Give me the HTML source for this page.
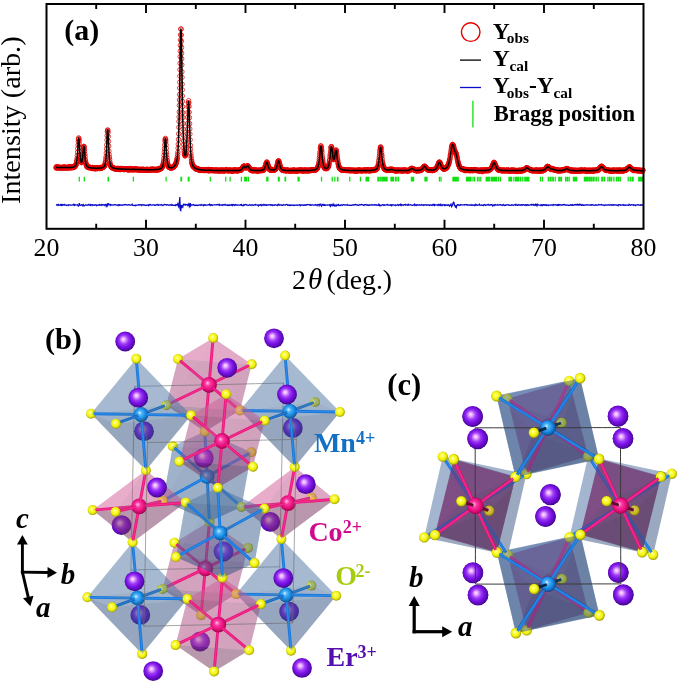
<!DOCTYPE html><html><head><meta charset="utf-8"><title>Figure</title><style>html,body{margin:0;padding:0;background:#fff}svg{display:block}text{font-family:"Liberation Serif","Times New Roman",serif}</style></head><body>
<svg width="683" height="685" viewBox="0 0 683 685">
<defs>
<radialGradient id="gEr" cx=".47" cy=".46" r=".56" fx=".40" fy=".38"><stop offset="0" stop-color="#ffe6ff"/><stop offset=".15" stop-color="#ecb0ff"/><stop offset=".4" stop-color="#9e3cf5"/><stop offset=".64" stop-color="#7a10e6"/><stop offset=".87" stop-color="#560aac"/><stop offset="1" stop-color="#3a0280"/></radialGradient>
<radialGradient id="gO" cx=".47" cy=".46" r=".56" fx=".40" fy=".38"><stop offset="0" stop-color="#ffffd8"/><stop offset=".3" stop-color="#fdfd3c"/><stop offset=".65" stop-color="#f0f010"/><stop offset=".9" stop-color="#b4b400"/><stop offset="1" stop-color="#8c8c00"/></radialGradient>
<radialGradient id="gMn" cx=".47" cy=".46" r=".56" fx=".40" fy=".38"><stop offset="0" stop-color="#d8f4ff"/><stop offset=".25" stop-color="#52b4fa"/><stop offset=".6" stop-color="#1a90e6"/><stop offset=".88" stop-color="#0e62b0"/><stop offset="1" stop-color="#084484"/></radialGradient>
<radialGradient id="gCo" cx=".47" cy=".46" r=".56" fx=".40" fy=".38"><stop offset="0" stop-color="#ffc0e4"/><stop offset=".3" stop-color="#f93aa0"/><stop offset=".65" stop-color="#ea1080"/><stop offset=".9" stop-color="#b00858"/><stop offset="1" stop-color="#860444"/></radialGradient>
</defs>
<rect width="683" height="685" fill="#fff"/>
<g id="pa"><marker id="mk" markerWidth="8" markerHeight="8" refX="4" refY="4" markerUnits="userSpaceOnUse"><circle cx="4" cy="4" r="2.25" fill="none" stroke="#e60000" stroke-width=".75"/></marker>
<polyline points="56,168.1 56.2,166.7 56.4,167.6 56.6,167.3 56.8,167.4 57,167.4 57.3,166.9 57.5,167.4 57.7,167.3 57.9,168.5 58.1,167.6 58.4,167.4 58.6,167.5 58.8,167.3 59,167.2 59.2,167.4 59.5,167.7 59.7,167.5 59.9,167.8 60.1,167.5 60.3,167.6 60.5,168 60.8,167.7 61,167.4 61.2,167.5 61.4,167.7 61.6,168.2 61.9,167.5 62.1,167.5 62.3,167.9 62.5,167.3 62.7,167.5 63,167.9 63.2,167.8 63.4,167.6 63.6,167.8 63.8,166.8 64.1,167.9 64.3,167.3 64.5,167.1 64.7,167.7 64.9,167.8 65.1,167.5 65.4,167.3 65.6,167.6 65.8,167.6 66,168 66.2,167.8 66.5,167.7 66.7,167.9 66.9,167.5 67.1,167.3 67.3,167.8 67.6,167.8 67.8,167.5 68,167.4 68.2,167.7 68.4,166.8 68.6,167.8 68.9,167.7 69.1,167.1 69.3,167.6 69.5,167.2 69.7,167.8 70,166.9 70.2,167.2 70.4,167.7 70.6,167.8 70.8,166.8 71.1,167.3 71.3,167.5 71.5,167.2 71.7,167.8 71.9,167 72.2,167.4 72.4,167 72.6,167.6 72.8,167.2 73,167 73.2,166.6 73.5,167.5 73.7,167.2 73.9,167.1 74.1,167.1 74.3,166.8 74.6,166.4 74.8,166.2 75,166 75.2,166.5 75.4,165.4 75.7,165.3 75.9,165 76.1,164.6 76.3,164 76.5,162.5 76.7,161.1 77,160 77.2,158.2 77.4,155.5 77.6,152.2 77.8,148.6 78.1,145.2 78.3,141.6 78.5,139.4 78.7,137.9 78.9,138.8 79.2,141 79.4,144.3 79.6,147.7 79.8,151.8 80,154.6 80.3,157.1 80.5,158.1 80.7,160.2 80.9,161.2 81.1,162.2 81.3,161.7 81.6,162.7 81.8,162.3 82,160.9 82.2,159.9 82.4,158.6 82.7,157 82.9,154.9 83.1,152.9 83.3,149.8 83.5,147.9 83.8,146.3 84,146.6 84.2,147.3 84.4,149.5 84.6,151.3 84.8,154.3 85.1,156.6 85.3,159.5 85.5,161.1 85.7,162.3 85.9,163.4 86.2,164.6 86.4,164.9 86.6,165.4 86.8,166.2 87,167.1 87.3,166.5 87.5,166.6 87.7,166.5 87.9,166.6 88.1,167.3 88.3,167.5 88.6,167.3 88.8,167.5 89,167.5 89.2,167.6 89.4,167.1 89.7,167.5 89.9,167.7 90.1,167.5 90.3,167.6 90.5,167.6 90.8,167.7 91,168.1 91.2,167.8 91.4,167.9 91.6,168.2 91.9,168.2 92.1,168.5 92.3,167.4 92.5,168.3 92.7,167.9 92.9,168.1 93.2,168.3 93.4,168.4 93.6,168.4 93.8,168.2 94,168.6 94.3,168 94.5,168.1 94.7,168.4 94.9,168 95.1,168.8 95.4,168.5 95.6,168.8 95.8,168.2 96,168.1 96.2,168.2 96.4,168.4 96.7,168 96.9,168.3 97.1,168.2 97.3,168.7 97.5,168 97.8,168.5 98,168 98.2,167.9 98.4,168 98.6,167.8 98.9,168.2 99.1,168.4 99.3,168.2 99.5,168.3 99.7,168.6 100,168.2 100.2,168.1 100.4,167.9 100.6,167.5 100.8,168.2 101,167.4 101.3,168.1 101.5,167.8 101.7,168.1 101.9,167.7 102.1,167.4 102.4,167.7 102.6,167.4 102.8,167.4 103,167.3 103.2,167.2 103.5,167 103.7,166.6 103.9,166.6 104.1,165.8 104.3,166.1 104.5,165.4 104.8,165.7 105,165.1 105.2,163.3 105.4,162.7 105.6,161.1 105.9,158.8 106.1,156.7 106.3,153.1 106.5,148.8 106.7,144.8 107,140.1 107.2,135.6 107.4,131.5 107.6,130 107.8,130.4 108.1,132.4 108.3,136.6 108.5,141.4 108.7,146 108.9,151.1 109.1,154.4 109.4,157.1 109.6,159.6 109.8,161.7 110,163.9 110.2,164.2 110.5,165.1 110.7,165.8 110.9,166.1 111.1,167.1 111.3,166.6 111.6,167.2 111.8,167.2 112,167.5 112.2,167.2 112.4,168.2 112.6,167.7 112.9,167.9 113.1,167.7 113.3,167.8 113.5,168.3 113.7,168.5 114,168.5 114.2,168.7 114.4,168.6 114.6,168.4 114.8,168.7 115.1,168.7 115.3,168.5 115.5,168.8 115.7,169 115.9,168.7 116.1,168.5 116.4,168.9 116.6,169.3 116.8,168.7 117,168.7 117.2,168.7 117.5,169.2 117.7,168.3 117.9,168.9 118.1,169.2 118.3,168.6 118.6,169.3 118.8,169.1 119,168.8 119.2,169 119.4,168.5 119.7,168.8 119.9,169.5 120.1,168.7 120.3,169.6 120.5,169 120.7,169.3 121,169 121.2,168.4 121.4,168.9 121.6,169.1 121.8,168.7 122.1,168.7 122.3,169.2 122.5,168.9 122.7,168.6 122.9,168.9 123.2,169.4 123.4,169 123.6,169.4 123.8,169.6 124,169.2 124.2,168.8 124.5,168.8 124.7,169.2 124.9,169.5 125.1,169.3 125.3,169.4 125.6,169.1 125.8,169.3 126,169.1 126.2,169.2 126.4,168.9 126.7,168.8 126.9,169.1 127.1,168.9 127.3,169 127.5,169.5 127.8,169.3 128,170.2 128.2,169.6 128.4,169.1 128.6,169.6 128.8,169.4 129.1,169.1 129.3,169.7 129.5,169.1 129.7,168.4 129.9,169.6 130.2,169.2 130.4,169.8 130.6,169.2 130.8,169 131,169.8 131.3,169 131.5,169.4 131.7,169.8 131.9,169.4 132.1,169.3 132.3,169.4 132.6,169.6 132.8,169.1 133,169.5 133.2,169.5 133.4,170 133.7,169.2 133.9,169 134.1,169.5 134.3,169.2 134.5,169.4 134.8,169.4 135,169.7 135.2,169.2 135.4,169.4 135.6,168.7 135.9,169.2 136.1,169.9 136.3,169.3 136.5,169.3 136.7,169.1 136.9,169.7 137.2,169.6 137.4,169.2 137.6,169.7 137.8,169.6 138,169.8 138.3,169.4 138.5,170.1 138.7,169.7 138.9,169.5 139.1,169.4 139.4,169.5 139.6,169.8 139.8,169.5 140,169.9 140.2,169.8 140.4,170 140.7,169.9 140.9,169.6 141.1,169 141.3,169.7 141.5,169.9 141.8,169.7 142,169.8 142.2,169.5 142.4,169.5 142.6,169.4 142.9,170.1 143.1,169.7 143.3,169.5 143.5,169.3 143.7,169.6 144,170.1 144.2,169.8 144.4,169.5 144.6,170.1 144.8,170.1 145,170 145.3,169.9 145.5,170 145.7,169.9 145.9,169.9 146.1,169.5 146.4,170.1 146.6,169.8 146.8,170.3 147,169.1 147.2,169.9 147.5,170 147.7,169.6 147.9,169.8 148.1,169.9 148.3,169.9 148.5,169.6 148.8,169.7 149,170 149.2,170.1 149.4,169.7 149.6,169.7 149.9,169.8 150.1,170 150.3,169.4 150.5,169.3 150.7,169.7 151,169.4 151.2,169.5 151.4,169.7 151.6,169.8 151.8,169.4 152,169.9 152.3,169.2 152.5,169.9 152.7,169.2 152.9,169.3 153.1,169.9 153.4,169.6 153.6,169.4 153.8,169.5 154,169.8 154.2,169.6 154.5,169.6 154.7,169.9 154.9,169.4 155.1,169.5 155.3,169.4 155.6,169.9 155.8,169.9 156,169.9 156.2,169.5 156.4,169.5 156.6,169.8 156.9,169.4 157.1,169.7 157.3,169.7 157.5,169.2 157.7,169.4 158,169.3 158.2,169.9 158.4,170.1 158.6,169.2 158.8,169.2 159.1,168.5 159.3,169.2 159.5,169.1 159.7,168.7 159.9,169.2 160.1,168.4 160.4,168.7 160.6,168.7 160.8,168.2 161,168.7 161.2,168.6 161.5,167.7 161.7,167.5 161.9,167.8 162.1,167.3 162.3,166.6 162.6,166.4 162.8,165.7 163,164.8 163.2,164 163.4,162.3 163.7,160.8 163.9,158.3 164.1,155.3 164.3,152.2 164.5,148.7 164.7,144.9 165,141.2 165.2,139.5 165.4,138.4 165.6,139.7 165.8,141.5 166.1,144.8 166.3,148.3 166.5,152.2 166.7,154.9 166.9,157.6 167.2,160.1 167.4,161.8 167.6,163.4 167.8,164.5 168,165.4 168.2,166.5 168.5,166.3 168.7,166.8 168.9,167 169.1,167.4 169.3,167 169.6,167.3 169.8,167.6 170,167.8 170.2,167.7 170.4,167.6 170.7,167.5 170.9,167.9 171.1,168.2 171.3,167.8 171.5,167.8 171.8,167.8 172,167.3 172.2,167.4 172.4,167.4 172.6,167.5 172.8,167.3 173.1,166.8 173.3,167.4 173.5,167.4 173.7,166.6 173.9,166.6 174.2,166.4 174.4,166.3 174.6,165.4 174.8,166.1 175,165.1 175.3,165.3 175.5,164.5 175.7,164 175.9,163.5 176.1,163.3 176.3,162.1 176.6,161.5 176.8,160.5 177,159.1 177.2,158.7 177.4,156.8 177.7,154.5 177.9,152.2 178.1,148.2 178.3,144.2 178.5,139.4 178.7,133.8 178.9,127.3 179,121.5 179.1,116.9 179.3,111.9 179.4,105.3 179.5,99.9 179.6,94.5 179.7,88 179.8,82.2 179.9,76.1 180,69.6 180.1,63.3 180.2,56.7 180.3,51.1 180.4,45.3 180.5,39.9 180.6,34.8 180.8,29 181.1,29.2 181.3,35.1 181.4,41.2 181.5,47.5 181.6,53.2 181.7,58.7 181.8,64.9 181.9,71.8 182,77.4 182.1,84.2 182.2,89.8 182.3,95.9 182.4,101.4 182.5,106.7 182.6,112.6 182.8,117.5 182.9,123.6 183.1,129.3 183.2,135 183.5,140.9 183.7,144.8 183.9,148.1 184.1,150.6 184.3,152.7 184.5,154.3 184.8,154.8 185,155.9 185.2,155.8 185.4,155.5 185.6,154.6 185.9,154 186.1,152.6 186.3,149.6 186.5,147.6 186.7,144.1 187,139.2 187.2,133.9 187.4,129.1 187.6,123.5 187.7,117.4 187.9,112.4 188.1,106.8 188.3,102.8 188.6,100.7 188.8,102.9 189,106.4 189.2,112.3 189.4,117.7 189.6,123.7 189.8,128.9 189.9,134.1 190.1,139.8 190.4,145.3 190.6,149.2 190.8,153.4 191,156 191.2,158.1 191.5,160.6 191.7,161.4 191.9,163 192.1,163.5 192.3,164.5 192.5,164.6 192.8,165.2 193,166.2 193.2,166.3 193.4,166.6 193.6,166.7 193.9,167.2 194.1,166.9 194.3,167.2 194.5,167.7 194.7,167.6 195,167.8 195.2,168.2 195.4,168.3 195.6,168.4 195.8,169 196,168.9 196.3,169.1 196.5,168.8 196.7,168.8 196.9,168.5 197.1,168.9 197.4,168.5 197.6,169 197.8,169.5 198,169.8 198.2,169.6 198.5,169.1 198.7,169.6 198.9,169.3 199.1,169.8 199.3,169.5 199.6,169.9 199.8,170.4 200,170 200.2,170.4 200.4,169.8 200.6,169.7 200.9,170.2 201.1,170.3 201.3,169.7 201.5,169.9 201.7,169.5 202,169.9 202.2,170.2 202.4,169.9 202.6,169.8 202.8,169.6 203.1,170.1 203.3,170.3 203.5,170.2 203.7,170.2 203.9,169.7 204.1,170.6 204.4,170.1 204.6,170.1 204.8,170.4 205,169.5 205.2,170.2 205.5,170.1 205.7,170.3 205.9,170.6 206.1,170.4 206.3,169.7 206.6,170.1 206.8,170.3 207,170.3 207.2,169.9 207.4,169.8 207.7,170.4 207.9,170.4 208.1,170.3 208.3,169.7 208.5,170.8 208.7,169.4 209,170.1 209.2,170.9 209.4,170.2 209.6,170.3 209.8,169.8 210.1,170.6 210.3,169.8 210.5,170.3 210.7,170.2 210.9,169.9 211.2,170.5 211.4,169.8 211.6,170.1 211.8,170.3 212,170.2 212.2,170.5 212.5,170.7 212.7,170.3 212.9,170.2 213.1,170.3 213.3,170.3 213.6,170.7 213.8,170.4 214,170.6 214.2,170.4 214.4,170.2 214.7,170.7 214.9,170.2 215.1,170.5 215.3,170.9 215.5,170.2 215.7,170.5 216,170 216.2,170.3 216.4,170.1 216.6,170.4 216.8,170.3 217.1,170.6 217.3,171 217.5,170.6 217.7,170.7 217.9,170.5 218.2,170.5 218.4,170.3 218.6,170 218.8,170.6 219,171 219.3,170.7 219.5,170.4 219.7,171 219.9,170.4 220.1,170.4 220.3,170.2 220.6,170.3 220.8,170.5 221,171.2 221.2,170.5 221.4,170.2 221.7,170.4 221.9,170.5 222.1,170 222.3,170.6 222.5,170.8 222.8,170.7 223,170.7 223.2,170.2 223.4,170.1 223.6,170.9 223.8,170.9 224.1,170.1 224.3,170.6 224.5,170.6 224.7,170.7 224.9,170.6 225.2,170.4 225.4,170.6 225.6,170.6 225.8,170.5 226,170 226.3,169.6 226.5,170.2 226.7,170 226.9,170.5 227.1,170.7 227.4,170.5 227.6,170.3 227.8,170.4 228,170.8 228.2,170.2 228.4,170.7 228.7,170.6 228.9,170.5 229.1,170.9 229.3,170.2 229.5,170.7 229.8,170.2 230,170.2 230.2,170.2 230.4,170.6 230.6,170.2 230.9,170.5 231.1,170.2 231.3,170.9 231.5,171.1 231.7,170.6 231.9,171 232.2,170.7 232.4,171.2 232.6,170.6 232.8,170.1 233,171 233.3,170.5 233.5,170.2 233.7,170.4 233.9,170.1 234.1,170.5 234.4,170.2 234.6,171 234.8,170.7 235,170 235.2,170.1 235.5,170.4 235.7,170 235.9,170.5 236.1,170.5 236.3,170.3 236.5,170.3 236.8,170.7 237,170.9 237.2,170.9 237.4,170.5 237.6,170.7 237.9,170.2 238.1,170.6 238.3,170.1 238.5,170.6 238.7,170 239,170.1 239.2,170.3 239.4,170.5 239.6,169.9 239.8,170.1 240,170.3 240.3,170.2 240.5,169.8 240.7,170 240.9,169.8 241.1,170.2 241.4,169.8 241.6,169 241.8,168.5 242,168.9 242.2,168.9 242.5,168.2 242.7,168 242.9,167.2 243.1,166.6 243.3,166.8 243.5,166.4 243.8,166.4 244,165.8 244.2,166.4 244.4,166.4 244.6,167.1 244.9,167 245.1,167.2 245.3,167.4 245.5,168.1 245.7,167.8 246,167.5 246.2,167.3 246.4,167 246.6,167.5 246.8,166.2 247.1,166.1 247.3,166.2 247.5,166.2 247.7,165.7 247.9,166 248.1,166.2 248.4,166.6 248.6,166.8 248.8,167.7 249,167.7 249.2,168.6 249.5,168.2 249.7,169.1 249.9,168.8 250.1,168.9 250.3,169.7 250.6,169.5 250.8,170 251,169.7 251.2,170.6 251.4,170.1 251.6,169.9 251.9,170.3 252.1,170.5 252.3,170.1 252.5,170.5 252.7,171 253,170.6 253.2,170.4 253.4,170.2 253.6,170.6 253.8,170 254.1,169.5 254.3,170.3 254.5,170.1 254.7,171 254.9,170.5 255.2,170.2 255.4,170.1 255.6,170.6 255.8,170.2 256,170.3 256.2,170.5 256.5,170.5 256.7,170.5 256.9,170.5 257.1,170.9 257.3,171 257.6,170 257.8,171.3 258,170.5 258.2,170.9 258.4,170.3 258.7,170.6 258.9,170.5 259.1,170.5 259.3,170.7 259.5,170.6 259.7,170.1 260,170.4 260.2,170.6 260.4,170.6 260.6,170.3 260.8,170.3 261.1,170.3 261.3,170 261.5,169.9 261.7,170.7 261.9,170.1 262.2,170.2 262.4,169.9 262.6,170.5 262.8,170.5 263,169.9 263.3,170 263.5,169.5 263.7,170.1 263.9,169.6 264.1,168.8 264.3,169.1 264.6,168.5 264.8,168 265,167.4 265.2,166.5 265.4,165.8 265.7,165.4 265.9,164.4 266.1,163.3 266.3,163.5 266.5,162.4 266.8,162.1 267,162.1 267.2,162.9 267.4,163.6 267.6,164.1 267.8,165.1 268.1,165.2 268.3,166.3 268.5,166.9 268.7,167.6 268.9,168.3 269.2,167.9 269.4,169.8 269.6,168.9 269.8,169.5 270,169.8 270.3,169.9 270.5,169.8 270.7,169 270.9,169.6 271.1,170.2 271.4,169.7 271.6,169.7 271.8,169.3 272,170.4 272.2,170.2 272.4,169.8 272.7,170 272.9,170 273.1,169.7 273.3,169.9 273.5,170.1 273.8,170.1 274,170.3 274.2,169.9 274.4,169.7 274.6,169.9 274.9,169.5 275.1,169.2 275.3,169.7 275.5,169.1 275.7,169 275.9,168.8 276.2,167.9 276.4,167.9 276.6,167.3 276.8,166.4 277,165.8 277.3,164.6 277.5,163.2 277.7,162.9 277.9,161.8 278.1,161.6 278.4,161 278.6,160.7 278.8,161.1 279,162 279.2,162.8 279.4,163.4 279.7,164.4 279.9,165.1 280.1,166 280.3,167 280.5,167.4 280.8,168.1 281,168.1 281.2,168.3 281.4,168.6 281.6,169.2 281.9,169.9 282.1,170 282.3,169.5 282.5,169.4 282.7,170.2 283,170.2 283.2,169.7 283.4,170.5 283.6,170.3 283.8,170.6 284,170.4 284.3,170.6 284.5,170.4 284.7,170.1 284.9,170.3 285.1,170.2 285.4,170.7 285.6,170.1 285.8,170 286,170.7 286.2,170.8 286.5,170.9 286.7,170.8 286.9,170 287.1,170.3 287.3,170.3 287.5,170.5 287.8,169.9 288,170.5 288.2,170.6 288.4,170.3 288.6,170.6 288.9,170.9 289.1,170.6 289.3,170.9 289.5,170.9 289.7,170.7 290,170.7 290.2,170.5 290.4,170.9 290.6,170.4 290.8,170.4 291.1,170.8 291.3,170.4 291.5,170.7 291.7,170.9 291.9,170.6 292.1,170.6 292.4,170.9 292.6,170.8 292.8,170.1 293,170.2 293.2,171 293.5,170.7 293.7,170 293.9,170.2 294.1,170.6 294.3,170.3 294.6,170.7 294.8,170.6 295,170.7 295.2,170.2 295.4,170.8 295.6,171.2 295.9,170.4 296.1,171 296.3,170.9 296.5,170.8 296.7,170.6 297,170.2 297.2,170.3 297.4,170.8 297.6,170.8 297.8,170.9 298.1,170.8 298.3,170.8 298.5,170.4 298.7,170.1 298.9,170.5 299.2,170.6 299.4,170.5 299.6,170 299.8,170.3 300,170 300.2,170.4 300.5,170.1 300.7,170.4 300.9,170.5 301.1,170.5 301.3,170.9 301.6,170.1 301.8,169.8 302,170.8 302.2,170.9 302.4,170.9 302.7,170.6 302.9,170.7 303.1,170.6 303.3,170.1 303.5,170.4 303.7,170.7 304,170.4 304.2,171.1 304.4,170.1 304.6,170.4 304.8,170.9 305.1,170.3 305.3,170.2 305.5,170.1 305.7,170.3 305.9,171 306.2,170.6 306.4,170.7 306.6,170.3 306.8,170.7 307,170.5 307.2,170.2 307.5,170.3 307.7,170.5 307.9,170.8 308.1,170.4 308.3,170.6 308.6,171 308.8,170.2 309,170.1 309.2,170.7 309.4,170.5 309.7,170.4 309.9,170.5 310.1,170.3 310.3,170.5 310.5,170.2 310.8,170.6 311,170 311.2,170.1 311.4,170.3 311.6,170.1 311.8,170.5 312.1,170.2 312.3,170 312.5,170.2 312.7,170 312.9,169.7 313.2,169.8 313.4,169.8 313.6,169.9 313.8,170 314,170.2 314.3,170.1 314.5,170.4 314.7,170.2 314.9,169.7 315.1,170.2 315.3,170 315.6,169.4 315.8,169.5 316,169.7 316.2,169.3 316.4,169.4 316.7,169 316.9,169 317.1,168.4 317.3,168.3 317.5,167.8 317.8,167.7 318,166.4 318.2,166.3 318.4,165.7 318.6,164.4 318.9,163 319.1,161.6 319.3,159.4 319.5,157.4 319.7,155.3 319.9,153 320.2,151.1 320.4,148.5 320.6,147.5 320.8,145.8 321,146.1 321.3,147.2 321.5,149.2 321.7,150.7 321.9,152.5 322.1,155.6 322.4,157.6 322.6,159.3 322.8,161 323,162.6 323.2,164.1 323.4,165.2 323.7,165.4 323.9,167.2 324.1,167 324.3,167.3 324.5,167.9 324.8,167.9 325,168.7 325.2,168.5 325.4,168.1 325.6,168.2 325.9,168.2 326.1,168.3 326.3,168.5 326.5,168.1 326.7,168.7 327,168.2 327.2,168 327.4,168.2 327.6,167.1 327.8,167.2 328,167.3 328.3,166.7 328.5,166.2 328.7,165.6 328.9,164.5 329.1,163.6 329.4,161.9 329.6,160.3 329.8,159.5 330,156.8 330.2,154.8 330.5,153.2 330.7,151 330.9,148.6 331.1,147.2 331.3,146.7 331.5,146.6 331.8,148 332,149.4 332.2,151.2 332.4,153.3 332.6,155.1 332.9,157 333.1,158.3 333.3,158.3 333.5,159.7 333.7,159.3 334,159.1 334.2,159.3 334.4,158 334.6,157.1 334.8,156.2 335,154.3 335.3,152.8 335.5,151.8 335.7,151.1 335.9,150.4 336.1,149.9 336.4,150.8 336.6,152.2 336.8,154.3 337,155.8 337.2,157.5 337.5,159.4 337.7,160.5 337.9,162.2 338.1,163.5 338.3,164.2 338.6,165.4 338.8,166.4 339,166.5 339.2,167.6 339.4,168 339.6,168.5 339.9,168.2 340.1,168.7 340.3,169.3 340.5,169.2 340.7,168.9 341,169.3 341.2,169.8 341.4,169.4 341.6,169.6 341.8,170.4 342.1,169.7 342.3,169.7 342.5,169.5 342.7,169.6 342.9,170.3 343.1,169.9 343.4,169.6 343.6,169.7 343.8,170 344,170.3 344.2,169.9 344.5,170.3 344.7,170 344.9,170.3 345.1,170.3 345.3,170.4 345.6,170.1 345.8,170.2 346,170.4 346.2,169.9 346.4,170.3 346.7,170.5 346.9,170.6 347.1,170.3 347.3,170.3 347.5,170.4 347.7,170.2 348,170.3 348.2,170.5 348.4,170.5 348.6,170.1 348.8,170.3 349.1,169.8 349.3,170.7 349.5,170.3 349.7,170.5 349.9,170.1 350.2,170.4 350.4,170.6 350.6,170.8 350.8,170.1 351,170.7 351.2,170.4 351.5,170.3 351.7,170.6 351.9,170.4 352.1,170.4 352.3,170.3 352.6,170.6 352.8,170.5 353,170.5 353.2,170.2 353.4,170.4 353.7,170.6 353.9,170.9 354.1,170.5 354.3,171 354.5,170.5 354.8,170.2 355,170.7 355.2,170.3 355.4,170.7 355.6,170.9 355.8,170.5 356.1,170.5 356.3,171.3 356.5,170.6 356.7,170.6 356.9,170.8 357.2,170.5 357.4,170.5 357.6,170.7 357.8,169.8 358,171 358.3,170.2 358.5,170.2 358.7,170.7 358.9,170.6 359.1,170.2 359.3,170.6 359.6,170.2 359.8,170.3 360,170.1 360.2,170.3 360.4,170.7 360.7,170.6 360.9,170.6 361.1,170.8 361.3,170.5 361.5,170.3 361.8,170.4 362,171 362.2,170.5 362.4,170.6 362.6,170.4 362.9,170.5 363.1,170.6 363.3,170.4 363.5,170.4 363.7,170.2 363.9,170.1 364.2,170.5 364.4,170.6 364.6,170.6 364.8,170.4 365,170.1 365.3,170.5 365.5,170.5 365.7,169.9 365.9,170.6 366.1,170.6 366.4,170.9 366.6,170.1 366.8,170 367,170.7 367.2,169.9 367.4,170.2 367.7,170.1 367.9,170.1 368.1,169.9 368.3,170.4 368.5,170.7 368.8,170.6 369,170.6 369.2,170.3 369.4,170.9 369.6,170.6 369.9,170.7 370.1,169.9 370.3,170.5 370.5,170 370.7,170.5 370.9,170.4 371.2,170 371.4,170.4 371.6,170.7 371.8,170.4 372,170.4 372.3,170 372.5,170 372.7,169.9 372.9,170.2 373.1,170.5 373.4,170.2 373.6,170.1 373.8,169.7 374,170.1 374.2,169.9 374.5,169.3 374.7,169.3 374.9,169.7 375.1,169.5 375.3,170.1 375.5,169.6 375.8,169.2 376,169.2 376.2,169.7 376.4,168.8 376.6,169.1 376.9,168.8 377.1,168.8 377.3,168.2 377.5,167.4 377.7,167.1 378,166.3 378.2,165.7 378.4,164.3 378.6,163.5 378.8,161.3 379,159.7 379.3,157.3 379.5,155.4 379.7,153.1 379.9,150.9 380.1,149.2 380.4,147.5 380.6,146.8 380.8,147.6 381,148.3 381.2,149.9 381.5,152.6 381.7,154.7 381.9,156 382.1,158.7 382.3,161 382.6,162.6 382.8,163.7 383,165.5 383.2,165.7 383.4,166.7 383.6,167.4 383.9,167.8 384.1,168.5 384.3,168.8 384.5,168.8 384.7,169.4 385,168.9 385.2,169.2 385.4,169.9 385.6,169.5 385.8,169.9 386.1,169.5 386.3,169.6 386.5,169.7 386.7,169.9 386.9,169.8 387.1,169.9 387.4,170.1 387.6,170.3 387.8,170 388,170.2 388.2,170.2 388.5,169.6 388.7,169.5 388.9,170.4 389.1,170.3 389.3,169.9 389.6,169.9 389.8,169.5 390,169.3 390.2,169.7 390.4,169.1 390.7,169.8 390.9,169.3 391.1,169.5 391.3,170 391.5,170 391.7,169.3 392,169.8 392.2,169.2 392.4,169.4 392.6,169.8 392.8,170.2 393.1,169.7 393.3,170.1 393.5,170 393.7,169.7 393.9,170.1 394.2,170.6 394.4,170.2 394.6,170.4 394.8,170.6 395,170.1 395.2,170.7 395.5,170.9 395.7,170.9 395.9,170.8 396.1,170.3 396.3,170.3 396.6,170.3 396.8,170.2 397,170.3 397.2,170.8 397.4,171 397.7,170.3 397.9,170.8 398.1,170.2 398.3,170.4 398.5,170.2 398.7,170.1 399,170.6 399.2,170.6 399.4,170.4 399.6,170.4 399.8,170.3 400.1,170.5 400.3,170.4 400.5,170.6 400.7,170.2 400.9,170.6 401.2,170.7 401.4,170.9 401.6,170.9 401.8,170.6 402,170.4 402.3,170 402.5,170.6 402.7,171 402.9,171.1 403.1,169.8 403.3,170.3 403.6,170.5 403.8,170.3 404,170.6 404.2,170.6 404.4,170.4 404.7,170.5 404.9,170.1 405.1,170.3 405.3,170.3 405.5,170.8 405.8,170 406,170.5 406.2,170.8 406.4,170.5 406.6,170.7 406.8,170.3 407.1,170.6 407.3,170.7 407.5,171.1 407.7,170.6 407.9,170.8 408.2,170.4 408.4,170.4 408.6,170.8 408.8,170.4 409,170.6 409.3,170.3 409.5,170.6 409.7,170.6 409.9,169.5 410.1,170.2 410.4,169.6 410.6,169.5 410.8,169.1 411,169.2 411.2,168.5 411.4,168.4 411.7,168.3 411.9,168.6 412.1,168.8 412.3,168.8 412.5,168.8 412.8,168.7 413,168.5 413.2,169.3 413.4,169.4 413.6,169.6 413.9,170.1 414.1,169.7 414.3,169.8 414.5,169.3 414.7,170.2 414.9,170.1 415.2,170 415.4,170.3 415.6,170 415.8,170.1 416,170.9 416.3,170.6 416.5,170.6 416.7,170.6 416.9,170.6 417.1,170.4 417.4,171 417.6,170.3 417.8,170.6 418,170.3 418.2,170.2 418.5,169.6 418.7,169.7 418.9,170.8 419.1,170.7 419.3,170.1 419.5,170.2 419.8,170.4 420,169.9 420.2,170.7 420.4,169.8 420.6,169.8 420.9,169.1 421.1,170.3 421.3,169.8 421.5,170.1 421.7,169.1 422,169.3 422.2,169 422.4,168.8 422.6,169.1 422.8,168.8 423,168.2 423.3,167.3 423.5,167.3 423.7,167.2 423.9,166.6 424.1,166.5 424.4,166.4 424.6,166 424.8,166.5 425,167.1 425.2,166.6 425.5,167.3 425.7,167.9 425.9,167.6 426.1,168.2 426.3,168.1 426.6,168.7 426.8,168.7 427,169 427.2,169.3 427.4,169.5 427.6,169.7 427.9,169.1 428.1,170.4 428.3,169.9 428.5,169.7 428.7,169.8 429,170.1 429.2,169.8 429.4,170 429.6,170 429.8,170.3 430.1,169.9 430.3,170.3 430.5,170.2 430.7,170.1 430.9,170.5 431.1,170.1 431.4,169.8 431.6,170.2 431.8,170.1 432,170.1 432.2,170.1 432.5,170.7 432.7,170.1 432.9,170.1 433.1,169.9 433.3,170.3 433.6,169.9 433.8,169.6 434,169.5 434.2,169.9 434.4,169.9 434.6,169.2 434.9,169.3 435.1,169.6 435.3,169.6 435.5,168.8 435.7,168.9 436,169.1 436.2,168.4 436.4,168.2 436.6,167.8 436.8,167.2 437.1,167.2 437.3,166.8 437.5,165.7 437.7,165.6 437.9,165.3 438.2,164.4 438.4,164 438.6,163 438.8,163.1 439,162.2 439.2,162.8 439.5,162.1 439.7,162.2 439.9,162.5 440.1,163.1 440.3,163.6 440.6,164.1 440.8,164.8 441,165.7 441.2,166.2 441.4,166.4 441.7,167.3 441.9,167 442.1,167.3 442.3,167.5 442.5,168.3 442.7,167.8 443,168 443.2,168.9 443.4,169.1 443.6,169.1 443.8,168.2 444.1,168.7 444.3,169 444.5,168.7 444.7,168.2 444.9,168.5 445.2,168 445.4,168.1 445.6,169 445.8,168.5 446,167.7 446.3,167.6 446.5,168 446.7,167.5 446.9,167.6 447.1,167 447.3,166.8 447.6,166.6 447.8,165.8 448,165.1 448.2,164.8 448.4,164.3 448.7,163.8 448.9,163.1 449.1,162.2 449.3,161.4 449.5,160 449.8,159.5 450,158.5 450.2,156.7 450.4,155.3 450.6,154.2 450.8,152.5 451.1,150.9 451.3,149.4 451.5,147.9 451.7,146.6 451.9,146.2 452.2,145.6 452.4,144.5 452.6,144.6 452.8,144.8 453,145 453.3,145.4 453.5,146.2 453.7,146.6 453.9,148 454.1,148.7 454.4,150.2 454.6,150.5 454.8,150.7 455,151.4 455.2,152.3 455.4,152.7 455.7,152.7 455.9,153.1 456.1,153.3 456.3,154.4 456.5,155.2 456.8,156 457,157.8 457.2,157.8 457.4,159.4 457.6,160.6 457.9,161.7 458.1,163 458.3,162.9 458.5,163.9 458.7,164.9 458.9,165.5 459.2,165.9 459.4,166.3 459.6,167.3 459.8,167 460,167.5 460.3,168.3 460.5,168.7 460.7,168.6 460.9,168.3 461.1,168.4 461.4,168.5 461.6,168.6 461.8,168.9 462,169.5 462.2,169.3 462.4,169.1 462.7,169.1 462.9,169.1 463.1,169.8 463.3,168.9 463.5,169.7 463.8,169.2 464,169.4 464.2,169.3 464.4,170.1 464.6,169.8 464.9,170.7 465.1,169.6 465.3,169.6 465.5,170.1 465.7,170.1 466,169.9 466.2,169.4 466.4,170.5 466.6,170.2 466.8,170.2 467,169.9 467.3,170.3 467.5,170 467.7,170.2 467.9,170.1 468.1,170.6 468.4,170.1 468.6,170.1 468.8,170.5 469,170.3 469.2,170.2 469.5,170.2 469.7,170.5 469.9,170.1 470.1,170.4 470.3,170.9 470.5,170.4 470.8,170.1 471,169.9 471.2,170.3 471.4,169.9 471.6,169.8 471.9,170.1 472.1,170 472.3,170.5 472.5,169.8 472.7,170.7 473,170 473.2,170.3 473.4,170.4 473.6,170.3 473.8,170.4 474.1,169.9 474.3,169.6 474.5,170.2 474.7,169.7 474.9,170.1 475.1,170.6 475.4,170.2 475.6,170.1 475.8,170 476,170.3 476.2,170.3 476.5,169.9 476.7,170.5 476.9,170.1 477.1,170.5 477.3,170.3 477.6,170.7 477.8,170.7 478,170.5 478.2,170.4 478.4,170.6 478.6,170.9 478.9,170.8 479.1,170.5 479.3,170.6 479.5,170.9 479.7,170 480,170.6 480.2,170.2 480.4,170.9 480.6,170.3 480.8,170.5 481.1,170.2 481.3,170.5 481.5,170.7 481.7,171 481.9,170.1 482.2,170.3 482.4,171.7 482.6,170.8 482.8,170.5 483,170.6 483.2,169.7 483.5,171 483.7,170.5 483.9,170 484.1,170.8 484.3,170.3 484.6,170.1 484.8,170.6 485,170.5 485.2,170.3 485.4,170.4 485.7,170 485.9,170 486.1,170.6 486.3,170.8 486.5,170.5 486.7,170.4 487,170.2 487.2,170.3 487.4,170 487.6,170.8 487.8,170 488.1,170.3 488.3,170.2 488.5,169.7 488.7,170.7 488.9,169.9 489.2,169.7 489.4,169.9 489.6,169.5 489.8,169.7 490,169.3 490.3,169.6 490.5,169.2 490.7,168.6 490.9,169.1 491.1,168.5 491.3,167.8 491.6,167.9 491.8,167.5 492,167.4 492.2,166.1 492.4,166.1 492.7,165.2 492.9,164.9 493.1,164.1 493.3,163.7 493.5,163.4 493.8,162.6 494,162.2 494.2,162.8 494.4,162.9 494.6,163.4 494.8,163.9 495.1,164.2 495.3,165.1 495.5,165.3 495.7,165.9 495.9,166.6 496.2,167 496.4,167.3 496.6,167.7 496.8,167.8 497,168.1 497.3,168.6 497.5,169 497.7,168.8 497.9,169.4 498.1,169.9 498.3,170 498.6,169.5 498.8,169.9 499,169.9 499.2,170 499.4,170.1 499.7,170.1 499.9,170.3 500.1,170.1 500.3,170.1 500.5,170.3 500.8,170.4 501,170.6 501.2,170.4 501.4,170.6 501.6,170.8 501.9,170.1 502.1,170.3 502.3,170.6 502.5,170.5 502.7,170.2 502.9,170.8 503.2,170.5 503.4,170.2 503.6,171.1 503.8,170.1 504,170.5 504.3,170.3 504.5,170.6 504.7,170.7 504.9,170.3 505.1,170.5 505.4,170.5 505.6,170.3 505.8,170.9 506,170.6 506.2,170.5 506.4,170.4 506.7,170.5 506.9,170.7 507.1,170.5 507.3,171 507.5,169.9 507.8,170 508,170.5 508.2,170.1 508.4,170.6 508.6,170.4 508.9,170.8 509.1,170.8 509.3,171 509.5,170.9 509.7,171 510,170.8 510.2,171 510.4,170.8 510.6,170.5 510.8,170.3 511,170.3 511.3,170.8 511.5,169.9 511.7,170.7 511.9,170.4 512.1,170.9 512.4,170.7 512.6,170.4 512.8,170.7 513,170 513.2,170.7 513.5,170.8 513.7,170.1 513.9,170.9 514.1,170.6 514.3,170.7 514.5,170.2 514.8,170.8 515,170.8 515.2,170.7 515.4,170.4 515.6,170.9 515.9,171 516.1,170.8 516.3,171 516.5,170.5 516.7,170.7 517,170.8 517.2,170.7 517.4,171.5 517.6,170.8 517.8,170.5 518.1,170.9 518.3,170.3 518.5,170.7 518.7,170.9 518.9,170.5 519.1,170.5 519.4,170.3 519.6,170.6 519.8,170.4 520,171.1 520.2,170.8 520.5,170.5 520.7,170.1 520.9,171.2 521.1,170.9 521.3,170.7 521.6,170.6 521.8,170.5 522,170.3 522.2,171 522.4,170.5 522.6,169.9 522.9,170.1 523.1,169.5 523.3,170.4 523.5,170.3 523.7,170.5 524,170.5 524.2,169.5 524.4,169.8 524.6,169.8 524.8,169.5 525.1,169 525.3,169.2 525.5,168.9 525.7,169 525.9,168.4 526.1,168.1 526.4,167.9 526.6,167.9 526.8,167.7 527,167.8 527.2,168.1 527.5,168.2 527.7,168.6 527.9,168.7 528.1,168.8 528.3,168.4 528.6,169.2 528.8,169.5 529,169 529.2,169.2 529.4,169.4 529.7,169.5 529.9,169.8 530.1,169.7 530.3,170.2 530.5,169.8 530.7,170.2 531,170.1 531.2,170 531.4,170.7 531.6,170.4 531.8,170.6 532.1,170.4 532.3,170.7 532.5,170.7 532.7,170.5 532.9,170 533.2,170.8 533.4,170.8 533.6,170.6 533.8,170.6 534,170.6 534.2,170.6 534.5,170.3 534.7,170.6 534.9,170.7 535.1,170.4 535.3,170.3 535.6,171.1 535.8,170.8 536,170.5 536.2,170.4 536.4,169.8 536.7,170.2 536.9,170.5 537.1,171 537.3,170 537.5,170.4 537.8,171.2 538,170.8 538.2,170.7 538.4,170.9 538.6,170.5 538.8,170.5 539.1,170.8 539.3,170.8 539.5,170.2 539.7,171 539.9,170 540.2,170.3 540.4,171.4 540.6,170.4 540.8,170.7 541,170.2 541.3,170.4 541.5,170.2 541.7,170.3 541.9,170.6 542.1,170.9 542.3,170.6 542.6,170.8 542.8,170.1 543,170.7 543.2,170.3 543.4,170.5 543.7,169.9 543.9,169.9 544.1,170.3 544.3,169.9 544.5,169.6 544.8,169.3 545,169.3 545.2,169.3 545.4,169.1 545.6,168.5 545.9,168.4 546.1,168.3 546.3,167.6 546.5,168 546.7,167.5 546.9,167.2 547.2,166.4 547.4,166.5 547.6,166.5 547.8,166.6 548,166.5 548.3,167 548.5,167.1 548.7,167.1 548.9,166.8 549.1,168 549.4,167.8 549.6,168.2 549.8,168 550,168.4 550.2,168.8 550.4,168.8 550.7,169.1 550.9,168.8 551.1,169.6 551.3,168.4 551.5,168.9 551.8,169.4 552,169 552.2,169 552.4,168.6 552.6,169.5 552.9,168.6 553.1,169.4 553.3,169.4 553.5,169.7 553.7,169.9 553.9,169.4 554.2,169.4 554.4,169.7 554.6,169.3 554.8,170.2 555,169.9 555.3,170.1 555.5,169.8 555.7,170.2 555.9,170 556.1,170.2 556.4,170 556.6,170.6 556.8,170.2 557,169.6 557.2,170.6 557.5,170.3 557.7,170.2 557.9,171.2 558.1,170.5 558.3,170.1 558.5,170.3 558.8,170.6 559,170.4 559.2,170.9 559.4,170.8 559.6,170.3 559.9,170.5 560.1,170.7 560.3,170.4 560.5,170.4 560.7,170.8 561,170.6 561.2,170.1 561.4,170.3 561.6,170.3 561.8,170.4 562,170.2 562.3,170.8 562.5,170.1 562.7,170 562.9,170.3 563.1,169.6 563.4,169.9 563.6,170.3 563.8,169.6 564,169.7 564.2,170.2 564.5,169.9 564.7,169.7 564.9,169.6 565.1,169.2 565.3,169.4 565.6,169.2 565.8,169.9 566,169.2 566.2,168.9 566.4,168.9 566.6,168.9 566.9,168.5 567.1,168.7 567.3,169.5 567.5,168.7 567.7,169 568,169.6 568.2,169.9 568.4,169.2 568.6,170.1 568.8,169.7 569.1,170.4 569.3,170.1 569.5,170 569.7,170.3 569.9,170.4 570.1,170 570.4,171 570.6,170.3 570.8,170.8 571,170.3 571.2,169.9 571.5,170.2 571.7,170.5 571.9,170.7 572.1,171.1 572.3,170.6 572.6,170.5 572.8,170.2 573,170.6 573.2,170.7 573.4,170 573.7,171 573.9,171 574.1,171.3 574.3,170.4 574.5,170.7 574.7,170.7 575,170.3 575.2,170.4 575.4,170.4 575.6,170.8 575.8,170.8 576.1,171.1 576.3,170.5 576.5,170.2 576.7,170.8 576.9,170.8 577.2,170.9 577.4,171 577.6,170.5 577.8,170.9 578,170.4 578.2,170.7 578.5,170.9 578.7,170.6 578.9,170.7 579.1,170.2 579.3,170.5 579.6,170.7 579.8,170.3 580,170.4 580.2,171.4 580.4,170.7 580.7,170.3 580.9,170.3 581.1,171 581.3,169.7 581.5,170.4 581.8,170.7 582,170.3 582.2,170.6 582.4,170.2 582.6,170.5 582.8,170.5 583.1,170.5 583.3,170.5 583.5,170.5 583.7,170.9 583.9,170.5 584.2,170.4 584.4,170.5 584.6,170.5 584.8,170.1 585,170 585.3,170.2 585.5,170.7 585.7,170.4 585.9,170.5 586.1,171.5 586.3,171 586.6,170.6 586.8,170.4 587,171 587.2,170.4 587.4,171 587.7,170.8 587.9,171.1 588.1,170.4 588.3,170.9 588.5,170.1 588.8,170.6 589,171 589.2,170.8 589.4,170.1 589.6,170.8 589.8,170.8 590.1,170.6 590.3,170.4 590.5,170.5 590.7,170.4 590.9,170.9 591.2,170.7 591.4,170.9 591.6,170.8 591.8,170.2 592,170.6 592.3,171.2 592.5,170.2 592.7,170.7 592.9,170.3 593.1,170.3 593.4,170.6 593.6,170.8 593.8,170.8 594,170.7 594.2,170.8 594.4,170 594.7,170.7 594.9,170.6 595.1,170.4 595.3,170.4 595.5,170.2 595.8,170.7 596,170.1 596.2,169.9 596.4,170.3 596.6,170.1 596.9,170.2 597.1,170.6 597.3,170 597.5,170 597.7,170.6 597.9,169.3 598.2,169.8 598.4,169.9 598.6,169.8 598.8,169.8 599,168.8 599.3,168.9 599.5,168.5 599.7,168.1 599.9,167.8 600.1,167.3 600.4,167.6 600.6,167.5 600.8,166.8 601,167.2 601.2,166.6 601.5,166.5 601.7,166 601.9,167.2 602.1,167.2 602.3,167.1 602.5,167.3 602.8,167.2 603,168 603.2,168.1 603.4,168.5 603.6,168.6 603.9,168.4 604.1,168.5 604.3,169.3 604.5,168.8 604.7,169.6 605,169.9 605.2,169.3 605.4,170 605.6,169.9 605.8,170.1 606,169.8 606.3,170 606.5,170.2 606.7,170.6 606.9,170.3 607.1,170.3 607.4,169.8 607.6,170.3 607.8,170 608,170.2 608.2,170.3 608.5,170.6 608.7,170.5 608.9,170.4 609.1,170.4 609.3,170.8 609.6,170.2 609.8,170.5 610,170.9 610.2,170.4 610.4,170.8 610.6,170.8 610.9,171.1 611.1,170.9 611.3,170.1 611.5,170.6 611.7,170.7 612,170.8 612.2,170.7 612.4,171.2 612.6,170.9 612.8,170.3 613.1,170.4 613.3,170 613.5,171.1 613.7,170.6 613.9,170.6 614.1,170.1 614.4,170.5 614.6,170.7 614.8,170.5 615,170.5 615.2,170.4 615.5,171.2 615.7,170.4 615.9,170.2 616.1,170.5 616.3,170.5 616.6,170.6 616.8,170.5 617,170.3 617.2,170.5 617.4,170.7 617.6,170.2 617.9,171.2 618.1,171.1 618.3,170 618.5,170.5 618.7,170.9 619,171 619.2,171.1 619.4,170 619.6,170.2 619.8,170.4 620.1,170.7 620.3,170.2 620.5,170.7 620.7,170.7 620.9,170.8 621.2,170.2 621.4,170.6 621.6,170.6 621.8,170.4 622,170.9 622.2,170.4 622.5,170.9 622.7,170.3 622.9,171 623.1,171 623.3,170.2 623.6,170.5 623.8,170.5 624,170.1 624.2,170.6 624.4,170.5 624.7,170 624.9,170.2 625.1,170.4 625.3,170 625.5,169.8 625.7,170.4 626,169.5 626.2,169.8 626.4,169.9 626.6,169.6 626.8,168.6 627.1,168.9 627.3,168.8 627.5,168.5 627.7,168.6 627.9,168.3 628.2,168 628.4,167.8 628.6,167.8 628.8,167.8 629,166.7 629.3,167.9 629.5,167 629.7,167.5 629.9,166.9 630.1,167.4 630.3,167.3 630.6,168.2 630.8,168.4 631,168.3 631.2,168.5 631.4,168.9 631.7,168.7 631.9,169 632.1,169.1 632.3,169.7 632.5,169.6 632.8,169.3 633,169.9 633.2,170 633.4,170.4 633.6,169.8 633.8,170.2 634.1,170.7 634.3,170 634.5,170 634.7,170.3 634.9,170 635.2,170.2 635.4,170 635.6,170 635.8,170.5 636,170.2 636.3,170 636.5,170.2 636.7,170.3 636.9,170.5 637.1,170.7 637.4,171 637.6,170.1 637.8,170.4 638,170 638.2,170.6 638.4,170.7 638.7,170.4 638.9,170.3 639.1,170.3 639.3,170.2 639.5,170.8 639.8,171.2 640,170.3 640.2,171.1 640.4,170.6 640.6,170.2 640.9,170.8 641.1,170.9 641.3,170.8 641.5,170.6 641.7,171.2 641.9,170.6 642.2,170.9 642.4,170.9 642.6,170.4 642.8,170.1 643,170.2" fill="none" stroke="none" marker-start="url(#mk)" marker-mid="url(#mk)" marker-end="url(#mk)"/>
<polyline points="56,167.5 56.1,167.5 56.3,167.5 56.4,167.5 56.5,167.5 56.7,167.5 56.8,167.5 57,167.5 57.1,167.5 57.3,167.5 57.4,167.5 57.6,167.5 57.7,167.5 57.9,167.5 58,167.5 58.2,167.5 58.3,167.5 58.5,167.5 58.6,167.5 58.8,167.5 58.9,167.5 59.1,167.5 59.2,167.5 59.4,167.5 59.5,167.6 59.7,167.6 59.8,167.6 60,167.6 60.1,167.6 60.3,167.6 60.4,167.6 60.6,167.6 60.7,167.6 60.9,167.6 61,167.6 61.2,167.6 61.3,167.6 61.5,167.6 61.6,167.6 61.8,167.6 61.9,167.6 62.1,167.6 62.2,167.6 62.4,167.6 62.5,167.6 62.7,167.6 62.8,167.6 63,167.6 63.1,167.6 63.3,167.6 63.4,167.6 63.6,167.6 63.7,167.6 63.9,167.6 64,167.6 64.2,167.6 64.3,167.6 64.5,167.6 64.6,167.6 64.8,167.6 64.9,167.6 65.1,167.6 65.2,167.6 65.4,167.6 65.5,167.6 65.7,167.6 65.8,167.6 66,167.6 66.1,167.6 66.3,167.6 66.4,167.6 66.5,167.6 66.7,167.6 66.8,167.6 67,167.6 67.1,167.6 67.3,167.6 67.4,167.6 67.6,167.6 67.7,167.6 67.9,167.6 68,167.6 68.2,167.6 68.3,167.6 68.5,167.6 68.6,167.6 68.8,167.6 68.9,167.6 69.1,167.6 69.2,167.6 69.4,167.5 69.5,167.5 69.7,167.5 69.8,167.5 70,167.5 70.1,167.5 70.3,167.5 70.4,167.5 70.6,167.5 70.7,167.5 70.9,167.5 71,167.4 71.2,167.4 71.3,167.4 71.5,167.4 71.6,167.4 71.8,167.4 71.9,167.3 72.1,167.3 72.2,167.3 72.4,167.3 72.5,167.2 72.7,167.2 72.8,167.2 73,167.1 73.1,167.1 73.3,167.1 73.4,167 73.6,167 73.7,166.9 73.9,166.9 74,166.8 74.2,166.8 74.3,166.7 74.5,166.6 74.6,166.5 74.8,166.4 74.9,166.3 75.1,166.2 75.2,166.1 75.4,165.9 75.5,165.7 75.7,165.5 75.8,165.2 76,164.9 76.1,164.5 76.3,164.1 76.4,163.5 76.5,162.8 76.7,162 76.8,160.9 77,159.7 77.1,158.3 77.3,156.6 77.4,154.7 77.6,152.6 77.7,150.3 77.9,147.9 78,145.4 78.2,143 78.3,140.9 78.5,139.3 78.6,138.3 78.8,138.1 78.9,138.8 79.1,140.2 79.2,142.1 79.4,144.3 79.5,146.7 79.7,149.1 79.8,151.4 80,153.5 80.1,155.3 80.3,157 80.4,158.4 80.6,159.6 80.7,160.5 80.9,161.2 81,161.8 81.2,162.1 81.3,162.3 81.5,162.4 81.6,162.3 81.8,162 81.9,161.6 82.1,161 82.2,160.2 82.4,159.3 82.5,158.2 82.7,156.9 82.8,155.4 83,153.8 83.1,152.1 83.3,150.4 83.4,148.8 83.6,147.4 83.7,146.5 83.9,146 84,146.2 84.2,146.9 84.3,148.1 84.5,149.7 84.6,151.4 84.8,153.2 84.9,155 85.1,156.7 85.2,158.3 85.4,159.7 85.5,160.9 85.7,162 85.8,162.9 86,163.6 86.1,164.3 86.3,164.8 86.4,165.2 86.5,165.6 86.7,165.8 86.8,166.1 87,166.3 87.1,166.4 87.3,166.6 87.4,166.7 87.6,166.8 87.7,166.9 87.9,167 88,167.1 88.2,167.2 88.3,167.2 88.5,167.3 88.6,167.4 88.8,167.4 88.9,167.5 89.1,167.5 89.2,167.5 89.4,167.6 89.5,167.6 89.7,167.6 89.8,167.7 90,167.7 90.1,167.7 90.3,167.8 90.4,167.8 90.6,167.8 90.7,167.8 90.9,167.9 91,167.9 91.2,167.9 91.3,167.9 91.5,167.9 91.6,167.9 91.8,168 91.9,168 92.1,168 92.2,168 92.4,168 92.5,168 92.7,168 92.8,168.1 93,168.1 93.1,168.1 93.3,168.1 93.4,168.1 93.6,168.1 93.7,168.1 93.9,168.1 94,168.1 94.2,168.1 94.3,168.1 94.5,168.1 94.6,168.1 94.8,168.2 94.9,168.2 95.1,168.2 95.2,168.2 95.4,168.2 95.5,168.2 95.7,168.2 95.8,168.2 96,168.2 96.1,168.2 96.3,168.2 96.4,168.2 96.5,168.2 96.7,168.2 96.8,168.2 97,168.2 97.1,168.2 97.3,168.2 97.4,168.2 97.6,168.2 97.7,168.2 97.9,168.2 98,168.2 98.2,168.2 98.3,168.2 98.5,168.2 98.6,168.2 98.8,168.2 98.9,168.1 99.1,168.1 99.2,168.1 99.4,168.1 99.5,168.1 99.7,168.1 99.8,168.1 100,168.1 100.1,168.1 100.3,168 100.4,168 100.6,168 100.7,168 100.9,168 101,167.9 101.2,167.9 101.3,167.9 101.5,167.9 101.6,167.8 101.8,167.8 101.9,167.7 102.1,167.7 102.2,167.7 102.4,167.6 102.5,167.5 102.7,167.5 102.8,167.4 103,167.4 103.1,167.3 103.3,167.2 103.4,167.1 103.6,167 103.7,166.9 103.9,166.7 104,166.6 104.2,166.4 104.3,166.2 104.5,166 104.6,165.7 104.8,165.3 104.9,164.9 105.1,164.5 105.2,163.8 105.4,163.1 105.5,162.2 105.7,161.1 105.8,159.7 106,158.1 106.1,156.2 106.2,154 106.4,151.5 106.5,148.8 106.7,145.7 106.8,142.5 107,139.2 107.1,136.1 107.3,133.3 107.4,131.2 107.6,129.9 107.7,129.8 107.9,130.7 108,132.6 108.2,135.2 108.3,138.2 108.5,141.5 108.6,144.7 108.8,147.8 108.9,150.7 109.1,153.3 109.2,155.6 109.4,157.6 109.5,159.3 109.7,160.8 109.8,162 110,163 110.1,163.8 110.3,164.4 110.4,165 110.6,165.4 110.7,165.8 110.9,166.1 111,166.3 111.2,166.5 111.3,166.7 111.5,166.9 111.6,167.1 111.8,167.2 111.9,167.3 112.1,167.4 112.2,167.5 112.4,167.6 112.5,167.7 112.7,167.8 112.8,167.8 113,167.9 113.1,168 113.3,168 113.4,168.1 113.6,168.1 113.7,168.2 113.9,168.2 114,168.3 114.2,168.3 114.3,168.3 114.5,168.4 114.6,168.4 114.8,168.4 114.9,168.5 115.1,168.5 115.2,168.5 115.4,168.5 115.5,168.6 115.7,168.6 115.8,168.6 116,168.6 116.1,168.6 116.2,168.7 116.4,168.7 116.5,168.7 116.7,168.7 116.8,168.7 117,168.7 117.1,168.8 117.3,168.8 117.4,168.8 117.6,168.8 117.7,168.8 117.9,168.8 118,168.8 118.2,168.9 118.3,168.9 118.5,168.9 118.6,168.9 118.8,168.9 118.9,168.9 119.1,168.9 119.2,168.9 119.4,168.9 119.5,169 119.7,169 119.8,169 120,169 120.1,169 120.3,169 120.4,169 120.6,169 120.7,169 120.9,169 121,169 121.2,169 121.3,169.1 121.5,169.1 121.6,169.1 121.8,169.1 121.9,169.1 122.1,169.1 122.2,169.1 122.4,169.1 122.5,169.1 122.7,169.1 122.8,169.1 123,169.1 123.1,169.1 123.3,169.1 123.4,169.1 123.6,169.2 123.7,169.2 123.9,169.2 124,169.2 124.2,169.2 124.3,169.2 124.5,169.2 124.6,169.2 124.8,169.2 124.9,169.2 125.1,169.2 125.2,169.2 125.4,169.2 125.5,169.2 125.7,169.2 125.8,169.2 126,169.2 126.1,169.2 126.2,169.2 126.4,169.3 126.5,169.3 126.7,169.3 126.8,169.3 127,169.3 127.1,169.3 127.3,169.3 127.4,169.3 127.6,169.3 127.7,169.3 127.9,169.3 128,169.3 128.2,169.3 128.3,169.3 128.5,169.3 128.6,169.3 128.8,169.3 128.9,169.3 129.1,169.3 129.2,169.3 129.4,169.3 129.5,169.3 129.7,169.3 129.8,169.3 130,169.4 130.1,169.4 130.3,169.4 130.4,169.4 130.6,169.4 130.7,169.4 130.9,169.4 131,169.4 131.2,169.4 131.3,169.4 131.5,169.4 131.6,169.4 131.8,169.4 131.9,169.4 132.1,169.3 132.2,169.3 132.4,169.3 132.5,169.3 132.7,169.3 132.8,169.3 133,169.3 133.1,169.3 133.3,169.3 133.4,169.3 133.6,169.3 133.7,169.3 133.9,169.3 134,169.3 134.2,169.3 134.3,169.3 134.5,169.3 134.6,169.3 134.8,169.3 134.9,169.4 135.1,169.4 135.2,169.4 135.4,169.4 135.5,169.4 135.7,169.4 135.8,169.4 136,169.5 136.1,169.5 136.2,169.5 136.4,169.5 136.5,169.5 136.7,169.5 136.8,169.5 137,169.5 137.1,169.5 137.3,169.5 137.4,169.5 137.6,169.5 137.7,169.5 137.9,169.5 138,169.6 138.2,169.6 138.3,169.6 138.5,169.6 138.6,169.6 138.8,169.6 138.9,169.6 139.1,169.6 139.2,169.6 139.4,169.6 139.5,169.6 139.7,169.6 139.8,169.6 140,169.6 140.1,169.6 140.3,169.6 140.4,169.6 140.6,169.6 140.7,169.6 140.9,169.6 141,169.6 141.2,169.6 141.3,169.6 141.5,169.6 141.6,169.6 141.8,169.6 141.9,169.6 142.1,169.6 142.2,169.6 142.4,169.6 142.5,169.6 142.7,169.6 142.8,169.7 143,169.7 143.1,169.7 143.3,169.7 143.4,169.7 143.6,169.7 143.7,169.7 143.9,169.7 144,169.7 144.2,169.7 144.3,169.7 144.5,169.7 144.6,169.7 144.8,169.7 144.9,169.7 145.1,169.7 145.2,169.7 145.4,169.7 145.5,169.7 145.7,169.7 145.8,169.7 146,169.7 146.1,169.7 146.2,169.7 146.4,169.7 146.5,169.7 146.7,169.7 146.8,169.7 147,169.7 147.1,169.7 147.3,169.7 147.4,169.7 147.6,169.7 147.7,169.7 147.9,169.7 148,169.7 148.2,169.7 148.3,169.7 148.5,169.7 148.6,169.7 148.8,169.7 148.9,169.7 149.1,169.7 149.2,169.7 149.4,169.7 149.5,169.7 149.7,169.7 149.8,169.7 150,169.7 150.1,169.7 150.3,169.7 150.4,169.7 150.6,169.7 150.7,169.7 150.9,169.7 151,169.7 151.2,169.7 151.3,169.7 151.5,169.7 151.6,169.7 151.8,169.7 151.9,169.7 152.1,169.7 152.2,169.7 152.4,169.7 152.5,169.7 152.7,169.7 152.8,169.7 153,169.7 153.1,169.7 153.3,169.7 153.4,169.7 153.6,169.7 153.7,169.7 153.9,169.7 154,169.7 154.2,169.7 154.3,169.6 154.5,169.6 154.6,169.6 154.8,169.6 154.9,169.6 155.1,169.6 155.2,169.6 155.4,169.6 155.5,169.6 155.7,169.6 155.8,169.6 156,169.6 156.1,169.6 156.2,169.5 156.4,169.5 156.5,169.5 156.7,169.5 156.8,169.5 157,169.5 157.1,169.5 157.3,169.4 157.4,169.4 157.6,169.4 157.7,169.4 157.9,169.4 158,169.4 158.2,169.3 158.3,169.3 158.5,169.3 158.6,169.3 158.8,169.2 158.9,169.2 159.1,169.2 159.2,169.1 159.4,169.1 159.5,169.1 159.7,169 159.8,169 160,168.9 160.1,168.9 160.3,168.8 160.4,168.7 160.6,168.7 160.7,168.6 160.9,168.5 161,168.4 161.2,168.3 161.3,168.2 161.5,168.1 161.6,168 161.8,167.8 161.9,167.6 162.1,167.4 162.2,167.2 162.4,166.9 162.5,166.6 162.7,166.1 162.8,165.6 163,165 163.1,164.3 163.3,163.4 163.4,162.4 163.6,161.1 163.7,159.7 163.9,158 164,156.2 164.2,154.1 164.3,151.8 164.5,149.4 164.6,147 164.8,144.6 164.9,142.3 165.1,140.4 165.2,139.1 165.4,138.4 165.5,138.6 165.7,139.4 165.8,141 165.9,143 166.1,145.3 166.2,147.7 166.4,150.1 166.5,152.4 166.7,154.6 166.8,156.6 167,158.4 167.1,159.9 167.3,161.3 167.4,162.4 167.6,163.4 167.7,164.2 167.9,164.8 168,165.4 168.2,165.8 168.3,166.2 168.5,166.5 168.6,166.7 168.8,166.9 168.9,167.1 169.1,167.2 169.2,167.3 169.4,167.4 169.5,167.5 169.7,167.6 169.8,167.6 170,167.7 170.1,167.7 170.3,167.7 170.4,167.8 170.6,167.8 170.7,167.8 170.9,167.8 171,167.8 171.2,167.8 171.3,167.7 171.5,167.7 171.6,167.7 171.8,167.7 171.9,167.6 172.1,167.6 172.2,167.5 172.4,167.5 172.5,167.4 172.7,167.4 172.8,167.3 173,167.2 173.1,167.1 173.3,167 173.4,166.9 173.6,166.8 173.7,166.7 173.9,166.6 174,166.5 174.2,166.3 174.3,166.2 174.5,166 174.6,165.8 174.8,165.6 174.9,165.4 175.1,165.2 175.2,165 175.4,164.7 175.5,164.5 175.7,164.2 175.8,163.8 175.9,163.5 176.1,163.1 176.2,162.7 176.4,162.2 176.5,161.7 176.7,161.1 176.8,160.4 177,159.7 177.1,158.8 177.3,157.8 177.4,156.6 177.6,155.3 177.7,153.6 177.9,151.8 178,149.5 178.2,146.9 178.3,143.8 178.5,140.2 178.6,136 178.8,131.2 178.9,125.7 179.1,119.5 179.2,112.6 179.4,104.9 179.5,96.6 179.7,87.7 179.8,78.4 180,68.8 180.1,59.4 180.3,50.4 180.4,42.4 180.6,35.8 180.7,31.2 180.9,29 181,29.4 181.2,32.3 181.3,37.5 181.5,44.6 181.6,52.9 181.8,62 181.9,71.4 182.1,80.8 182.2,89.9 182.4,98.5 182.5,106.5 182.7,113.8 182.8,120.3 183,126.2 183.1,131.3 183.3,135.8 183.4,139.6 183.6,142.9 183.7,145.6 183.9,147.9 184,149.8 184.2,151.3 184.3,152.6 184.5,153.6 184.6,154.4 184.8,155 184.9,155.4 185.1,155.7 185.2,155.7 185.4,155.7 185.5,155.4 185.7,154.9 185.8,154.3 185.9,153.4 186.1,152.2 186.2,150.7 186.4,148.9 186.5,146.8 186.7,144.3 186.8,141.4 187,138.2 187.1,134.5 187.3,130.6 187.4,126.3 187.6,121.9 187.7,117.4 187.9,113 188,109 188.2,105.6 188.3,103 188.5,101.6 188.6,101.5 188.8,102.7 188.9,105.1 189.1,108.5 189.2,112.6 189.4,117.1 189.5,121.8 189.7,126.5 189.8,131.1 190,135.4 190.1,139.4 190.3,143.1 190.4,146.4 190.6,149.3 190.7,151.9 190.9,154.1 191,156.1 191.2,157.7 191.3,159.1 191.5,160.3 191.6,161.3 191.8,162.2 191.9,162.9 192.1,163.5 192.2,164 192.4,164.5 192.5,164.9 192.7,165.2 192.8,165.6 193,165.8 193.1,166.1 193.3,166.3 193.4,166.6 193.6,166.8 193.7,166.9 193.9,167.1 194,167.3 194.2,167.4 194.3,167.5 194.5,167.7 194.6,167.8 194.8,167.9 194.9,168 195.1,168.1 195.2,168.2 195.4,168.3 195.5,168.4 195.7,168.4 195.8,168.5 195.9,168.6 196.1,168.7 196.2,168.7 196.4,168.8 196.5,168.8 196.7,168.9 196.8,169 197,169 197.1,169.1 197.3,169.1 197.4,169.1 197.6,169.2 197.7,169.2 197.9,169.3 198,169.3 198.2,169.3 198.3,169.4 198.5,169.4 198.6,169.4 198.8,169.5 198.9,169.5 199.1,169.5 199.2,169.6 199.4,169.6 199.5,169.6 199.7,169.6 199.8,169.7 200,169.7 200.1,169.7 200.3,169.7 200.4,169.7 200.6,169.8 200.7,169.8 200.9,169.8 201,169.8 201.2,169.8 201.3,169.9 201.5,169.9 201.6,169.9 201.8,169.9 201.9,169.9 202.1,169.9 202.2,169.9 202.4,170 202.5,170 202.7,170 202.8,170 203,170 203.1,170 203.3,170 203.4,170.1 203.6,170.1 203.7,170.1 203.9,170.1 204,170.1 204.2,170.1 204.3,170.1 204.5,170.1 204.6,170.1 204.8,170.1 204.9,170.2 205.1,170.2 205.2,170.2 205.4,170.2 205.5,170.2 205.7,170.2 205.8,170.2 205.9,170.2 206.1,170.2 206.2,170.2 206.4,170.2 206.5,170.2 206.7,170.2 206.8,170.2 207,170.2 207.1,170.3 207.3,170.3 207.4,170.3 207.6,170.3 207.7,170.3 207.9,170.3 208,170.3 208.2,170.3 208.3,170.3 208.5,170.3 208.6,170.3 208.8,170.3 208.9,170.2 209.1,170.2 209.2,170.2 209.4,170.2 209.5,170.2 209.7,170.2 209.8,170.2 210,170.2 210.1,170.2 210.3,170.2 210.4,170.2 210.6,170.2 210.7,170.2 210.9,170.2 211,170.2 211.2,170.2 211.3,170.3 211.5,170.3 211.6,170.3 211.8,170.3 211.9,170.3 212.1,170.3 212.2,170.4 212.4,170.4 212.5,170.4 212.7,170.4 212.8,170.4 213,170.4 213.1,170.4 213.3,170.4 213.4,170.4 213.6,170.4 213.7,170.4 213.9,170.4 214,170.5 214.2,170.5 214.3,170.5 214.5,170.5 214.6,170.5 214.8,170.5 214.9,170.5 215.1,170.5 215.2,170.5 215.4,170.5 215.5,170.5 215.7,170.5 215.8,170.5 215.9,170.5 216.1,170.5 216.2,170.5 216.4,170.5 216.5,170.5 216.7,170.5 216.8,170.5 217,170.5 217.1,170.5 217.3,170.5 217.4,170.5 217.6,170.5 217.7,170.5 217.9,170.5 218,170.5 218.2,170.5 218.3,170.5 218.5,170.5 218.6,170.5 218.8,170.5 218.9,170.5 219.1,170.5 219.2,170.5 219.4,170.5 219.5,170.5 219.7,170.5 219.8,170.5 220,170.5 220.1,170.5 220.3,170.5 220.4,170.5 220.6,170.5 220.7,170.5 220.9,170.6 221,170.6 221.2,170.6 221.3,170.6 221.5,170.6 221.6,170.6 221.8,170.6 221.9,170.6 222.1,170.6 222.2,170.6 222.4,170.6 222.5,170.6 222.7,170.6 222.8,170.6 223,170.6 223.1,170.6 223.3,170.6 223.4,170.6 223.6,170.6 223.7,170.6 223.9,170.6 224,170.6 224.2,170.6 224.3,170.6 224.5,170.6 224.6,170.6 224.8,170.5 224.9,170.5 225.1,170.5 225.2,170.5 225.4,170.5 225.5,170.5 225.6,170.5 225.8,170.5 225.9,170.5 226.1,170.5 226.2,170.5 226.4,170.5 226.5,170.5 226.7,170.5 226.8,170.5 227,170.5 227.1,170.4 227.3,170.4 227.4,170.4 227.6,170.4 227.7,170.4 227.9,170.4 228,170.4 228.2,170.4 228.3,170.4 228.5,170.4 228.6,170.4 228.8,170.4 228.9,170.4 229.1,170.4 229.2,170.4 229.4,170.4 229.5,170.4 229.7,170.5 229.8,170.5 230,170.5 230.1,170.5 230.3,170.5 230.4,170.5 230.6,170.5 230.7,170.5 230.9,170.5 231,170.5 231.2,170.5 231.3,170.5 231.5,170.5 231.6,170.5 231.8,170.5 231.9,170.5 232.1,170.6 232.2,170.6 232.4,170.6 232.5,170.6 232.7,170.6 232.8,170.6 233,170.6 233.1,170.6 233.3,170.6 233.4,170.6 233.6,170.6 233.7,170.6 233.9,170.6 234,170.6 234.2,170.6 234.3,170.6 234.5,170.6 234.6,170.5 234.8,170.5 234.9,170.5 235.1,170.5 235.2,170.5 235.4,170.5 235.5,170.5 235.6,170.5 235.8,170.5 235.9,170.5 236.1,170.5 236.2,170.5 236.4,170.5 236.5,170.5 236.7,170.5 236.8,170.5 237,170.5 237.1,170.5 237.3,170.5 237.4,170.5 237.6,170.5 237.7,170.5 237.9,170.5 238,170.4 238.2,170.4 238.3,170.4 238.5,170.4 238.6,170.4 238.8,170.4 238.9,170.4 239.1,170.4 239.2,170.3 239.4,170.3 239.5,170.3 239.7,170.3 239.8,170.3 240,170.2 240.1,170.2 240.3,170.2 240.4,170.1 240.6,170.1 240.7,170 240.9,169.9 241,169.8 241.2,169.7 241.3,169.6 241.5,169.5 241.6,169.4 241.8,169.2 241.9,169 242.1,168.8 242.2,168.6 242.4,168.3 242.5,168.1 242.7,167.8 242.8,167.5 243,167.2 243.1,167 243.3,166.7 243.4,166.5 243.6,166.3 243.7,166.2 243.9,166.2 244,166.2 244.2,166.3 244.3,166.5 244.5,166.6 244.6,166.8 244.8,167 244.9,167.2 245.1,167.4 245.2,167.5 245.4,167.6 245.5,167.7 245.6,167.8 245.8,167.8 245.9,167.7 246.1,167.6 246.2,167.5 246.4,167.3 246.5,167.1 246.7,166.9 246.8,166.7 247,166.5 247.1,166.2 247.3,166 247.4,165.8 247.6,165.7 247.7,165.7 247.9,165.7 248,165.8 248.2,166 248.3,166.3 248.5,166.5 248.6,166.8 248.8,167.2 248.9,167.5 249.1,167.8 249.2,168.1 249.4,168.3 249.5,168.6 249.7,168.8 249.8,169 250,169.2 250.1,169.4 250.3,169.5 250.4,169.6 250.6,169.8 250.7,169.8 250.9,169.9 251,170 251.2,170 251.3,170.1 251.5,170.1 251.6,170.2 251.8,170.2 251.9,170.2 252.1,170.3 252.2,170.3 252.4,170.3 252.5,170.3 252.7,170.3 252.8,170.3 253,170.4 253.1,170.4 253.3,170.4 253.4,170.4 253.6,170.4 253.7,170.4 253.9,170.4 254,170.4 254.2,170.4 254.3,170.4 254.5,170.4 254.6,170.4 254.8,170.5 254.9,170.5 255.1,170.5 255.2,170.5 255.4,170.5 255.5,170.5 255.6,170.5 255.8,170.5 255.9,170.5 256.1,170.5 256.2,170.5 256.4,170.5 256.5,170.5 256.7,170.5 256.8,170.5 257,170.5 257.1,170.5 257.3,170.5 257.4,170.5 257.6,170.5 257.7,170.5 257.9,170.5 258,170.5 258.2,170.5 258.3,170.5 258.5,170.5 258.6,170.4 258.8,170.4 258.9,170.4 259.1,170.4 259.2,170.4 259.4,170.4 259.5,170.4 259.7,170.4 259.8,170.4 260,170.4 260.1,170.4 260.3,170.4 260.4,170.4 260.6,170.4 260.7,170.3 260.9,170.3 261,170.3 261.2,170.3 261.3,170.3 261.5,170.3 261.6,170.2 261.8,170.2 261.9,170.2 262.1,170.2 262.2,170.1 262.4,170.1 262.5,170.1 262.7,170 262.8,170 263,169.9 263.1,169.9 263.3,169.8 263.4,169.7 263.6,169.6 263.7,169.5 263.9,169.4 264,169.2 264.2,169 264.3,168.8 264.5,168.6 264.6,168.3 264.8,167.9 264.9,167.6 265.1,167.2 265.2,166.7 265.4,166.3 265.5,165.7 265.6,165.2 265.8,164.7 265.9,164.1 266.1,163.6 266.2,163.1 266.4,162.7 266.5,162.4 266.7,162.2 266.8,162.2 267,162.3 267.1,162.6 267.3,162.9 267.4,163.4 267.6,163.9 267.7,164.4 267.9,165 268,165.5 268.2,166 268.3,166.5 268.5,167 268.6,167.4 268.8,167.8 268.9,168.1 269.1,168.4 269.2,168.7 269.4,168.9 269.5,169.1 269.7,169.2 269.8,169.4 270,169.5 270.1,169.6 270.3,169.7 270.4,169.7 270.6,169.8 270.7,169.8 270.9,169.9 271,169.9 271.2,169.9 271.3,170 271.5,170 271.6,170 271.8,170 271.9,170 272.1,170 272.2,170 272.4,170 272.5,170 272.7,170 272.8,170 273,170 273.1,170 273.3,170 273.4,170 273.6,170 273.7,170 273.9,169.9 274,169.9 274.2,169.9 274.3,169.8 274.5,169.8 274.6,169.8 274.8,169.7 274.9,169.6 275.1,169.5 275.2,169.4 275.4,169.3 275.5,169.2 275.6,169 275.8,168.8 275.9,168.6 276.1,168.4 276.2,168.1 276.4,167.7 276.5,167.3 276.7,166.9 276.8,166.4 277,165.9 277.1,165.3 277.3,164.7 277.4,164.1 277.6,163.4 277.7,162.8 277.9,162.2 278,161.7 278.2,161.2 278.3,160.9 278.5,160.8 278.6,160.8 278.8,161 278.9,161.4 279.1,161.9 279.2,162.4 279.4,163 279.5,163.7 279.7,164.3 279.8,164.9 280,165.5 280.1,166.1 280.3,166.6 280.4,167.1 280.6,167.5 280.7,167.9 280.9,168.2 281,168.5 281.2,168.8 281.3,169 281.5,169.2 281.6,169.3 281.8,169.5 281.9,169.6 282.1,169.7 282.2,169.8 282.4,169.8 282.5,169.9 282.7,170 282.8,170 283,170.1 283.1,170.1 283.3,170.1 283.4,170.2 283.6,170.2 283.7,170.2 283.9,170.2 284,170.3 284.2,170.3 284.3,170.3 284.5,170.3 284.6,170.3 284.8,170.3 284.9,170.4 285.1,170.4 285.2,170.4 285.3,170.4 285.5,170.4 285.6,170.4 285.8,170.4 285.9,170.4 286.1,170.4 286.2,170.5 286.4,170.5 286.5,170.5 286.7,170.5 286.8,170.5 287,170.5 287.1,170.5 287.3,170.5 287.4,170.5 287.6,170.5 287.7,170.5 287.9,170.5 288,170.5 288.2,170.5 288.3,170.5 288.5,170.5 288.6,170.5 288.8,170.5 288.9,170.5 289.1,170.6 289.2,170.6 289.4,170.6 289.5,170.6 289.7,170.6 289.8,170.6 290,170.6 290.1,170.6 290.3,170.6 290.4,170.6 290.6,170.6 290.7,170.6 290.9,170.6 291,170.6 291.2,170.6 291.3,170.6 291.5,170.6 291.6,170.6 291.8,170.6 291.9,170.6 292.1,170.6 292.2,170.6 292.4,170.6 292.5,170.6 292.7,170.6 292.8,170.6 293,170.6 293.1,170.6 293.3,170.6 293.4,170.6 293.6,170.6 293.7,170.6 293.9,170.6 294,170.6 294.2,170.6 294.3,170.6 294.5,170.6 294.6,170.6 294.8,170.6 294.9,170.6 295.1,170.6 295.2,170.6 295.3,170.6 295.5,170.6 295.6,170.6 295.8,170.6 295.9,170.6 296.1,170.6 296.2,170.6 296.4,170.6 296.5,170.6 296.7,170.6 296.8,170.6 297,170.6 297.1,170.6 297.3,170.5 297.4,170.5 297.6,170.5 297.7,170.5 297.9,170.5 298,170.5 298.2,170.5 298.3,170.5 298.5,170.5 298.6,170.5 298.8,170.5 298.9,170.4 299.1,170.4 299.2,170.4 299.4,170.4 299.5,170.4 299.7,170.4 299.8,170.4 300,170.4 300.1,170.4 300.3,170.4 300.4,170.4 300.6,170.4 300.7,170.4 300.9,170.4 301,170.4 301.2,170.4 301.3,170.4 301.5,170.5 301.6,170.5 301.8,170.5 301.9,170.5 302.1,170.5 302.2,170.5 302.4,170.5 302.5,170.5 302.7,170.5 302.8,170.5 303,170.5 303.1,170.5 303.3,170.5 303.4,170.5 303.6,170.5 303.7,170.5 303.9,170.5 304,170.5 304.2,170.5 304.3,170.5 304.5,170.5 304.6,170.5 304.8,170.5 304.9,170.5 305.1,170.5 305.2,170.5 305.3,170.5 305.5,170.5 305.6,170.5 305.8,170.5 305.9,170.5 306.1,170.5 306.2,170.5 306.4,170.5 306.5,170.5 306.7,170.5 306.8,170.5 307,170.5 307.1,170.5 307.3,170.5 307.4,170.5 307.6,170.5 307.7,170.5 307.9,170.5 308,170.4 308.2,170.4 308.3,170.4 308.5,170.4 308.6,170.4 308.8,170.4 308.9,170.4 309.1,170.4 309.2,170.4 309.4,170.4 309.5,170.4 309.7,170.4 309.8,170.4 310,170.4 310.1,170.4 310.3,170.3 310.4,170.3 310.6,170.3 310.7,170.3 310.9,170.3 311,170.3 311.2,170.3 311.3,170.3 311.5,170.3 311.6,170.3 311.8,170.2 311.9,170.2 312.1,170.2 312.2,170.2 312.4,170.2 312.5,170.2 312.7,170.1 312.8,170.1 313,170.1 313.1,170.1 313.3,170.1 313.4,170 313.6,170 313.7,170 313.9,170 314,169.9 314.2,169.9 314.3,169.9 314.5,169.8 314.6,169.8 314.8,169.8 314.9,169.7 315.1,169.7 315.2,169.6 315.3,169.6 315.5,169.5 315.6,169.5 315.8,169.4 315.9,169.3 316.1,169.3 316.2,169.2 316.4,169.1 316.5,169 316.7,168.9 316.8,168.8 317,168.6 317.1,168.5 317.3,168.3 317.4,168 317.6,167.8 317.7,167.5 317.9,167.1 318,166.7 318.2,166.2 318.3,165.7 318.5,165 318.6,164.3 318.8,163.4 318.9,162.4 319.1,161.3 319.2,160.1 319.4,158.8 319.5,157.4 319.7,155.9 319.8,154.3 320,152.7 320.1,151.2 320.3,149.7 320.4,148.4 320.6,147.3 320.7,146.6 320.9,146.2 321,146.3 321.2,146.8 321.3,147.6 321.5,148.7 321.6,150.1 321.8,151.6 321.9,153.1 322.1,154.7 322.2,156.2 322.4,157.7 322.5,159 322.7,160.3 322.8,161.4 323,162.5 323.1,163.4 323.3,164.2 323.4,164.9 323.6,165.5 323.7,166 323.9,166.4 324,166.8 324.2,167.1 324.3,167.3 324.5,167.5 324.6,167.7 324.8,167.9 324.9,168 325.1,168.1 325.2,168.2 325.3,168.2 325.5,168.3 325.6,168.3 325.8,168.3 325.9,168.3 326.1,168.3 326.2,168.3 326.4,168.3 326.5,168.3 326.7,168.3 326.8,168.2 327,168.1 327.1,168.1 327.3,168 327.4,167.9 327.6,167.7 327.7,167.6 327.9,167.4 328,167.2 328.2,166.9 328.3,166.6 328.5,166.2 328.6,165.7 328.8,165.2 328.9,164.6 329.1,163.9 329.2,163.1 329.4,162.2 329.5,161.2 329.7,160 329.8,158.8 330,157.5 330.1,156 330.3,154.6 330.4,153.1 330.6,151.6 330.7,150.2 330.9,148.9 331,147.9 331.2,147.1 331.3,146.7 331.5,146.7 331.6,147.1 331.8,147.8 331.9,148.8 332.1,149.9 332.2,151.2 332.4,152.5 332.5,153.8 332.7,155 332.8,156.1 333,157.1 333.1,158 333.3,158.6 333.4,159.1 333.6,159.5 333.7,159.6 333.9,159.6 334,159.4 334.2,159.1 334.3,158.6 334.5,158 334.6,157.2 334.8,156.4 334.9,155.4 335.1,154.4 335.2,153.5 335.3,152.5 335.5,151.7 335.6,151 335.8,150.5 335.9,150.2 336.1,150.2 336.2,150.6 336.4,151.1 336.5,152 336.7,152.9 336.8,154.1 337,155.2 337.1,156.5 337.3,157.7 337.4,158.8 337.6,160 337.7,161 337.9,162 338,162.9 338.2,163.7 338.3,164.5 338.5,165.1 338.6,165.7 338.8,166.2 338.9,166.7 339.1,167.1 339.2,167.4 339.4,167.7 339.5,168 339.7,168.2 339.8,168.4 340,168.5 340.1,168.7 340.3,168.8 340.4,168.9 340.6,169 340.7,169.1 340.9,169.2 341,169.3 341.2,169.3 341.3,169.4 341.5,169.5 341.6,169.5 341.8,169.6 341.9,169.6 342.1,169.7 342.2,169.7 342.4,169.7 342.5,169.8 342.7,169.8 342.8,169.8 343,169.9 343.1,169.9 343.3,169.9 343.4,170 343.6,170 343.7,170 343.9,170 344,170.1 344.2,170.1 344.3,170.1 344.5,170.1 344.6,170.1 344.8,170.1 344.9,170.2 345,170.2 345.2,170.2 345.3,170.2 345.5,170.2 345.6,170.2 345.8,170.2 345.9,170.3 346.1,170.3 346.2,170.3 346.4,170.3 346.5,170.3 346.7,170.3 346.8,170.3 347,170.3 347.1,170.3 347.3,170.3 347.4,170.4 347.6,170.4 347.7,170.4 347.9,170.4 348,170.4 348.2,170.4 348.3,170.4 348.5,170.4 348.6,170.4 348.8,170.4 348.9,170.4 349.1,170.4 349.2,170.4 349.4,170.4 349.5,170.4 349.7,170.4 349.8,170.5 350,170.5 350.1,170.5 350.3,170.5 350.4,170.5 350.6,170.5 350.7,170.5 350.9,170.5 351,170.5 351.2,170.5 351.3,170.5 351.5,170.5 351.6,170.5 351.8,170.5 351.9,170.5 352.1,170.5 352.2,170.5 352.4,170.5 352.5,170.5 352.7,170.5 352.8,170.5 353,170.5 353.1,170.5 353.3,170.5 353.4,170.5 353.6,170.5 353.7,170.5 353.9,170.5 354,170.5 354.2,170.5 354.3,170.5 354.5,170.5 354.6,170.5 354.8,170.5 354.9,170.5 355,170.5 355.2,170.6 355.3,170.6 355.5,170.6 355.6,170.6 355.8,170.6 355.9,170.6 356.1,170.6 356.2,170.6 356.4,170.6 356.5,170.6 356.7,170.6 356.8,170.6 357,170.6 357.1,170.6 357.3,170.6 357.4,170.6 357.6,170.6 357.7,170.6 357.9,170.6 358,170.6 358.2,170.6 358.3,170.6 358.5,170.6 358.6,170.6 358.8,170.6 358.9,170.6 359.1,170.6 359.2,170.6 359.4,170.6 359.5,170.6 359.7,170.6 359.8,170.6 360,170.6 360.1,170.6 360.3,170.6 360.4,170.6 360.6,170.6 360.7,170.6 360.9,170.5 361,170.5 361.2,170.5 361.3,170.5 361.5,170.5 361.6,170.5 361.8,170.5 361.9,170.5 362.1,170.5 362.2,170.5 362.4,170.5 362.5,170.5 362.7,170.5 362.8,170.5 363,170.5 363.1,170.4 363.3,170.4 363.4,170.4 363.6,170.4 363.7,170.4 363.9,170.4 364,170.4 364.2,170.4 364.3,170.4 364.5,170.4 364.6,170.4 364.8,170.4 364.9,170.4 365,170.4 365.2,170.4 365.3,170.4 365.5,170.4 365.6,170.4 365.8,170.4 365.9,170.4 366.1,170.4 366.2,170.4 366.4,170.4 366.5,170.4 366.7,170.4 366.8,170.4 367,170.4 367.1,170.4 367.3,170.4 367.4,170.4 367.6,170.4 367.7,170.5 367.9,170.5 368,170.5 368.2,170.5 368.3,170.4 368.5,170.4 368.6,170.4 368.8,170.4 368.9,170.4 369.1,170.4 369.2,170.4 369.4,170.4 369.5,170.4 369.7,170.4 369.8,170.4 370,170.4 370.1,170.4 370.3,170.4 370.4,170.4 370.6,170.4 370.7,170.4 370.9,170.4 371,170.4 371.2,170.3 371.3,170.3 371.5,170.3 371.6,170.3 371.8,170.3 371.9,170.3 372.1,170.3 372.2,170.3 372.4,170.2 372.5,170.2 372.7,170.2 372.8,170.2 373,170.2 373.1,170.2 373.3,170.1 373.4,170.1 373.6,170.1 373.7,170.1 373.9,170 374,170 374.2,170 374.3,169.9 374.5,169.9 374.6,169.9 374.8,169.8 374.9,169.8 375,169.7 375.2,169.7 375.3,169.6 375.5,169.6 375.6,169.5 375.8,169.5 375.9,169.4 376.1,169.3 376.2,169.2 376.4,169.1 376.5,169 376.7,168.8 376.8,168.7 377,168.5 377.1,168.3 377.3,168 377.4,167.7 377.6,167.4 377.7,167 377.9,166.5 378,166 378.2,165.3 378.3,164.6 378.5,163.8 378.6,162.8 378.8,161.8 378.9,160.6 379.1,159.3 379.2,157.9 379.4,156.5 379.5,154.9 379.7,153.4 379.8,151.8 380,150.4 380.1,149.1 380.3,148.1 380.4,147.4 380.6,147 380.7,147.1 380.9,147.6 381,148.4 381.2,149.5 381.3,150.9 381.5,152.3 381.6,153.9 381.8,155.4 381.9,156.9 382.1,158.4 382.2,159.7 382.4,161 382.5,162.1 382.7,163.1 382.8,164 383,164.8 383.1,165.5 383.3,166.1 383.4,166.7 383.6,167.1 383.7,167.5 383.9,167.8 384,168.1 384.2,168.3 384.3,168.5 384.5,168.7 384.6,168.8 384.8,169 384.9,169.1 385,169.2 385.2,169.3 385.3,169.4 385.5,169.4 385.6,169.5 385.8,169.6 385.9,169.6 386.1,169.7 386.2,169.7 386.4,169.7 386.5,169.8 386.7,169.8 386.8,169.8 387,169.9 387.1,169.9 387.3,169.9 387.4,169.9 387.6,169.9 387.7,169.9 387.9,170 388,170 388.2,170 388.3,170 388.5,170 388.6,169.9 388.8,169.9 388.9,169.9 389.1,169.9 389.2,169.9 389.4,169.8 389.5,169.8 389.7,169.8 389.8,169.7 390,169.7 390.1,169.7 390.3,169.6 390.4,169.6 390.6,169.5 390.7,169.5 390.9,169.5 391,169.4 391.2,169.4 391.3,169.4 391.5,169.4 391.6,169.4 391.8,169.4 391.9,169.4 392.1,169.5 392.2,169.5 392.4,169.6 392.5,169.6 392.7,169.7 392.8,169.7 393,169.8 393.1,169.8 393.3,169.9 393.4,169.9 393.6,170 393.7,170 393.9,170.1 394,170.1 394.2,170.2 394.3,170.2 394.5,170.2 394.6,170.3 394.8,170.3 394.9,170.3 395,170.3 395.2,170.4 395.3,170.4 395.5,170.4 395.6,170.4 395.8,170.4 395.9,170.4 396.1,170.5 396.2,170.5 396.4,170.5 396.5,170.5 396.7,170.5 396.8,170.5 397,170.5 397.1,170.5 397.3,170.5 397.4,170.5 397.6,170.5 397.7,170.5 397.9,170.5 398,170.5 398.2,170.5 398.3,170.5 398.5,170.5 398.6,170.5 398.8,170.5 398.9,170.5 399.1,170.5 399.2,170.6 399.4,170.6 399.5,170.6 399.7,170.6 399.8,170.6 400,170.6 400.1,170.6 400.3,170.6 400.4,170.6 400.6,170.6 400.7,170.6 400.9,170.6 401,170.6 401.2,170.6 401.3,170.6 401.5,170.6 401.6,170.6 401.8,170.6 401.9,170.6 402.1,170.6 402.2,170.6 402.4,170.6 402.5,170.6 402.7,170.6 402.8,170.6 403,170.6 403.1,170.6 403.3,170.6 403.4,170.6 403.6,170.6 403.7,170.6 403.9,170.6 404,170.6 404.2,170.6 404.3,170.6 404.5,170.6 404.6,170.6 404.7,170.6 404.9,170.5 405,170.5 405.2,170.5 405.3,170.5 405.5,170.5 405.6,170.5 405.8,170.5 405.9,170.5 406.1,170.5 406.2,170.5 406.4,170.5 406.5,170.5 406.7,170.5 406.8,170.5 407,170.5 407.1,170.5 407.3,170.5 407.4,170.5 407.6,170.4 407.7,170.4 407.9,170.4 408,170.4 408.2,170.4 408.3,170.3 408.5,170.3 408.6,170.3 408.8,170.2 408.9,170.2 409.1,170.2 409.2,170.1 409.4,170 409.5,170 409.7,169.9 409.8,169.8 410,169.7 410.1,169.6 410.3,169.5 410.4,169.4 410.6,169.3 410.7,169.2 410.9,169.1 411,168.9 411.2,168.8 411.3,168.7 411.5,168.6 411.6,168.6 411.8,168.5 411.9,168.5 412.1,168.5 412.2,168.5 412.4,168.6 412.5,168.7 412.7,168.8 412.8,168.9 413,169 413.1,169.1 413.3,169.2 413.4,169.3 413.6,169.4 413.7,169.5 413.9,169.6 414,169.7 414.2,169.8 414.3,169.9 414.5,169.9 414.6,170 414.7,170.1 414.9,170.1 415,170.1 415.2,170.2 415.3,170.2 415.5,170.2 415.6,170.3 415.8,170.3 415.9,170.3 416.1,170.3 416.2,170.3 416.4,170.3 416.5,170.3 416.7,170.3 416.8,170.4 417,170.4 417.1,170.4 417.3,170.4 417.4,170.4 417.6,170.4 417.7,170.4 417.9,170.3 418,170.3 418.2,170.3 418.3,170.3 418.5,170.3 418.6,170.3 418.8,170.3 418.9,170.3 419.1,170.3 419.2,170.3 419.4,170.3 419.5,170.2 419.7,170.2 419.8,170.2 420,170.2 420.1,170.2 420.3,170.1 420.4,170.1 420.6,170 420.7,170 420.9,169.9 421,169.9 421.2,169.8 421.3,169.7 421.5,169.6 421.6,169.5 421.8,169.4 421.9,169.3 422.1,169.1 422.2,169 422.4,168.8 422.5,168.6 422.7,168.4 422.8,168.2 423,167.9 423.1,167.7 423.3,167.4 423.4,167.2 423.6,167 423.7,166.7 423.9,166.6 424,166.4 424.2,166.3 424.3,166.2 424.5,166.2 424.6,166.2 424.7,166.3 424.9,166.5 425,166.7 425.2,166.9 425.3,167.1 425.5,167.3 425.6,167.6 425.8,167.8 425.9,168 426.1,168.3 426.2,168.5 426.4,168.7 426.5,168.8 426.7,169 426.8,169.2 427,169.3 427.1,169.4 427.3,169.5 427.4,169.6 427.6,169.7 427.7,169.8 427.9,169.8 428,169.9 428.2,169.9 428.3,169.9 428.5,170 428.6,170 428.8,170 428.9,170.1 429.1,170.1 429.2,170.1 429.4,170.1 429.5,170.1 429.7,170.1 429.8,170.1 430,170.1 430.1,170.1 430.3,170.1 430.4,170.1 430.6,170.1 430.7,170.1 430.9,170.1 431,170.1 431.2,170.1 431.3,170.1 431.5,170.1 431.6,170.1 431.8,170.1 431.9,170.1 432.1,170.1 432.2,170.1 432.4,170 432.5,170 432.7,170 432.8,170 433,170 433.1,170 433.3,169.9 433.4,169.9 433.6,169.9 433.7,169.9 433.9,169.8 434,169.8 434.2,169.8 434.3,169.7 434.5,169.7 434.6,169.7 434.7,169.6 434.9,169.5 435,169.5 435.2,169.4 435.3,169.3 435.5,169.2 435.6,169.1 435.8,169 435.9,168.8 436.1,168.7 436.2,168.5 436.4,168.3 436.5,168.1 436.7,167.8 436.8,167.6 437,167.3 437.1,167 437.3,166.6 437.4,166.3 437.6,165.9 437.7,165.5 437.9,165.1 438,164.7 438.2,164.3 438.3,163.9 438.5,163.5 438.6,163.1 438.8,162.8 438.9,162.5 439.1,162.3 439.2,162.2 439.4,162.2 439.5,162.3 439.7,162.4 439.8,162.6 440,162.9 440.1,163.2 440.3,163.6 440.4,164 440.6,164.3 440.7,164.7 440.9,165.1 441,165.5 441.2,165.9 441.3,166.2 441.5,166.5 441.6,166.8 441.8,167.1 441.9,167.3 442.1,167.5 442.2,167.7 442.4,167.9 442.5,168.1 442.7,168.2 442.8,168.3 443,168.4 443.1,168.5 443.3,168.6 443.4,168.6 443.6,168.6 443.7,168.7 443.9,168.7 444,168.7 444.2,168.7 444.3,168.7 444.5,168.7 444.6,168.7 444.7,168.7 444.9,168.6 445,168.6 445.2,168.5 445.3,168.5 445.5,168.4 445.6,168.4 445.8,168.3 445.9,168.2 446.1,168.1 446.2,168 446.4,167.9 446.5,167.8 446.7,167.7 446.8,167.5 447,167.4 447.1,167.2 447.3,167 447.4,166.8 447.6,166.5 447.7,166.2 447.9,165.9 448,165.6 448.2,165.3 448.3,164.9 448.5,164.4 448.6,164 448.8,163.5 448.9,162.9 449.1,162.3 449.2,161.7 449.4,161 449.5,160.3 449.7,159.5 449.8,158.7 450,157.9 450.1,157 450.3,156.1 450.4,155.1 450.6,154.2 450.7,153.2 450.9,152.2 451,151.2 451.2,150.2 451.3,149.3 451.5,148.4 451.6,147.6 451.8,146.8 451.9,146.1 452.1,145.6 452.2,145.1 452.4,144.8 452.5,144.7 452.7,144.6 452.8,144.7 453,144.9 453.1,145.3 453.3,145.7 453.4,146.1 453.6,146.7 453.7,147.2 453.9,147.8 454,148.3 454.2,148.9 454.3,149.4 454.5,149.9 454.6,150.3 454.7,150.7 454.9,151.1 455,151.5 455.2,151.8 455.3,152.1 455.5,152.4 455.6,152.7 455.8,153 455.9,153.3 456.1,153.7 456.2,154.2 456.4,154.7 456.5,155.3 456.7,155.9 456.8,156.6 457,157.3 457.1,158.1 457.3,158.8 457.4,159.6 457.6,160.3 457.7,161 457.9,161.7 458,162.3 458.2,162.9 458.3,163.5 458.5,164 458.6,164.5 458.8,165 458.9,165.4 459.1,165.8 459.2,166.2 459.4,166.5 459.5,166.8 459.7,167.1 459.8,167.3 460,167.6 460.1,167.8 460.3,167.9 460.4,168.1 460.6,168.2 460.7,168.4 460.9,168.5 461,168.6 461.2,168.7 461.3,168.8 461.5,168.9 461.6,169 461.8,169 461.9,169.1 462.1,169.2 462.2,169.2 462.4,169.3 462.5,169.3 462.7,169.4 462.8,169.4 463,169.5 463.1,169.5 463.3,169.5 463.4,169.6 463.6,169.6 463.7,169.6 463.9,169.7 464,169.7 464.2,169.7 464.3,169.8 464.4,169.8 464.6,169.8 464.7,169.8 464.9,169.9 465,169.9 465.2,169.9 465.3,169.9 465.5,169.9 465.6,170 465.8,170 465.9,170 466.1,170 466.2,170 466.4,170 466.5,170.1 466.7,170.1 466.8,170.1 467,170.1 467.1,170.1 467.3,170.1 467.4,170.1 467.6,170.1 467.7,170.2 467.9,170.2 468,170.2 468.2,170.2 468.3,170.2 468.5,170.2 468.6,170.2 468.8,170.2 468.9,170.2 469.1,170.2 469.2,170.3 469.4,170.3 469.5,170.3 469.7,170.3 469.8,170.3 470,170.3 470.1,170.3 470.3,170.3 470.4,170.3 470.6,170.3 470.7,170.3 470.9,170.3 471,170.3 471.2,170.3 471.3,170.3 471.5,170.3 471.6,170.3 471.8,170.3 471.9,170.3 472.1,170.3 472.2,170.3 472.4,170.3 472.5,170.3 472.7,170.3 472.8,170.3 473,170.3 473.1,170.3 473.3,170.3 473.4,170.3 473.6,170.3 473.7,170.2 473.9,170.2 474,170.2 474.2,170.3 474.3,170.3 474.4,170.3 474.6,170.3 474.7,170.3 474.9,170.3 475,170.3 475.2,170.3 475.3,170.3 475.5,170.3 475.6,170.3 475.8,170.4 475.9,170.4 476.1,170.4 476.2,170.4 476.4,170.4 476.5,170.4 476.7,170.4 476.8,170.4 477,170.4 477.1,170.4 477.3,170.4 477.4,170.5 477.6,170.5 477.7,170.5 477.9,170.5 478,170.5 478.2,170.5 478.3,170.5 478.5,170.5 478.6,170.5 478.8,170.5 478.9,170.5 479.1,170.5 479.2,170.5 479.4,170.5 479.5,170.5 479.7,170.5 479.8,170.5 480,170.5 480.1,170.5 480.3,170.5 480.4,170.5 480.6,170.5 480.7,170.5 480.9,170.5 481,170.5 481.2,170.5 481.3,170.5 481.5,170.5 481.6,170.5 481.8,170.5 481.9,170.5 482.1,170.5 482.2,170.5 482.4,170.5 482.5,170.5 482.7,170.5 482.8,170.5 483,170.5 483.1,170.5 483.3,170.5 483.4,170.5 483.6,170.5 483.7,170.5 483.9,170.5 484,170.5 484.2,170.5 484.3,170.5 484.4,170.4 484.6,170.4 484.7,170.4 484.9,170.4 485,170.4 485.2,170.4 485.3,170.4 485.5,170.4 485.6,170.4 485.8,170.4 485.9,170.4 486.1,170.4 486.2,170.4 486.4,170.4 486.5,170.3 486.7,170.3 486.8,170.3 487,170.3 487.1,170.3 487.3,170.3 487.4,170.3 487.6,170.3 487.7,170.2 487.9,170.2 488,170.2 488.2,170.2 488.3,170.1 488.5,170.1 488.6,170.1 488.8,170.1 488.9,170 489.1,170 489.2,169.9 489.4,169.9 489.5,169.8 489.7,169.8 489.8,169.7 490,169.6 490.1,169.5 490.3,169.4 490.4,169.3 490.6,169.1 490.7,169 490.9,168.8 491,168.6 491.2,168.4 491.3,168.2 491.5,167.9 491.6,167.7 491.8,167.4 491.9,167.1 492.1,166.7 492.2,166.4 492.4,166 492.5,165.7 492.7,165.3 492.8,164.9 493,164.5 493.1,164.1 493.3,163.8 493.4,163.5 493.6,163.2 493.7,163 493.9,162.9 494,162.8 494.2,162.8 494.3,162.9 494.4,163.1 494.6,163.3 494.7,163.5 494.9,163.9 495,164.2 495.2,164.6 495.3,164.9 495.5,165.3 495.6,165.7 495.8,166 495.9,166.4 496.1,166.7 496.2,167 496.4,167.3 496.5,167.6 496.7,167.8 496.8,168 497,168.2 497.1,168.4 497.3,168.6 497.4,168.7 497.6,168.9 497.7,169 497.9,169.1 498,169.2 498.2,169.3 498.3,169.4 498.5,169.5 498.6,169.5 498.8,169.6 498.9,169.7 499.1,169.7 499.2,169.8 499.4,169.9 499.5,169.9 499.7,169.9 499.8,170 500,170 500.1,170.1 500.3,170.1 500.4,170.1 500.6,170.2 500.7,170.2 500.9,170.2 501,170.3 501.2,170.3 501.3,170.3 501.5,170.3 501.6,170.3 501.8,170.4 501.9,170.4 502.1,170.4 502.2,170.4 502.4,170.4 502.5,170.4 502.7,170.4 502.8,170.4 503,170.5 503.1,170.5 503.3,170.5 503.4,170.5 503.6,170.5 503.7,170.5 503.9,170.5 504,170.5 504.2,170.5 504.3,170.5 504.4,170.5 504.6,170.5 504.7,170.5 504.9,170.5 505,170.5 505.2,170.6 505.3,170.6 505.5,170.6 505.6,170.6 505.8,170.6 505.9,170.6 506.1,170.6 506.2,170.6 506.4,170.6 506.5,170.6 506.7,170.6 506.8,170.6 507,170.6 507.1,170.6 507.3,170.6 507.4,170.6 507.6,170.6 507.7,170.6 507.9,170.6 508,170.6 508.2,170.6 508.3,170.6 508.5,170.6 508.6,170.6 508.8,170.6 508.9,170.6 509.1,170.6 509.2,170.6 509.4,170.6 509.5,170.6 509.7,170.6 509.8,170.6 510,170.6 510.1,170.6 510.3,170.6 510.4,170.6 510.6,170.6 510.7,170.6 510.9,170.6 511,170.6 511.2,170.6 511.3,170.6 511.5,170.6 511.6,170.6 511.8,170.6 511.9,170.6 512.1,170.6 512.2,170.6 512.4,170.6 512.5,170.6 512.7,170.6 512.8,170.6 513,170.6 513.1,170.6 513.3,170.6 513.4,170.6 513.6,170.6 513.7,170.6 513.9,170.6 514,170.6 514.2,170.6 514.3,170.6 514.4,170.6 514.6,170.6 514.7,170.6 514.9,170.6 515,170.6 515.2,170.6 515.3,170.6 515.5,170.6 515.6,170.6 515.8,170.6 515.9,170.6 516.1,170.6 516.2,170.6 516.4,170.6 516.5,170.6 516.7,170.6 516.8,170.6 517,170.6 517.1,170.6 517.3,170.6 517.4,170.6 517.6,170.6 517.7,170.6 517.9,170.6 518,170.6 518.2,170.6 518.3,170.6 518.5,170.6 518.6,170.6 518.8,170.6 518.9,170.6 519.1,170.6 519.2,170.6 519.4,170.6 519.5,170.6 519.7,170.6 519.8,170.6 520,170.6 520.1,170.6 520.3,170.6 520.4,170.5 520.6,170.5 520.7,170.5 520.9,170.5 521,170.5 521.2,170.5 521.3,170.5 521.5,170.5 521.6,170.5 521.8,170.5 521.9,170.4 522.1,170.4 522.2,170.4 522.4,170.4 522.5,170.3 522.7,170.3 522.8,170.3 523,170.2 523.1,170.2 523.3,170.2 523.4,170.1 523.6,170 523.7,170 523.9,169.9 524,169.8 524.1,169.7 524.3,169.7 524.4,169.6 524.6,169.5 524.7,169.3 524.9,169.2 525,169.1 525.2,169 525.3,168.9 525.5,168.7 525.6,168.6 525.8,168.5 525.9,168.3 526.1,168.2 526.2,168.1 526.4,168 526.5,168 526.7,167.9 526.8,167.9 527,167.9 527.1,167.9 527.3,168 527.4,168.1 527.6,168.2 527.7,168.3 527.9,168.4 528,168.5 528.2,168.6 528.3,168.8 528.5,168.9 528.6,169 528.8,169.1 528.9,169.3 529.1,169.4 529.2,169.5 529.4,169.6 529.5,169.7 529.7,169.8 529.8,169.9 530,169.9 530.1,170 530.3,170.1 530.4,170.1 530.6,170.2 530.7,170.2 530.9,170.2 531,170.3 531.2,170.3 531.3,170.3 531.5,170.4 531.6,170.4 531.8,170.4 531.9,170.4 532.1,170.4 532.2,170.5 532.4,170.5 532.5,170.5 532.7,170.5 532.8,170.5 533,170.5 533.1,170.5 533.3,170.5 533.4,170.5 533.6,170.5 533.7,170.5 533.9,170.5 534,170.5 534.1,170.6 534.3,170.6 534.4,170.6 534.6,170.6 534.7,170.6 534.9,170.6 535,170.6 535.2,170.6 535.3,170.6 535.5,170.6 535.6,170.6 535.8,170.6 535.9,170.6 536.1,170.6 536.2,170.6 536.4,170.6 536.5,170.6 536.7,170.6 536.8,170.6 537,170.6 537.1,170.6 537.3,170.6 537.4,170.6 537.6,170.6 537.7,170.6 537.9,170.6 538,170.6 538.2,170.6 538.3,170.6 538.5,170.6 538.6,170.6 538.8,170.6 538.9,170.6 539.1,170.5 539.2,170.5 539.4,170.5 539.5,170.5 539.7,170.5 539.8,170.5 540,170.5 540.1,170.5 540.3,170.5 540.4,170.5 540.6,170.5 540.7,170.5 540.9,170.5 541,170.5 541.2,170.5 541.3,170.4 541.5,170.4 541.6,170.4 541.8,170.4 541.9,170.4 542.1,170.4 542.2,170.4 542.4,170.3 542.5,170.3 542.7,170.3 542.8,170.3 543,170.2 543.1,170.2 543.3,170.2 543.4,170.1 543.6,170.1 543.7,170 543.9,169.9 544,169.9 544.1,169.8 544.3,169.7 544.4,169.6 544.6,169.6 544.7,169.5 544.9,169.3 545,169.2 545.2,169.1 545.3,169 545.5,168.8 545.6,168.7 545.8,168.5 545.9,168.4 546.1,168.2 546.2,168 546.4,167.8 546.5,167.7 546.7,167.5 546.8,167.4 547,167.2 547.1,167.1 547.3,167 547.4,166.9 547.6,166.8 547.7,166.8 547.9,166.8 548,166.8 548.2,166.9 548.3,167 548.5,167 548.6,167.2 548.8,167.3 548.9,167.4 549.1,167.6 549.2,167.7 549.4,167.9 549.5,168 549.7,168.1 549.8,168.3 550,168.4 550.1,168.5 550.3,168.6 550.4,168.7 550.6,168.8 550.7,168.8 550.9,168.9 551,168.9 551.2,169 551.3,169 551.5,169 551.6,169.1 551.8,169.1 551.9,169.1 552.1,169.1 552.2,169.1 552.4,169.1 552.5,169.2 552.7,169.2 552.8,169.2 553,169.2 553.1,169.3 553.3,169.3 553.4,169.4 553.6,169.4 553.7,169.5 553.9,169.5 554,169.6 554.1,169.7 554.3,169.7 554.4,169.8 554.6,169.8 554.7,169.9 554.9,169.9 555,170 555.2,170 555.3,170.1 555.5,170.1 555.6,170.2 555.8,170.2 555.9,170.2 556.1,170.3 556.2,170.3 556.4,170.3 556.5,170.3 556.7,170.4 556.8,170.4 557,170.4 557.1,170.4 557.3,170.4 557.4,170.4 557.6,170.5 557.7,170.5 557.9,170.5 558,170.5 558.2,170.5 558.3,170.5 558.5,170.5 558.6,170.5 558.8,170.5 558.9,170.5 559.1,170.5 559.2,170.5 559.4,170.5 559.5,170.5 559.7,170.5 559.8,170.5 560,170.5 560.1,170.5 560.3,170.5 560.4,170.5 560.6,170.5 560.7,170.5 560.9,170.5 561,170.5 561.2,170.5 561.3,170.5 561.5,170.5 561.6,170.5 561.8,170.5 561.9,170.4 562.1,170.4 562.2,170.4 562.4,170.4 562.5,170.4 562.7,170.3 562.8,170.3 563,170.3 563.1,170.3 563.3,170.2 563.4,170.2 563.6,170.1 563.7,170.1 563.9,170 564,170 564.1,169.9 564.3,169.9 564.4,169.8 564.6,169.7 564.7,169.6 564.9,169.6 565,169.5 565.2,169.4 565.3,169.3 565.5,169.3 565.6,169.2 565.8,169.1 565.9,169.1 566.1,169 566.2,169 566.4,168.9 566.5,168.9 566.7,168.9 566.8,168.9 567,168.9 567.1,169 567.3,169 567.4,169.1 567.6,169.1 567.7,169.2 567.9,169.3 568,169.4 568.2,169.4 568.3,169.5 568.5,169.6 568.6,169.7 568.8,169.7 568.9,169.8 569.1,169.9 569.2,169.9 569.4,170 569.5,170.1 569.7,170.1 569.8,170.2 570,170.2 570.1,170.3 570.3,170.3 570.4,170.3 570.6,170.4 570.7,170.4 570.9,170.4 571,170.4 571.2,170.5 571.3,170.5 571.5,170.5 571.6,170.5 571.8,170.5 571.9,170.5 572.1,170.6 572.2,170.6 572.4,170.6 572.5,170.6 572.7,170.6 572.8,170.6 573,170.6 573.1,170.6 573.3,170.6 573.4,170.6 573.6,170.6 573.7,170.6 573.9,170.6 574,170.6 574.1,170.6 574.3,170.6 574.4,170.6 574.6,170.6 574.7,170.7 574.9,170.7 575,170.7 575.2,170.7 575.3,170.7 575.5,170.7 575.6,170.7 575.8,170.7 575.9,170.7 576.1,170.7 576.2,170.7 576.4,170.7 576.5,170.7 576.7,170.7 576.8,170.7 577,170.7 577.1,170.7 577.3,170.7 577.4,170.7 577.6,170.7 577.7,170.7 577.9,170.7 578,170.7 578.2,170.7 578.3,170.7 578.5,170.7 578.6,170.7 578.8,170.7 578.9,170.7 579.1,170.7 579.2,170.7 579.4,170.7 579.5,170.7 579.7,170.6 579.8,170.6 580,170.6 580.1,170.6 580.3,170.6 580.4,170.6 580.6,170.6 580.7,170.6 580.9,170.6 581,170.6 581.2,170.6 581.3,170.6 581.5,170.6 581.6,170.5 581.8,170.5 581.9,170.5 582.1,170.5 582.2,170.5 582.4,170.5 582.5,170.5 582.7,170.5 582.8,170.5 583,170.5 583.1,170.5 583.3,170.5 583.4,170.5 583.6,170.5 583.7,170.6 583.8,170.6 584,170.6 584.1,170.6 584.3,170.6 584.4,170.6 584.6,170.6 584.7,170.6 584.9,170.6 585,170.6 585.2,170.6 585.3,170.6 585.5,170.6 585.6,170.7 585.8,170.7 585.9,170.7 586.1,170.7 586.2,170.7 586.4,170.7 586.5,170.7 586.7,170.7 586.8,170.7 587,170.7 587.1,170.7 587.3,170.7 587.4,170.7 587.6,170.7 587.7,170.7 587.9,170.7 588,170.7 588.2,170.7 588.3,170.7 588.5,170.7 588.6,170.7 588.8,170.7 588.9,170.7 589.1,170.7 589.2,170.7 589.4,170.7 589.5,170.7 589.7,170.7 589.8,170.7 590,170.7 590.1,170.7 590.3,170.7 590.4,170.7 590.6,170.7 590.7,170.7 590.9,170.6 591,170.6 591.2,170.6 591.3,170.6 591.5,170.6 591.6,170.6 591.8,170.6 591.9,170.6 592.1,170.6 592.2,170.6 592.4,170.6 592.5,170.6 592.7,170.6 592.8,170.6 593,170.6 593.1,170.6 593.3,170.6 593.4,170.6 593.6,170.6 593.7,170.6 593.8,170.6 594,170.6 594.1,170.6 594.3,170.5 594.4,170.5 594.6,170.5 594.7,170.5 594.9,170.5 595,170.5 595.2,170.5 595.3,170.5 595.5,170.5 595.6,170.4 595.8,170.4 595.9,170.4 596.1,170.4 596.2,170.4 596.4,170.3 596.5,170.3 596.7,170.3 596.8,170.2 597,170.2 597.1,170.2 597.3,170.1 597.4,170 597.6,170 597.7,169.9 597.9,169.8 598,169.8 598.2,169.7 598.3,169.6 598.5,169.5 598.6,169.4 598.8,169.2 598.9,169.1 599.1,169 599.2,168.8 599.4,168.7 599.5,168.5 599.7,168.4 599.8,168.2 600,168 600.1,167.8 600.3,167.7 600.4,167.5 600.6,167.3 600.7,167.2 600.9,167.1 601,167 601.2,166.9 601.3,166.8 601.5,166.8 601.6,166.8 601.8,166.8 601.9,166.9 602.1,167 602.2,167.1 602.4,167.2 602.5,167.4 602.7,167.5 602.8,167.7 603,167.9 603.1,168 603.3,168.2 603.4,168.4 603.6,168.5 603.7,168.7 603.8,168.8 604,169 604.1,169.1 604.3,169.2 604.4,169.3 604.6,169.4 604.7,169.5 604.9,169.6 605,169.7 605.2,169.8 605.3,169.8 605.5,169.9 605.6,169.9 605.8,170 605.9,170 606.1,170 606.2,170.1 606.4,170.1 606.5,170.1 606.7,170.1 606.8,170.1 607,170.2 607.1,170.2 607.3,170.2 607.4,170.2 607.6,170.2 607.7,170.2 607.9,170.2 608,170.3 608.2,170.3 608.3,170.3 608.5,170.3 608.6,170.3 608.8,170.4 608.9,170.4 609.1,170.4 609.2,170.4 609.4,170.4 609.5,170.4 609.7,170.5 609.8,170.5 610,170.5 610.1,170.5 610.3,170.5 610.4,170.5 610.6,170.5 610.7,170.5 610.9,170.6 611,170.6 611.2,170.6 611.3,170.6 611.5,170.6 611.6,170.6 611.8,170.6 611.9,170.6 612.1,170.6 612.2,170.6 612.4,170.6 612.5,170.6 612.7,170.6 612.8,170.6 613,170.6 613.1,170.6 613.3,170.6 613.4,170.6 613.6,170.6 613.7,170.6 613.8,170.6 614,170.6 614.1,170.6 614.3,170.6 614.4,170.7 614.6,170.7 614.7,170.7 614.9,170.7 615,170.7 615.2,170.7 615.3,170.7 615.5,170.7 615.6,170.7 615.8,170.7 615.9,170.7 616.1,170.7 616.2,170.7 616.4,170.7 616.5,170.7 616.7,170.7 616.8,170.7 617,170.7 617.1,170.7 617.3,170.7 617.4,170.7 617.6,170.7 617.7,170.7 617.9,170.7 618,170.7 618.2,170.7 618.3,170.6 618.5,170.6 618.6,170.6 618.8,170.6 618.9,170.6 619.1,170.6 619.2,170.6 619.4,170.6 619.5,170.6 619.7,170.6 619.8,170.6 620,170.6 620.1,170.6 620.3,170.6 620.4,170.6 620.6,170.6 620.7,170.6 620.9,170.6 621,170.6 621.2,170.6 621.3,170.6 621.5,170.6 621.6,170.6 621.8,170.6 621.9,170.6 622.1,170.6 622.2,170.6 622.4,170.6 622.5,170.5 622.7,170.5 622.8,170.5 623,170.5 623.1,170.5 623.3,170.5 623.4,170.5 623.6,170.5 623.7,170.4 623.8,170.4 624,170.4 624.1,170.4 624.3,170.4 624.4,170.3 624.6,170.3 624.7,170.3 624.9,170.2 625,170.2 625.2,170.2 625.3,170.1 625.5,170 625.6,170 625.8,169.9 625.9,169.8 626.1,169.8 626.2,169.7 626.4,169.6 626.5,169.5 626.7,169.4 626.8,169.2 627,169.1 627.1,169 627.3,168.8 627.4,168.7 627.6,168.5 627.7,168.4 627.9,168.2 628,168.1 628.2,167.9 628.3,167.8 628.5,167.6 628.6,167.5 628.8,167.4 628.9,167.3 629.1,167.3 629.2,167.2 629.4,167.2 629.5,167.2 629.7,167.3 629.8,167.3 630,167.4 630.1,167.5 630.3,167.6 630.4,167.8 630.6,167.9 630.7,168.1 630.9,168.2 631,168.4 631.2,168.5 631.3,168.7 631.5,168.8 631.6,168.9 631.8,169.1 631.9,169.2 632.1,169.3 632.2,169.4 632.4,169.5 632.5,169.6 632.7,169.7 632.8,169.7 633,169.8 633.1,169.9 633.3,169.9 633.4,169.9 633.6,170 633.7,170 633.8,170 634,170.1 634.1,170.1 634.3,170.1 634.4,170.1 634.6,170.1 634.7,170.1 634.9,170.2 635,170.2 635.2,170.2 635.3,170.2 635.5,170.2 635.6,170.2 635.8,170.2 635.9,170.3 636.1,170.3 636.2,170.3 636.4,170.3 636.5,170.3 636.7,170.4 636.8,170.4 637,170.4 637.1,170.4 637.3,170.4 637.4,170.5 637.6,170.5 637.7,170.5 637.9,170.5 638,170.5 638.2,170.5 638.3,170.6 638.5,170.6 638.6,170.6 638.8,170.6 638.9,170.6 639.1,170.6 639.2,170.6 639.4,170.6 639.5,170.6 639.7,170.6 639.8,170.6 640,170.6 640.1,170.7 640.3,170.7 640.4,170.7 640.6,170.7 640.7,170.7 640.9,170.7 641,170.7 641.2,170.7 641.3,170.7 641.5,170.7 641.6,170.7 641.8,170.7 641.9,170.7 642.1,170.7 642.2,170.7 642.4,170.7 642.5,170.7 642.7,170.7 642.8,170.7 643,170.7" fill="none" stroke="#000" stroke-width="1.5" stroke-linejoin="round"/>
<polyline points="56,204.9 56.5,205.1 56.9,204.5 57.4,204.8 57.9,205.4 58.4,204.5 58.9,205.1 59.4,205.1 59.9,205.2 60.4,204.6 60.9,205.1 61.4,204.6 61.9,205.4 62.4,204.7 62.9,205.1 63.4,204.7 63.9,205 64.4,204.5 64.9,205.1 65.4,205.1 65.9,205 66.4,205.4 66.9,205.1 67.4,205.2 67.9,205.1 68.4,205.5 68.9,204.8 69.4,204.9 69.9,204.9 70.4,205.1 70.9,205.1 71.4,205.2 71.9,205.1 72.4,204.8 72.9,204.9 73.4,205.1 73.9,204.3 74.4,205.4 74.9,204.8 75.4,204.9 75.9,205.1 76.4,205 76.8,204.9 77.3,204.7 77.8,205.4 78.3,206.1 78.8,205.7 79.3,203.1 79.8,205.1 80.3,205.3 80.8,205.3 81.3,204.9 81.8,204.6 82.3,204.7 82.8,205.7 83.3,204.7 83.8,205.9 84.3,205.8 84.8,205.6 85.3,204.8 85.8,204.8 86.3,205.2 86.8,205.1 87.3,205.4 87.8,205.2 88.3,204.8 88.8,204.4 89.3,205.1 89.8,204.9 90.3,205.4 90.8,204.6 91.3,205.1 91.8,204.8 92.3,204.7 92.8,205.5 93.3,205 93.8,204.9 94.3,205.2 94.8,204.8 95.3,204.9 95.8,204.8 96.3,205.6 96.7,205.1 97.2,205.2 97.7,205.3 98.2,205 98.7,205 99.2,204.5 99.7,205.2 100.2,205.1 100.7,204.9 101.2,205.3 101.7,204.5 102.2,205.1 102.7,204.6 103.2,204.7 103.7,204.9 104.2,205.5 104.7,204.7 105.2,204.9 105.7,204.5 106.2,206.2 106.7,205.2 107.2,204.2 107.7,205.5 108.2,203.9 108.7,203.8 109.2,204.7 109.7,204.9 110.2,205.4 110.7,204.6 111.2,205.1 111.7,204.9 112.2,204.9 112.7,205 113.2,205 113.7,204.8 114.2,204.6 114.7,204.8 115.2,204.7 115.7,204.7 116.2,205 116.6,205 117.1,205.1 117.6,204.9 118.1,205.6 118.6,204.8 119.1,204.7 119.6,205.3 120.1,204.8 120.6,205 121.1,205.3 121.6,205 122.1,204.9 122.6,205.3 123.1,205.1 123.6,204.8 124.1,204.7 124.6,204.9 125.1,204.5 125.6,204.7 126.1,204.7 126.6,205.1 127.1,205.2 127.6,204.8 128.1,204.9 128.6,204.7 129.1,204.6 129.6,204.9 130.1,205.2 130.6,205.1 131.1,205.2 131.6,204.9 132.1,204.2 132.6,205.3 133.1,205.3 133.6,205.3 134.1,205.3 134.6,205.3 135.1,205.8 135.6,205.1 136.1,205.5 136.5,205.2 137,205.2 137.5,205 138,204.9 138.5,204.7 139,205.2 139.5,204.9 140,204.6 140.5,204.8 141,204.7 141.5,205.5 142,204.9 142.5,205 143,204.6 143.5,204.7 144,205.3 144.5,204.9 145,205.1 145.5,205.5 146,205.6 146.5,205.2 147,205.2 147.5,205.1 148,204.9 148.5,205.6 149,204.7 149.5,205 150,204.4 150.5,204.6 151,205.1 151.5,205.1 152,205.1 152.5,204.9 153,204.8 153.5,204.9 154,204.9 154.5,205.3 155,205.4 155.5,205.1 156,204.8 156.4,204.7 156.9,205.1 157.4,204.9 157.9,204.5 158.4,205.4 158.9,205 159.4,204.9 159.9,204.8 160.4,204.8 160.9,205.1 161.4,204.6 161.9,205 162.4,205.1 162.9,205.6 163.4,204.9 163.9,204.8 164.4,204.5 164.9,204.6 165.4,204.7 165.9,204.8 166.4,205.2 166.9,204.8 167.4,204.6 167.9,204.8 168.4,205.2 168.9,205.3 169.4,205.1 169.9,204.9 170.4,204.7 170.9,205.2 171.4,205.3 171.9,204.6 172.4,205.2 172.9,204.9 173.4,205.3 173.9,205.3 174.4,205.4 174.9,205.2 175.4,205.6 175.9,204.5 176.3,204.7 176.8,205.1 177.3,204.5 177.8,203.6 178.3,206 178.8,207 179.3,203.6 179.8,197 180.3,210.1 180.8,210.5 181.3,205 181.8,207.1 182.3,206.2 182.8,207 183.3,204.6 183.8,204.2 184.3,204.7 184.8,204.5 185.3,205.1 185.8,204.4 186.3,204.8 186.8,204.7 187.3,204.5 187.8,205.4 188.3,204.6 188.8,203.9 189.3,206.5 189.8,205.3 190.3,203.1 190.8,205.8 191.3,204.8 191.8,204.9 192.3,205 192.8,204.9 193.3,204.6 193.8,204.9 194.3,205.4 194.8,205 195.3,205.5 195.8,205.2 196.2,205.3 196.7,205.1 197.2,205.2 197.7,205.5 198.2,205.4 198.7,205.1 199.2,204.8 199.7,204.8 200.2,205.1 200.7,205.2 201.2,204.5 201.7,205.1 202.2,205.1 202.7,205.1 203.2,204.8 203.7,205.7 204.2,205.3 204.7,204.6 205.2,204.8 205.7,205.3 206.2,205.2 206.7,205 207.2,205 207.7,204.9 208.2,204.8 208.7,204.7 209.2,205.1 209.7,204.2 210.2,204.8 210.7,205.4 211.2,204.7 211.7,204.7 212.2,205.5 212.7,205.3 213.2,205 213.7,204.8 214.2,204.9 214.7,204.9 215.2,204.9 215.7,204.8 216.1,205.1 216.6,204.8 217.1,204.5 217.6,204.6 218.1,205 218.6,204.7 219.1,204.3 219.6,205.4 220.1,205.1 220.6,204.8 221.1,204.8 221.6,205.1 222.1,205.4 222.6,204.8 223.1,205.1 223.6,204.8 224.1,205.1 224.6,204.7 225.1,204.4 225.6,205 226.1,205 226.6,205.2 227.1,204.8 227.6,205.4 228.1,205 228.6,205.4 229.1,204.9 229.6,205.4 230.1,204.9 230.6,205 231.1,205.3 231.6,204.5 232.1,204.7 232.6,205.5 233.1,204.5 233.6,204.8 234.1,205.1 234.6,205.4 235.1,204.8 235.6,205 236,204.6 236.5,204.9 237,205.3 237.5,205.1 238,205 238.5,205.1 239,205 239.5,205 240,204.9 240.5,204.7 241,205.2 241.5,204.6 242,205.4 242.5,205.6 243,205.5 243.5,205.6 244,204.6 244.5,205.1 245,204.7 245.5,204.7 246,204.5 246.5,204.7 247,205.3 247.5,205.2 248,205.2 248.5,205.4 249,205.3 249.5,204.7 250,204.9 250.5,205.2 251,205.4 251.5,204.9 252,204.8 252.5,204.9 253,205.4 253.5,205.2 254,204.9 254.5,204.8 255,205.1 255.5,204.5 255.9,204.9 256.4,204.8 256.9,204.8 257.4,205.1 257.9,205.1 258.4,205.9 258.9,205 259.4,205.2 259.9,204.8 260.4,204.5 260.9,205.3 261.4,205.6 261.9,204.7 262.4,205 262.9,205.4 263.4,205 263.9,204.3 264.4,205.2 264.9,204.9 265.4,205.1 265.9,204.7 266.4,205.4 266.9,205.1 267.4,204.9 267.9,205.1 268.4,204.8 268.9,204.7 269.4,204.8 269.9,204.9 270.4,204.8 270.9,205.3 271.4,204.9 271.9,204.7 272.4,205.4 272.9,205.2 273.4,205.3 273.9,205 274.4,205.2 274.9,204.9 275.4,204.7 275.8,205 276.3,205.2 276.8,205.1 277.3,205.5 277.8,204.6 278.3,205 278.8,204.3 279.3,204.8 279.8,205.2 280.3,205 280.8,204.8 281.3,205.2 281.8,204.9 282.3,205.3 282.8,205.3 283.3,204.9 283.8,204.7 284.3,205 284.8,205.2 285.3,205.1 285.8,204.7 286.3,204.5 286.8,204.7 287.3,204.7 287.8,205.2 288.3,205 288.8,205.3 289.3,205 289.8,205.5 290.3,205 290.8,205.2 291.3,204.9 291.8,205.2 292.3,205.3 292.8,205.2 293.3,205.4 293.8,204.9 294.3,205.1 294.8,205.5 295.3,205.1 295.7,205 296.2,205 296.7,204.9 297.2,205.1 297.7,205.4 298.2,205.2 298.7,205 299.2,204.8 299.7,204.7 300.2,205.7 300.7,204.9 301.2,205.1 301.7,204.9 302.2,205.1 302.7,204.9 303.2,205 303.7,205.4 304.2,204.8 304.7,205.2 305.2,205 305.7,205.2 306.2,204.8 306.7,205.1 307.2,204.7 307.7,204.5 308.2,204.6 308.7,204.7 309.2,204.7 309.7,204.9 310.2,205.3 310.7,204.7 311.2,205.1 311.7,205.1 312.2,204.8 312.7,204.8 313.2,205.1 313.7,205.2 314.2,204.9 314.7,205 315.2,205 315.6,204.6 316.1,204.9 316.6,205.1 317.1,205.6 317.6,204.7 318.1,204.5 318.6,204.6 319.1,205.7 319.6,204.6 320.1,204.1 320.6,205 321.1,205.4 321.6,206.1 322.1,204.4 322.6,204.9 323.1,204.5 323.6,205.4 324.1,205.3 324.6,204.8 325.1,205.4 325.6,204.9 326.1,205.1 326.6,205.2 327.1,205.1 327.6,204.9 328.1,205.1 328.6,205 329.1,204.8 329.6,205.4 330.1,204.8 330.6,206.2 331.1,205.2 331.6,204.7 332.1,205.2 332.6,205.6 333.1,204.2 333.6,205.3 334.1,204.7 334.6,205.9 335.1,205.4 335.5,205.1 336,206.1 336.5,205.8 337,204.6 337.5,204.9 338,205.4 338.5,204.5 339,205.1 339.5,205.4 340,205.6 340.5,205.4 341,204.8 341.5,205 342,204.9 342.5,205.3 343,204.8 343.5,204.7 344,204.6 344.5,205.1 345,205.1 345.5,204.8 346,204.8 346.5,205 347,205.4 347.5,204.7 348,205 348.5,205.1 349,205.1 349.5,205.4 350,205.3 350.5,205.1 351,205.4 351.5,205.3 352,205.1 352.5,205.1 353,204.7 353.5,205 354,204.8 354.5,204.7 355,204.9 355.4,204.5 355.9,204.7 356.4,204.9 356.9,205.1 357.4,204.9 357.9,205.1 358.4,205.5 358.9,205.2 359.4,204.7 359.9,204.5 360.4,204.8 360.9,204.8 361.4,204.4 361.9,204.5 362.4,204.5 362.9,204.8 363.4,205.4 363.9,205.5 364.4,204.7 364.9,204.8 365.4,204.6 365.9,204.5 366.4,205 366.9,205 367.4,204.8 367.9,205.2 368.4,204.9 368.9,205.3 369.4,204.8 369.9,205.2 370.4,204.9 370.9,205 371.4,205.1 371.9,204.6 372.4,204.8 372.9,205 373.4,204.9 373.9,205 374.4,204.8 374.9,204.6 375.3,205 375.8,205 376.3,204.7 376.8,205.3 377.3,205.2 377.8,205.1 378.3,205.2 378.8,204.2 379.3,205.5 379.8,204.9 380.3,205.4 380.8,205.9 381.3,205.4 381.8,205.3 382.3,204.7 382.8,204.7 383.3,204.9 383.8,205.3 384.3,204.8 384.8,205.3 385.3,205.1 385.8,205 386.3,204.9 386.8,205 387.3,204.5 387.8,205 388.3,205.1 388.8,204.9 389.3,205.1 389.8,205.1 390.3,204.8 390.8,205.3 391.3,204.9 391.8,205.7 392.3,204.7 392.8,204.8 393.3,204.8 393.8,205.1 394.3,205.3 394.8,205 395.2,204.9 395.7,205.6 396.2,205.3 396.7,205 397.2,205 397.7,204.6 398.2,205 398.7,205.5 399.2,204.7 399.7,204.6 400.2,205 400.7,204.3 401.2,205.4 401.7,204.6 402.2,204.8 402.7,205 403.2,205.4 403.7,205.1 404.2,204.5 404.7,204.5 405.2,205.1 405.7,204.4 406.2,204.9 406.7,204.8 407.2,205.2 407.7,205.3 408.2,204.3 408.7,205.1 409.2,205.2 409.7,204.8 410.2,204.8 410.7,204.6 411.2,205 411.7,205.2 412.2,205.3 412.7,205.4 413.2,204.8 413.7,204.8 414.2,205.3 414.7,204.2 415.1,204.6 415.6,205.2 416.1,205.6 416.6,204.8 417.1,205 417.6,204.7 418.1,205 418.6,205 419.1,204.8 419.6,205.1 420.1,205 420.6,205.1 421.1,204.9 421.6,204.6 422.1,205.1 422.6,205.2 423.1,204.8 423.6,205.3 424.1,204.9 424.6,204.9 425.1,205.1 425.6,204.8 426.1,204.7 426.6,205.2 427.1,205.3 427.6,204.9 428.1,204.9 428.6,204.9 429.1,205.2 429.6,205.5 430.1,204.8 430.6,205.1 431.1,205 431.6,205.1 432.1,205.4 432.6,204.8 433.1,204.4 433.6,205 434.1,204.5 434.6,205.5 435,204.8 435.5,204.9 436,205.1 436.5,205 437,204.7 437.5,204.9 438,205.4 438.5,204.6 439,205.2 439.5,205.3 440,204.4 440.5,205.2 441,204.4 441.5,205.1 442,205.7 442.5,205.3 443,204.6 443.5,204.8 444,204.9 444.5,205.5 445,204.8 445.5,205.4 446,205.1 446.5,204.9 447,205.1 447.5,205.5 448,204.9 448.5,204.8 449,205.3 449.5,206.1 450,205.2 450.5,204.8 451,204.2 451.5,206.4 452,205.5 452.5,205.5 453,203.1 453.5,202.2 454,202.6 454.5,205.2 454.9,205.7 455.4,206.9 455.9,206 456.4,207.3 456.9,205.4 457.4,204.6 457.9,204.7 458.4,204.9 458.9,205.3 459.4,205.1 459.9,205.3 460.4,204.6 460.9,205 461.4,204.8 461.9,204.9 462.4,204.9 462.9,204.9 463.4,204.8 463.9,204.9 464.4,205.1 464.9,204.7 465.4,204.7 465.9,204.7 466.4,204.7 466.9,205.1 467.4,204.7 467.9,205 468.4,205 468.9,205.2 469.4,205 469.9,205.3 470.4,205 470.9,205.1 471.4,205.2 471.9,204.6 472.4,205.1 472.9,205.4 473.4,205 473.9,204.9 474.4,205.5 474.8,205 475.3,205.3 475.8,204.4 476.3,205 476.8,204.8 477.3,205.1 477.8,205.3 478.3,205 478.8,204.9 479.3,204.2 479.8,205.2 480.3,205.4 480.8,205 481.3,204.9 481.8,205.1 482.3,205.3 482.8,205.2 483.3,205.6 483.8,204.8 484.3,204.6 484.8,205.1 485.3,205.4 485.8,204.9 486.3,205 486.8,204.9 487.3,204.6 487.8,204.8 488.3,204.4 488.8,205.1 489.3,205.1 489.8,205.3 490.3,204.8 490.8,204.9 491.3,204.6 491.8,204.5 492.3,205.5 492.8,206.1 493.3,205 493.8,204.9 494.3,205.5 494.7,204.8 495.2,205.1 495.7,204.6 496.2,205 496.7,205.1 497.2,205 497.7,204.6 498.2,205.2 498.7,205 499.2,204.8 499.7,204.7 500.2,205.1 500.7,204.8 501.2,205 501.7,205.3 502.2,205 502.7,205.3 503.2,204.6 503.7,205.2 504.2,205.2 504.7,205.5 505.2,205 505.7,205.3 506.2,205 506.7,204.7 507.2,204.8 507.7,204.8 508.2,205.2 508.7,204.8 509.2,205 509.7,205.3 510.2,205.4 510.7,205.3 511.2,205.4 511.7,204.7 512.2,204.9 512.7,205.1 513.2,205.3 513.7,205.1 514.2,204.8 514.6,204.9 515.1,204.5 515.6,205.2 516.1,204.5 516.6,205.1 517.1,205.3 517.6,205.3 518.1,204.5 518.6,205.1 519.1,204.9 519.6,204.9 520.1,205.5 520.6,205.1 521.1,204.6 521.6,204.7 522.1,205.2 522.6,205.1 523.1,204.7 523.6,204.6 524.1,204.8 524.6,204.9 525.1,205.3 525.6,204.8 526.1,205.1 526.6,205.4 527.1,204.5 527.6,204.7 528.1,205.4 528.6,205 529.1,205.1 529.6,205.2 530.1,204.8 530.6,204.9 531.1,204.5 531.6,205.2 532.1,204.8 532.6,204.9 533.1,204.3 533.6,205.3 534.1,205.2 534.5,204.8 535,205.3 535.5,204.3 536,205 536.5,204.5 537,205.7 537.5,204.3 538,204.6 538.5,204.8 539,205.2 539.5,205.2 540,205.1 540.5,204.9 541,205.6 541.5,204.8 542,205.1 542.5,205.5 543,204.7 543.5,204.7 544,205.3 544.5,205.1 545,204.6 545.5,205 546,205.5 546.5,204.9 547,205.3 547.5,205.2 548,204.8 548.5,205.5 549,205.3 549.5,205.2 550,205.1 550.5,205 551,205.1 551.5,205.1 552,204.8 552.5,204.8 553,205.4 553.5,204.6 554,204.9 554.4,204.9 554.9,204.8 555.4,204.6 555.9,204.8 556.4,205.2 556.9,204.9 557.4,204.8 557.9,205.4 558.4,204.6 558.9,205.3 559.4,205.1 559.9,204.6 560.4,204.9 560.9,204.9 561.4,205.3 561.9,205.2 562.4,204.9 562.9,204.6 563.4,204.5 563.9,204.9 564.4,204.6 564.9,205 565.4,204.9 565.9,205.1 566.4,205.2 566.9,205 567.4,205.1 567.9,204.9 568.4,205.3 568.9,205.3 569.4,205.4 569.9,205.4 570.4,204.8 570.9,204.6 571.4,205.2 571.9,205.3 572.4,204.8 572.9,205.4 573.4,205 573.9,204.9 574.3,205.1 574.8,204.6 575.3,204.5 575.8,204.9 576.3,204.6 576.8,205 577.3,205 577.8,204.2 578.3,204.7 578.8,205.1 579.3,204.3 579.8,204.9 580.3,204.6 580.8,204.4 581.3,205.3 581.8,205.3 582.3,204.9 582.8,204.8 583.3,205.3 583.8,205.3 584.3,204.9 584.8,205.2 585.3,205 585.8,204.9 586.3,205.1 586.8,204.8 587.3,205.1 587.8,204.9 588.3,204.8 588.8,204.8 589.3,205.1 589.8,205.2 590.3,205.1 590.8,204.7 591.3,205.1 591.8,204.7 592.3,204.6 592.8,204.9 593.3,205.2 593.8,205.2 594.2,205.1 594.7,205.3 595.2,205.2 595.7,204.8 596.2,205.2 596.7,204.9 597.2,205.1 597.7,205.1 598.2,204.9 598.7,204.6 599.2,204.9 599.7,204.9 600.2,204.9 600.7,204.9 601.2,204.6 601.7,204.5 602.2,205.1 602.7,205.1 603.2,205 603.7,204.9 604.2,205.6 604.7,205.1 605.2,205 605.7,205.2 606.2,205 606.7,205.2 607.2,205 607.7,205.2 608.2,205 608.7,204.8 609.2,205.1 609.7,205.3 610.2,204.7 610.7,204.9 611.2,204.7 611.7,205.2 612.2,204.9 612.7,205.2 613.2,204.8 613.7,205.2 614.1,204.8 614.6,204.9 615.1,205.1 615.6,204.9 616.1,204.8 616.6,205.2 617.1,205 617.6,205.3 618.1,205.7 618.6,204.8 619.1,204.9 619.6,204.6 620.1,204.7 620.6,205.2 621.1,205.1 621.6,205.1 622.1,205.1 622.6,204.8 623.1,204.5 623.6,205.3 624.1,205.1 624.6,205.3 625.1,205 625.6,205.2 626.1,204.9 626.6,205 627.1,205 627.6,205.1 628.1,205.3 628.6,205.3 629.1,204.4 629.6,204.9 630.1,204.9 630.6,205.3 631.1,205 631.6,204.7 632.1,204.8 632.6,204.9 633.1,204.8 633.6,205.4 634,205.1 634.5,205 635,205.3 635.5,205.6 636,204.9 636.5,205 637,204.9 637.5,204.7 638,204.8 638.5,204.7 639,205.1 639.5,205.1 640,205.2 640.5,204.8 641,205.3 641.5,204.7 642,204.9 642.5,205.4 643,205.3" fill="none" stroke="#0a0ac8" stroke-width="1.25"/>
<path d="M79.3 176.8v4.8M84.3 176.8v4.8M108.1 176.8v4.8M108.5 176.8v4.8M133.4 176.8v4.8M166.1 176.8v4.8M181 176.8v4.8M181.6 176.8v4.8M188.3 176.8v4.8M189 176.8v4.8M210.3 176.8v4.8M225.7 176.8v4.8M230.1 176.8v4.8M241.4 176.8v4.8M244.7 176.8v4.8M245.3 176.8v4.8M245.8 176.8v4.8M246.7 176.8v4.8M248.4 176.8v4.8M266.8 176.8v4.8M267.9 176.8v4.8M278.4 176.8v4.8M279.2 176.8v4.8M285.1 176.8v4.8M285.6 176.8v4.8M298.1 176.8v4.8M299.1 176.8v4.8M321.5 176.8v4.8M332.2 176.8v4.8M334.8 176.8v4.8M337.5 176.8v4.8M337.9 176.8v4.8M349.8 176.8v4.8M360.4 176.8v4.8M366.1 176.8v4.8M366.5 176.8v4.8M367.2 176.8v4.8M367.4 176.8v4.8M367.9 176.8v4.8M368.6 176.8v4.8M377.9 176.8v4.8M379.2 176.8v4.8M380.7 176.8v4.8M381.1 176.8v4.8M382.5 176.8v4.8M382.8 176.8v4.8M383.7 176.8v4.8M384.6 176.8v4.8M385 176.8v4.8M385.6 176.8v4.8M386 176.8v4.8M386.4 176.8v4.8M387.1 176.8v4.8M391 176.8v4.8M391.9 176.8v4.8M392.5 176.8v4.8M393.4 176.8v4.8M395.4 176.8v4.8M396.9 176.8v4.8M398.5 176.8v4.8M411.4 176.8v4.8M412 176.8v4.8M412.9 176.8v4.8M413.6 176.8v4.8M425 176.8v4.8M425.4 176.8v4.8M426.5 176.8v4.8M427 176.8v4.8M439.4 176.8v4.8M441 176.8v4.8M453 176.8v4.8M453.6 176.8v4.8M454.6 176.8v4.8M455.1 176.8v4.8M455.3 176.8v4.8M456.2 176.8v4.8M456.4 176.8v4.8M456.9 176.8v4.8M458.2 176.8v4.8M466.5 176.8v4.8M467.4 176.8v4.8M468.2 176.8v4.8M468.9 176.8v4.8M469.3 176.8v4.8M469.9 176.8v4.8M470.6 176.8v4.8M471 176.8v4.8M473 176.8v4.8M474.6 176.8v4.8M477.5 176.8v4.8M479.1 176.8v4.8M480.8 176.8v4.8M486.2 176.8v4.8M486.8 176.8v4.8M488 176.8v4.8M488.6 176.8v4.8M489.3 176.8v4.8M491.1 176.8v4.8M492.2 176.8v4.8M493.2 176.8v4.8M493.9 176.8v4.8M494.4 176.8v4.8M494.9 176.8v4.8M495.6 176.8v4.8M496.2 176.8v4.8M496.8 176.8v4.8M498.6 176.8v4.8M500.5 176.8v4.8M509 176.8v4.8M509.8 176.8v4.8M510.8 176.8v4.8M511.6 176.8v4.8M513.9 176.8v4.8M515.6 176.8v4.8M515.9 176.8v4.8M516.9 176.8v4.8M517.8 176.8v4.8M518.8 176.8v4.8M520.5 176.8v4.8M522.3 176.8v4.8M524.2 176.8v4.8M525.7 176.8v4.8M526.8 176.8v4.8M527.6 176.8v4.8M528.8 176.8v4.8M540.5 176.8v4.8M542.5 176.8v4.8M548.3 176.8v4.8M549.9 176.8v4.8M550.3 176.8v4.8M551.9 176.8v4.8M553.3 176.8v4.8M555.3 176.8v4.8M558.8 176.8v4.8M559.4 176.8v4.8M560.8 176.8v4.8M561.5 176.8v4.8M565.6 176.8v4.8M567.1 176.8v4.8M567.6 176.8v4.8M569.2 176.8v4.8M573.4 176.8v4.8M574.5 176.8v4.8M575.4 176.8v4.8M576.6 176.8v4.8M584.4 176.8v4.8M585 176.8v4.8M585.9 176.8v4.8M586.5 176.8v4.8M587.1 176.8v4.8M588 176.8v4.8M589.4 176.8v4.8M589.7 176.8v4.8M591.1 176.8v4.8M591.5 176.8v4.8M591.7 176.8v4.8M593.2 176.8v4.8M593.5 176.8v4.8M593.8 176.8v4.8M594.1 176.8v4.8M596 176.8v4.8M596.3 176.8v4.8M598.2 176.8v4.8M601.8 176.8v4.8M602.4 176.8v4.8M604 176.8v4.8M604.6 176.8v4.8M607.9 176.8v4.8M609.5 176.8v4.8M610.1 176.8v4.8M611.7 176.8v4.8M613.9 176.8v4.8M616.5 176.8v4.8M618 176.8v4.8M618.8 176.8v4.8M620.3 176.8v4.8M628.2 176.8v4.8M630.1 176.8v4.8M630.4 176.8v4.8M630.8 176.8v4.8M632.5 176.8v4.8M633.1 176.8v4.8M638.7 176.8v4.8M639.8 176.8v4.8M640.2 176.8v4.8M641 176.8v4.8M642.2 176.8v4.8M642.5 176.8v4.8" stroke="#0ee00e" stroke-width="1.25" fill="none"/>
<rect x="46.5" y="4.0" width="597.0" height="224.8" fill="none" stroke="#000" stroke-width="2"/>
<path d="M96.2 228.8v-5M96.2 4v5M146 228.8v-9M146 4v9M195.8 228.8v-5M195.8 4v5M245.5 228.8v-9M245.5 4v9M295.2 228.8v-5M295.2 4v5M345 228.8v-9M345 4v9M394.8 228.8v-5M394.8 4v5M444.5 228.8v-9M444.5 4v9M494.2 228.8v-5M494.2 4v5M544 228.8v-9M544 4v9M593.8 228.8v-5M593.8 4v5" stroke="#000" stroke-width="1.9" fill="none"/></g>
<g font-size="25.8" text-anchor="middle" fill="#000">
<text x="46.5" y="256">20</text>
<text x="146.0" y="256">30</text>
<text x="245.5" y="256">40</text>
<text x="345.0" y="256">50</text>
<text x="444.5" y="256">60</text>
<text x="544.0" y="256">70</text>
<text x="643.5" y="256">80</text>
</g>
<text y="288.7" font-size="27.8"><tspan x="292">2</tspan><tspan font-style="italic" x="308" font-size="29">θ</tspan><tspan x="326.5">(deg.)</tspan></text>
<text transform="translate(20.3,120.2) rotate(-90)" font-size="28.2" text-anchor="middle">Intensity (arb.)</text>
<text x="64.3" y="40.3" font-size="30" font-weight="bold">(a)</text>
<circle cx="470.7" cy="32.1" r="9.3" fill="none" stroke="#e60000" stroke-width="1.4"/>
<path d="M460 60.1h21" stroke="#000" stroke-width="1.3"/>
<path d="M460 87.5h21" stroke="#0a0ac8" stroke-width="1.3"/>
<path d="M472.9 100.7v26.8" stroke="#10e010" stroke-width="1.3"/>
<g font-size="22" font-weight="bold">
<text x="492.8" y="38.6" font-size="23.6">Y<tspan font-size="15.3" dy="4.5" dx="-3">obs</tspan></text>
<text x="492.8" y="66.3" font-size="23.6">Y<tspan font-size="15.3" dy="4.5" dx="-0.3">cal</tspan></text>
<text x="492.8" y="93" font-size="23.6">Y<tspan font-size="15.3" dy="4.5" dx="-3">obs</tspan><tspan dy="-4.5">-Y</tspan><tspan font-size="15.3" dy="4.5" dx="-0.3">cal</tspan></text>
<text x="493.8" y="120.7" font-size="22.6">Bragg position</text>
</g>
<g id="pb" fill="none" stroke="none"><path d="M201.1 615.2L174.4 542.7L248 547.9Z" fill="rgb(118,52,95)" fill-opacity="0.3"/>
<path d="M209.5 521.6L174.4 542.7L248 547.9Z" fill="rgb(200,90,148)" fill-opacity="0.3"/>
<path d="M201.1 615.2L174.4 542.7L162.6 588.9Z" fill="rgb(118,52,95)" fill-opacity="0.3"/>
<path d="M209.5 521.6L174.4 542.7L162.6 588.9Z" fill="rgb(212,96,156)" fill-opacity="0.3"/>
<path d="M201.1 615.2L236.2 594.1L248 547.9Z" fill="rgb(118,52,95)" fill-opacity="0.3"/>
<path d="M209.5 521.6L236.2 594.1L248 547.9Z" fill="rgb(195,88,145)" fill-opacity="0.3"/>
<circle cx="174.4" cy="542.7" r="5" fill="url(#gO)"/>
<circle cx="289.1" cy="611.6" r="9.9" fill="url(#gEr)"/>
<path d="M209.5 521.6L251.4 452.3L172.8 446.2Z" fill="rgb(49,84,128)" fill-opacity="0.3"/>
<path d="M201.1 615.2L236.2 594.1L162.6 588.9Z" fill="rgb(118,52,95)" fill-opacity="0.3"/>
<circle cx="248" cy="547.9" r="5" fill="url(#gO)"/>
<path d="M205.3 568.4L176.3 544.2" stroke="rgb(236,22,126)" stroke-width="2.9"/><path d="M205.3 568.4L176.3 544.2" stroke="#ff7ab8" stroke-width="1" stroke-opacity=".3"/>
<path d="M209.5 521.6L236.2 594.1L162.6 588.9Z" fill="rgb(206,93,152)" fill-opacity="0.3"/>
<path d="M205.3 568.4L245.4 549.1" stroke="rgb(236,22,126)" stroke-width="2.9"/><path d="M205.3 568.4L245.4 549.1" stroke="#ff7ab8" stroke-width="1" stroke-opacity=".3"/>
<circle cx="140.3" cy="614.9" r="9.9" fill="url(#gEr)"/>
<path d="M270.4 567L279.7 566.8" stroke="#6a6a6a" stroke-width="0.6"/>
<path d="M261.1 567.2L270.4 567" stroke="#6a6a6a" stroke-width="0.6"/>
<path d="M251.8 567.4L261.1 567.2" stroke="#6a6a6a" stroke-width="0.6"/>
<path d="M279.7 566.8L279.9 555.3" stroke="#6a6a6a" stroke-width="0.6"/>
<path d="M242.5 567.6L251.8 567.4" stroke="#6a6a6a" stroke-width="0.6"/>
<path d="M291 650.7L236.2 594.1L311.4 585.6Z" fill="rgb(49,84,128)" fill-opacity="0.3"/>
<path d="M279.7 566.8L280.5 570.3" stroke="#6a6a6a" stroke-width="0.6"/>
<path d="M233.2 567.8L242.5 567.6" stroke="#6a6a6a" stroke-width="0.6"/>
<path d="M205.3 568.4L201.4 612.2" stroke="rgb(236,22,126)" stroke-width="2.9"/><path d="M205.3 568.4L201.4 612.2" stroke="#ff7ab8" stroke-width="1" stroke-opacity=".3"/>
<path d="M209.5 521.6L162.9 500.8L172.8 446.2Z" fill="rgb(49,84,128)" fill-opacity="0.3"/>
<path d="M223.9 568L233.2 567.8" stroke="#6a6a6a" stroke-width="0.6"/>
<circle cx="201.1" cy="615.2" r="5" fill="url(#gO)"/>
<path d="M214.6 568.2L223.9 568" stroke="#6a6a6a" stroke-width="0.6"/>
<path d="M205.3 568.4L214.6 568.2" stroke="#6a6a6a" stroke-width="0.6"/>
<path d="M196 568.6L205.3 568.4" stroke="#6a6a6a" stroke-width="0.6"/>
<path d="M279.9 555.3L280.1 543.8" stroke="#6a6a6a" stroke-width="0.6"/>
<path d="M186.7 568.8L196 568.6" stroke="#6a6a6a" stroke-width="0.6"/>
<path d="M177.4 569L186.7 568.8" stroke="#6a6a6a" stroke-width="0.6"/>
<path d="M204.8 431.5L251.4 452.3L172.8 446.2Z" fill="rgb(82,121,166)" fill-opacity="0.3"/>
<path d="M168.1 569.2L177.4 569" stroke="#6a6a6a" stroke-width="0.6"/>
<path d="M209.5 521.6L251.4 452.3L241.5 506.9Z" fill="rgb(49,84,128)" fill-opacity="0.3"/>
<path d="M205.9 561.7L209.2 524.6" stroke="rgb(236,22,126)" stroke-width="2.9"/><path d="M205.9 561.7L209.2 524.6" stroke="#ff7ab8" stroke-width="1" stroke-opacity=".3"/>
<path d="M281.4 539.1L236.2 594.1L311.4 585.6Z" fill="rgb(78,117,162)" fill-opacity="0.3"/>
<path d="M158.8 569.4L168.1 569.2" stroke="#6a6a6a" stroke-width="0.6"/>
<path d="M280.5 570.3L281.3 573.8" stroke="#6a6a6a" stroke-width="0.6"/>
<path d="M149.5 569.6L158.8 569.4" stroke="#6a6a6a" stroke-width="0.6"/>
<path d="M140.2 569.8L149.5 569.6" stroke="#6a6a6a" stroke-width="0.6"/>
<path d="M280.1 543.8L280.4 532.3" stroke="#6a6a6a" stroke-width="0.6"/>
<path d="M130.9 570L140.2 569.8" stroke="#6a6a6a" stroke-width="0.6"/>
<circle cx="205.3" cy="568.4" r="7.9" fill="url(#gCo)"/>
<circle cx="311.4" cy="585.6" r="5" fill="url(#gO)"/>
<circle cx="172.8" cy="446.2" r="5" fill="url(#gO)"/>
<path d="M199.6 571.1L165.1 587.6" stroke="rgb(236,22,126)" stroke-width="2.9"/><path d="M199.6 571.1L165.1 587.6" stroke="#ff7ab8" stroke-width="1" stroke-opacity=".3"/>
<path d="M130.9 570L131.1 558.5" stroke="#6a6a6a" stroke-width="0.6"/>
<path d="M142.2 653.9L87.4 597.3L162.6 588.9Z" fill="rgb(49,84,128)" fill-opacity="0.3"/>
<circle cx="209.5" cy="521.6" r="5" fill="url(#gO)"/>
<path d="M130.9 570L131.7 573.5" stroke="#6a6a6a" stroke-width="0.6"/>
<path d="M280.4 532.3L280.6 520.9" stroke="#6a6a6a" stroke-width="0.6"/>
<path d="M281.3 573.8L282.1 577.3" stroke="#6a6a6a" stroke-width="0.6"/>
<path d="M131.1 558.5L131.4 547" stroke="#6a6a6a" stroke-width="0.6"/>
<path d="M209.5 571.9L234.3 592.5" stroke="rgb(236,22,126)" stroke-width="2.9"/><path d="M209.5 571.9L234.3 592.5" stroke="#ff7ab8" stroke-width="1" stroke-opacity=".3"/>
<path d="M291 650.7L336.2 595.7L311.4 585.6Z" fill="rgb(49,84,128)" fill-opacity="0.3"/>
<path d="M280.6 520.9L280.8 509.4" stroke="#6a6a6a" stroke-width="0.6"/>
<path d="M132.6 542.3L87.4 597.3L162.6 588.9Z" fill="rgb(78,117,162)" fill-opacity="0.3"/>
<circle cx="251.4" cy="452.3" r="5" fill="url(#gO)"/>
<path d="M131.7 573.5L132.5 577" stroke="#6a6a6a" stroke-width="0.6"/>
<path d="M131.4 547L131.6 535.6" stroke="#6a6a6a" stroke-width="0.6"/>
<path d="M282.1 577.3L282.9 580.8" stroke="#6a6a6a" stroke-width="0.6"/>
<path d="M204.8 431.5L162.9 500.8L172.8 446.2Z" fill="rgb(82,121,166)" fill-opacity="0.3"/>
<path d="M280.8 509.4L281.1 497.9" stroke="#6a6a6a" stroke-width="0.6"/>
<path d="M209.5 521.6L162.9 500.8L241.5 506.9Z" fill="rgb(49,84,128)" fill-opacity="0.3"/>
<circle cx="162.6" cy="588.9" r="5" fill="url(#gO)"/>
<path d="M281.4 539.1L336.2 595.7L311.4 585.6Z" fill="rgb(75,113,158)" fill-opacity="0.3"/>
<path d="M207.1 476.6L174.5 447.8" stroke="rgb(24,120,220)" stroke-width="2.9"/><path d="M207.1 476.6L174.5 447.8" stroke="#6ab8ff" stroke-width="1" stroke-opacity=".3"/>
<path d="M207.1 476.6L209.3 519.2" stroke="rgb(24,120,220)" stroke-width="2.9"/><path d="M207.1 476.6L209.3 519.2" stroke="#6ab8ff" stroke-width="1" stroke-opacity=".3"/>
<path d="M131.6 535.6L131.8 524.1" stroke="#6a6a6a" stroke-width="0.6"/>
<circle cx="270.3" cy="521.9" r="9.9" fill="url(#gEr)"/>
<path d="M281.1 497.9L281.3 486.4" stroke="#6a6a6a" stroke-width="0.6"/>
<path d="M204.8 431.5L251.4 452.3L241.5 506.9Z" fill="rgb(72,110,155)" fill-opacity="0.3"/>
<path d="M132.5 577L133.3 580.5" stroke="#6a6a6a" stroke-width="0.6"/>
<path d="M207.1 476.6L249.1 453.6" stroke="rgb(24,120,220)" stroke-width="2.9"/><path d="M207.1 476.6L249.1 453.6" stroke="#6ab8ff" stroke-width="1" stroke-opacity=".3"/>
<path d="M282.9 580.8L283.7 584.3" stroke="#6a6a6a" stroke-width="0.6"/>
<path d="M142.2 653.9L187.4 598.9L162.6 588.9Z" fill="rgb(49,84,128)" fill-opacity="0.3"/>
<path d="M131.8 524.1L132.1 512.6" stroke="#6a6a6a" stroke-width="0.6"/>
<path d="M291 650.7L236.2 594.1L260.9 604.1Z" fill="rgb(49,84,128)" fill-opacity="0.3"/>
<path d="M286.2 594.9L310.1 586.1" stroke="rgb(20,103,190)" stroke-width="2.9"/><path d="M286.2 594.9L310.1 586.1" stroke="#6ab8ff" stroke-width="1" stroke-opacity=".3"/>
<path d="M281.3 486.4L281.5 475" stroke="#6a6a6a" stroke-width="0.6"/>
<circle cx="236.2" cy="594.1" r="5" fill="url(#gO)"/>
<path d="M133.3 580.5L134.1 584" stroke="#6a6a6a" stroke-width="0.6"/>
<path d="M132.1 512.6L132.3 501.1" stroke="#6a6a6a" stroke-width="0.6"/>
<path d="M204.8 431.5L178.1 359L251.7 364.3Z" fill="rgb(118,52,95)" fill-opacity="0.3"/>
<path d="M283.7 584.3L284.5 587.9" stroke="#6a6a6a" stroke-width="0.6"/>
<path d="M132.6 542.3L187.4 598.9L162.6 588.9Z" fill="rgb(75,113,158)" fill-opacity="0.3"/>
<path d="M281.5 475L281.8 463.5" stroke="#6a6a6a" stroke-width="0.6"/>
<path d="M281.4 539.1L311.7 497.6L241.5 506.9Z" fill="rgb(119,52,95)" fill-opacity="0.3"/>
<path d="M281.4 539.1L236.2 594.1L260.9 604.1Z" fill="rgb(82,121,166)" fill-opacity="0.3"/>
<circle cx="121.5" cy="525.1" r="9.9" fill="url(#gEr)"/>
<path d="M213.2 338L178.1 359L251.7 364.3Z" fill="rgb(200,90,148)" fill-opacity="0.3"/>
<path d="M132.3 501.1L132.5 489.7" stroke="#6a6a6a" stroke-width="0.6"/>
<path d="M281.8 463.5L282 452" stroke="#6a6a6a" stroke-width="0.6"/>
<path d="M134.1 584L134.9 587.6" stroke="#6a6a6a" stroke-width="0.6"/>
<path d="M286.2 594.9L238.8 594.1" stroke="rgb(24,120,220)" stroke-width="2.9"/><path d="M286.2 594.9L238.8 594.1" stroke="#6ab8ff" stroke-width="1" stroke-opacity=".3"/>
<path d="M284.5 587.9L285.4 591.4" stroke="#6a6a6a" stroke-width="0.6"/>
<path d="M142.2 653.9L87.4 597.3L112.1 607.3Z" fill="rgb(49,84,128)" fill-opacity="0.3"/>
<path d="M204.8 431.5L162.9 500.8L241.5 506.9Z" fill="rgb(70,108,153)" fill-opacity="0.3"/>
<path d="M137.4 598.1L161.3 589.3" stroke="rgb(20,103,190)" stroke-width="2.9"/><path d="M137.4 598.1L161.3 589.3" stroke="#6ab8ff" stroke-width="1" stroke-opacity=".3"/>
<path d="M132.5 489.7L132.7 478.2" stroke="#6a6a6a" stroke-width="0.6"/>
<circle cx="87.4" cy="597.3" r="5" fill="url(#gO)"/>
<path d="M282 452L282.2 440.5" stroke="#6a6a6a" stroke-width="0.6"/>
<path d="M204.8 431.5L178.1 359L166.3 405.2Z" fill="rgb(118,52,95)" fill-opacity="0.3"/>
<circle cx="207.1" cy="476.6" r="7.4" fill="url(#gMn)"/>
<circle cx="291" cy="650.7" r="5" fill="url(#gO)"/>
<path d="M291 650.7L336.2 595.7L260.9 604.1Z" fill="rgb(49,84,128)" fill-opacity="0.3"/>
<path d="M281.4 539.1L311.7 497.6L334.5 499.2Z" fill="rgb(118,52,95)" fill-opacity="0.3"/>
<circle cx="200.1" cy="641.5" r="9.9" fill="url(#gEr)"/>
<path d="M134.9 587.6L135.8 591.1" stroke="#6a6a6a" stroke-width="0.6"/>
<path d="M132.7 478.2L133 466.7" stroke="#6a6a6a" stroke-width="0.6"/>
<path d="M286.2 594.9L290.7 647.7" stroke="rgb(24,120,220)" stroke-width="2.9"/><path d="M286.2 594.9L290.7 647.7" stroke="#6ab8ff" stroke-width="1" stroke-opacity=".3"/>
<path d="M132.6 542.3L162.9 500.8L92.7 510.1Z" fill="rgb(119,52,95)" fill-opacity="0.3"/>
<path d="M213.2 338L178.1 359L166.3 405.2Z" fill="rgb(212,96,156)" fill-opacity="0.3"/>
<path d="M285.4 591.4L286.2 594.9" stroke="#6a6a6a" stroke-width="0.6"/>
<path d="M282.2 440.5L282.5 429.1" stroke="#6a6a6a" stroke-width="0.6"/>
<path d="M132.6 542.3L87.4 597.3L112.1 607.3Z" fill="rgb(82,121,166)" fill-opacity="0.3"/>
<path d="M204.8 431.5L239.9 410.5L251.7 364.3Z" fill="rgb(118,52,95)" fill-opacity="0.3"/>
<path d="M202.3 479.2L165.2 499.6" stroke="rgb(24,120,220)" stroke-width="2.9"/><path d="M202.3 479.2L165.2 499.6" stroke="#6ab8ff" stroke-width="1" stroke-opacity=".3"/>
<path d="M133 466.7L133.2 455.2" stroke="#6a6a6a" stroke-width="0.6"/>
<path d="M137.4 598.1L90 597.4" stroke="rgb(24,120,220)" stroke-width="2.9"/><path d="M137.4 598.1L90 597.4" stroke="#6ab8ff" stroke-width="1" stroke-opacity=".3"/>
<path d="M282.5 429.1L282.7 417.6" stroke="#6a6a6a" stroke-width="0.6"/>
<path d="M281.4 539.1L336.2 595.7L260.9 604.1Z" fill="rgb(82,121,166)" fill-opacity="0.3"/>
<path d="M294.7 467L311.7 497.6L241.5 506.9Z" fill="rgb(212,96,156)" fill-opacity="0.3"/>
<path d="M135.8 591.1L136.6 594.6" stroke="#6a6a6a" stroke-width="0.6"/>
<path d="M213.2 338L239.9 410.5L251.7 364.3Z" fill="rgb(195,88,145)" fill-opacity="0.3"/>
<circle cx="178.1" cy="359" r="5" fill="url(#gO)"/>
<circle cx="311.7" cy="497.6" r="5" fill="url(#gO)"/>
<path d="M206.9 471.6L204.9 433.9" stroke="rgb(24,120,220)" stroke-width="2.9"/><path d="M206.9 471.6L204.9 433.9" stroke="#6ab8ff" stroke-width="1" stroke-opacity=".3"/>
<path d="M286.2 594.9L287 598.4" stroke="#6a6a6a" stroke-width="0.6"/>
<path d="M210.8 479.8L239.8 505.4" stroke="rgb(24,120,220)" stroke-width="2.9"/><path d="M210.8 479.8L239.8 505.4" stroke="#6ab8ff" stroke-width="1" stroke-opacity=".3"/>
<circle cx="292.8" cy="428" r="9.9" fill="url(#gEr)"/>
<path d="M133.2 455.2L133.4 443.7" stroke="#6a6a6a" stroke-width="0.6"/>
<path d="M285.6 588.7L281.6 542" stroke="rgb(24,120,220)" stroke-width="2.9"/><path d="M285.6 588.7L281.6 542" stroke="#6ab8ff" stroke-width="1" stroke-opacity=".3"/>
<path d="M282.7 417.6L282.9 406.1" stroke="#6a6a6a" stroke-width="0.6"/>
<circle cx="286.2" cy="594.9" r="7.4" fill="url(#gMn)"/>
<circle cx="142.2" cy="653.9" r="5" fill="url(#gO)"/>
<path d="M142.2 653.9L187.4 598.9L112.1 607.3Z" fill="rgb(49,84,128)" fill-opacity="0.3"/>
<path d="M132.6 542.3L162.9 500.8L185.7 502.4Z" fill="rgb(118,52,95)" fill-opacity="0.3"/>
<path d="M137.4 598.1L141.9 650.9" stroke="rgb(24,120,220)" stroke-width="2.9"/><path d="M137.4 598.1L141.9 650.9" stroke="#6ab8ff" stroke-width="1" stroke-opacity=".3"/>
<path d="M281.4 539.1L264.4 508.5L241.5 506.9Z" fill="rgb(118,52,95)" fill-opacity="0.3"/>
<path d="M136.6 594.6L137.4 598.1" stroke="#6a6a6a" stroke-width="0.6"/>
<path d="M133.4 443.7L133.7 432.3" stroke="#6a6a6a" stroke-width="0.6"/>
<path d="M204.8 431.5L239.9 410.5L166.3 405.2Z" fill="rgb(118,52,95)" fill-opacity="0.3"/>
<path d="M282.9 406.1L283.2 394.6" stroke="#6a6a6a" stroke-width="0.6"/>
<path d="M287 598.4L287.8 601.9" stroke="#6a6a6a" stroke-width="0.6"/>
<circle cx="251.7" cy="364.3" r="5" fill="url(#gO)"/>
<path d="M209 384.8L180 360.6" stroke="rgb(236,22,126)" stroke-width="2.9"/><path d="M209 384.8L180 360.6" stroke="#ff7ab8" stroke-width="1" stroke-opacity=".3"/>
<path d="M213.2 338L239.9 410.5L166.3 405.2Z" fill="rgb(206,93,152)" fill-opacity="0.3"/>
<path d="M294.7 467L311.7 497.6L334.5 499.2Z" fill="rgb(206,93,152)" fill-opacity="0.3"/>
<path d="M291.6 595L333.6 595.6" stroke="rgb(24,120,220)" stroke-width="2.9"/><path d="M291.6 595L333.6 595.6" stroke="#6ab8ff" stroke-width="1" stroke-opacity=".3"/>
<path d="M133.7 432.3L133.9 420.8" stroke="#6a6a6a" stroke-width="0.6"/>
<path d="M132.6 542.3L187.4 598.9L112.1 607.3Z" fill="rgb(82,121,166)" fill-opacity="0.3"/>
<path d="M145.9 470.3L162.9 500.8L92.7 510.1Z" fill="rgb(212,96,156)" fill-opacity="0.3"/>
<circle cx="281.4" cy="539.1" r="5" fill="url(#gO)"/>
<path d="M283.2 394.6L283.4 383.1" stroke="#6a6a6a" stroke-width="0.6"/>
<circle cx="162.9" cy="500.8" r="5" fill="url(#gO)"/>
<path d="M137.4 598.1L138.2 601.6" stroke="#6a6a6a" stroke-width="0.6"/>
<path d="M209 384.8L249.1 365.5" stroke="rgb(236,22,126)" stroke-width="2.9"/><path d="M209 384.8L249.1 365.5" stroke="#ff7ab8" stroke-width="1" stroke-opacity=".3"/>
<circle cx="144" cy="431.2" r="9.9" fill="url(#gEr)"/>
<path d="M287.8 601.9L288.6 605.4" stroke="#6a6a6a" stroke-width="0.6"/>
<path d="M274.1 383.3L283.4 383.1" stroke="#6a6a6a" stroke-width="0.6"/>
<path d="M136.9 591.9L132.8 545.3" stroke="rgb(24,120,220)" stroke-width="2.9"/><path d="M136.9 591.9L132.8 545.3" stroke="#6ab8ff" stroke-width="1" stroke-opacity=".3"/>
<path d="M133.9 420.8L134.1 409.3" stroke="#6a6a6a" stroke-width="0.6"/>
<path d="M264.8 383.5L274.1 383.3" stroke="#6a6a6a" stroke-width="0.6"/>
<circle cx="137.4" cy="598.1" r="7.4" fill="url(#gMn)"/>
<path d="M288 503.1L310.2 497.9" stroke="rgb(230,21,123)" stroke-width="2.9"/><path d="M288 503.1L310.2 497.9" stroke="#ff7ab8" stroke-width="1" stroke-opacity=".3"/>
<path d="M255.5 383.7L264.8 383.5" stroke="#6a6a6a" stroke-width="0.6"/>
<path d="M246.2 383.9L255.5 383.7" stroke="#6a6a6a" stroke-width="0.6"/>
<path d="M281.4 539.1L264.4 508.5L334.5 499.2Z" fill="rgb(118,52,95)" fill-opacity="0.3"/>
<path d="M294.7 467L239.9 410.5L315.1 402Z" fill="rgb(49,84,128)" fill-opacity="0.3"/>
<path d="M283.4 383.1L284.2 386.7" stroke="#6a6a6a" stroke-width="0.6"/>
<path d="M236.9 384.2L246.2 383.9" stroke="#6a6a6a" stroke-width="0.6"/>
<path d="M209 384.8L205.1 428.6" stroke="rgb(236,22,126)" stroke-width="2.9"/><path d="M209 384.8L205.1 428.6" stroke="#ff7ab8" stroke-width="1" stroke-opacity=".3"/>
<path d="M132.6 542.3L115.6 511.8L92.7 510.1Z" fill="rgb(118,52,95)" fill-opacity="0.3"/>
<path d="M214.1 671.4L187.4 598.9L260.9 604.1Z" fill="rgb(118,52,95)" fill-opacity="0.3"/>
<path d="M227.6 384.4L236.9 384.2" stroke="#6a6a6a" stroke-width="0.6"/>
<circle cx="204.8" cy="431.5" r="5" fill="url(#gO)"/>
<path d="M218.3 384.6L227.6 384.4" stroke="#6a6a6a" stroke-width="0.6"/>
<path d="M134.1 409.3L134.4 397.8" stroke="#6a6a6a" stroke-width="0.6"/>
<path d="M138.2 601.6L139 605.1" stroke="#6a6a6a" stroke-width="0.6"/>
<path d="M209 384.8L218.3 384.6" stroke="#6a6a6a" stroke-width="0.6"/>
<circle cx="241.5" cy="506.9" r="5" fill="url(#gO)"/>
<path d="M199.7 385L209 384.8" stroke="#6a6a6a" stroke-width="0.6"/>
<path d="M288 503.1L281.8 536.8" stroke="rgb(236,22,126)" stroke-width="2.9"/><path d="M288 503.1L281.8 536.8" stroke="#ff7ab8" stroke-width="1" stroke-opacity=".3"/>
<path d="M288.6 605.4L289.4 608.9" stroke="#6a6a6a" stroke-width="0.6"/>
<path d="M283.5 595.9L262.2 603.7" stroke="rgb(20,103,190)" stroke-width="2.9"/><path d="M283.5 595.9L262.2 603.7" stroke="#6ab8ff" stroke-width="1" stroke-opacity=".3"/>
<path d="M190.4 385.2L199.7 385" stroke="#6a6a6a" stroke-width="0.6"/>
<path d="M222.4 577.8L187.4 598.9L260.9 604.1Z" fill="rgb(200,90,148)" fill-opacity="0.3"/>
<path d="M145.9 470.3L162.9 500.8L185.7 502.4Z" fill="rgb(206,93,152)" fill-opacity="0.3"/>
<path d="M181.1 385.4L190.4 385.2" stroke="#6a6a6a" stroke-width="0.6"/>
<path d="M142.9 598.2L184.8 598.8" stroke="rgb(24,120,220)" stroke-width="2.9"/><path d="M142.9 598.2L184.8 598.8" stroke="#6ab8ff" stroke-width="1" stroke-opacity=".3"/>
<path d="M171.8 385.6L181.1 385.4" stroke="#6a6a6a" stroke-width="0.6"/>
<circle cx="132.6" cy="542.3" r="5" fill="url(#gO)"/>
<path d="M209.6 378.1L212.9 340.9" stroke="rgb(236,22,126)" stroke-width="2.9"/><path d="M209.6 378.1L212.9 340.9" stroke="#ff7ab8" stroke-width="1" stroke-opacity=".3"/>
<path d="M294.7 467L264.4 508.5L241.5 506.9Z" fill="rgb(212,96,156)" fill-opacity="0.3"/>
<path d="M285.1 355.5L239.9 410.5L315.1 402Z" fill="rgb(78,117,162)" fill-opacity="0.3"/>
<path d="M162.5 385.8L171.8 385.6" stroke="#6a6a6a" stroke-width="0.6"/>
<path d="M134.4 397.8L134.6 386.4" stroke="#6a6a6a" stroke-width="0.6"/>
<path d="M284.2 386.7L285 390.2" stroke="#6a6a6a" stroke-width="0.6"/>
<path d="M153.2 386L162.5 385.8" stroke="#6a6a6a" stroke-width="0.6"/>
<path d="M288 503.1L244.3 506.7" stroke="rgb(236,22,126)" stroke-width="2.9"/><path d="M288 503.1L244.3 506.7" stroke="#ff7ab8" stroke-width="1" stroke-opacity=".3"/>
<path d="M143.9 386.2L153.2 386" stroke="#6a6a6a" stroke-width="0.6"/>
<path d="M134.6 386.4L143.9 386.2" stroke="#6a6a6a" stroke-width="0.6"/>
<circle cx="336.2" cy="595.7" r="5" fill="url(#gO)"/>
<circle cx="209" cy="384.8" r="7.9" fill="url(#gCo)"/>
<path d="M139 605.1L139.8 608.6" stroke="#6a6a6a" stroke-width="0.6"/>
<circle cx="315.1" cy="402" r="5" fill="url(#gO)"/>
<path d="M139.2 506.3L161.5 501.2" stroke="rgb(230,21,123)" stroke-width="2.9"/><path d="M139.2 506.3L161.5 501.2" stroke="#ff7ab8" stroke-width="1" stroke-opacity=".3"/>
<path d="M289.4 608.9L290.2 612.5" stroke="#6a6a6a" stroke-width="0.6"/>
<path d="M214.1 671.4L187.4 598.9L175.6 645.1Z" fill="rgb(118,52,95)" fill-opacity="0.3"/>
<path d="M203.3 387.5L168.9 404" stroke="rgb(236,22,126)" stroke-width="2.9"/><path d="M203.3 387.5L168.9 404" stroke="#ff7ab8" stroke-width="1" stroke-opacity=".3"/>
<path d="M132.6 542.3L115.6 511.8L185.7 502.4Z" fill="rgb(118,52,95)" fill-opacity="0.3"/>
<path d="M145.9 470.3L91.1 413.7L166.3 405.2Z" fill="rgb(49,84,128)" fill-opacity="0.3"/>
<circle cx="213.2" cy="338" r="5" fill="url(#gO)"/>
<path d="M134.6 386.4L135.4 389.9" stroke="#6a6a6a" stroke-width="0.6"/>
<circle cx="223.5" cy="551.5" r="9.9" fill="url(#gEr)"/>
<path d="M285 390.2L285.8 393.7" stroke="#6a6a6a" stroke-width="0.6"/>
<path d="M222.4 577.8L187.4 598.9L175.6 645.1Z" fill="rgb(212,96,156)" fill-opacity="0.3"/>
<circle cx="92.7" cy="510.1" r="5" fill="url(#gO)"/>
<path d="M139.2 506.3L133 540" stroke="rgb(236,22,126)" stroke-width="2.9"/><path d="M139.2 506.3L133 540" stroke="#ff7ab8" stroke-width="1" stroke-opacity=".3"/>
<path d="M213.3 388.3L238 408.9" stroke="rgb(236,22,126)" stroke-width="2.9"/><path d="M213.3 388.3L238 408.9" stroke="#ff7ab8" stroke-width="1" stroke-opacity=".3"/>
<path d="M294.7 467L339.9 412L315.1 402Z" fill="rgb(49,84,128)" fill-opacity="0.3"/>
<path d="M139.8 608.6L140.6 612.2" stroke="#6a6a6a" stroke-width="0.6"/>
<path d="M134.7 599.1L113.4 606.9" stroke="rgb(20,103,190)" stroke-width="2.9"/><path d="M134.7 599.1L113.4 606.9" stroke="#6ab8ff" stroke-width="1" stroke-opacity=".3"/>
<path d="M214.1 671.4L249.2 650.3L260.9 604.1Z" fill="rgb(118,52,95)" fill-opacity="0.3"/>
<path d="M294.7 467L264.4 508.5L334.5 499.2Z" fill="rgb(179,80,134)" fill-opacity="0.3"/>
<path d="M290.2 612.5L291 616" stroke="#6a6a6a" stroke-width="0.6"/>
<path d="M145.9 470.3L115.6 511.8L92.7 510.1Z" fill="rgb(212,96,156)" fill-opacity="0.3"/>
<path d="M136.3 358.7L91.1 413.7L166.3 405.2Z" fill="rgb(78,117,162)" fill-opacity="0.3"/>
<path d="M135.4 389.9L136.2 393.4" stroke="#6a6a6a" stroke-width="0.6"/>
<path d="M139.2 506.3L95.5 509.9" stroke="rgb(236,22,126)" stroke-width="2.9"/><path d="M139.2 506.3L95.5 509.9" stroke="#ff7ab8" stroke-width="1" stroke-opacity=".3"/>
<path d="M222.4 577.8L249.2 650.3L260.9 604.1Z" fill="rgb(195,88,145)" fill-opacity="0.3"/>
<path d="M285.8 393.7L286.6 397.2" stroke="#6a6a6a" stroke-width="0.6"/>
<circle cx="187.4" cy="598.9" r="5" fill="url(#gO)"/>
<circle cx="302" cy="667.9" r="9.9" fill="url(#gEr)"/>
<circle cx="288" cy="503.1" r="7.9" fill="url(#gCo)"/>
<circle cx="166.3" cy="405.2" r="5" fill="url(#gO)"/>
<path d="M222.4 577.8L264.4 508.5L185.7 502.4Z" fill="rgb(49,84,128)" fill-opacity="0.3"/>
<path d="M285.1 355.5L339.9 412L315.1 402Z" fill="rgb(75,113,158)" fill-opacity="0.3"/>
<path d="M140.6 612.2L141.4 615.7" stroke="#6a6a6a" stroke-width="0.6"/>
<path d="M291 616L291.9 619.5" stroke="#6a6a6a" stroke-width="0.6"/>
<path d="M294.2 502.6L331.8 499.5" stroke="rgb(236,22,126)" stroke-width="2.9"/><path d="M294.2 502.6L331.8 499.5" stroke="#ff7ab8" stroke-width="1" stroke-opacity=".3"/>
<circle cx="274" cy="338.3" r="9.9" fill="url(#gEr)"/>
<path d="M136.2 393.4L137 396.9" stroke="#6a6a6a" stroke-width="0.6"/>
<path d="M214.1 671.4L249.2 650.3L175.6 645.1Z" fill="rgb(118,52,95)" fill-opacity="0.3"/>
<path d="M286.6 397.2L287.5 400.7" stroke="#6a6a6a" stroke-width="0.6"/>
<path d="M145.9 470.3L191.1 415.3L166.3 405.2Z" fill="rgb(49,84,128)" fill-opacity="0.3"/>
<path d="M145.9 470.3L115.6 511.8L185.7 502.4Z" fill="rgb(179,80,134)" fill-opacity="0.3"/>
<circle cx="260.9" cy="604.1" r="5" fill="url(#gO)"/>
<path d="M218.3 624.6L189.3 600.5" stroke="rgb(236,22,126)" stroke-width="2.9"/><path d="M218.3 624.6L189.3 600.5" stroke="#ff7ab8" stroke-width="1" stroke-opacity=".3"/>
<path d="M141.4 615.7L142.3 619.2" stroke="#6a6a6a" stroke-width="0.6"/>
<path d="M294.7 467L239.9 410.5L264.7 420.5Z" fill="rgb(49,84,128)" fill-opacity="0.3"/>
<path d="M289 498L294.3 469.3" stroke="rgb(236,22,126)" stroke-width="2.9"/><path d="M289 498L294.3 469.3" stroke="#ff7ab8" stroke-width="1" stroke-opacity=".3"/>
<path d="M289.9 411.3L313.8 402.5" stroke="rgb(20,103,190)" stroke-width="2.9"/><path d="M289.9 411.3L313.8 402.5" stroke="#6ab8ff" stroke-width="1" stroke-opacity=".3"/>
<path d="M222.4 577.8L249.2 650.3L175.6 645.1Z" fill="rgb(206,93,152)" fill-opacity="0.3"/>
<circle cx="239.9" cy="410.5" r="5" fill="url(#gO)"/>
<path d="M291.9 619.5L292.7 623" stroke="#6a6a6a" stroke-width="0.6"/>
<path d="M137 396.9L137.9 400.4" stroke="#6a6a6a" stroke-width="0.6"/>
<path d="M218.3 624.6L258.4 605.3" stroke="rgb(236,22,126)" stroke-width="2.9"/><path d="M218.3 624.6L258.4 605.3" stroke="#ff7ab8" stroke-width="1" stroke-opacity=".3"/>
<circle cx="153.2" cy="671.1" r="9.9" fill="url(#gEr)"/>
<circle cx="139.2" cy="506.3" r="7.9" fill="url(#gCo)"/>
<path d="M287.5 400.7L288.3 404.2" stroke="#6a6a6a" stroke-width="0.6"/>
<path d="M136.3 358.7L191.1 415.3L166.3 405.2Z" fill="rgb(75,113,158)" fill-opacity="0.3"/>
<path d="M283.4 623.2L292.7 623" stroke="#6a6a6a" stroke-width="0.6"/>
<path d="M284.8 503.8L265.8 508.2" stroke="rgb(230,21,123)" stroke-width="2.9"/><path d="M284.8 503.8L265.8 508.2" stroke="#ff7ab8" stroke-width="1" stroke-opacity=".3"/>
<path d="M274.1 623.4L283.4 623.2" stroke="#6a6a6a" stroke-width="0.6"/>
<path d="M285.1 355.5L239.9 410.5L264.7 420.5Z" fill="rgb(82,121,166)" fill-opacity="0.3"/>
<circle cx="334.5" cy="499.2" r="5" fill="url(#gO)"/>
<path d="M264.8 623.6L274.1 623.4" stroke="#6a6a6a" stroke-width="0.6"/>
<path d="M142.3 619.2L143.1 622.7" stroke="#6a6a6a" stroke-width="0.6"/>
<path d="M292.7 623L292.9 611.5" stroke="#6a6a6a" stroke-width="0.6"/>
<path d="M145.4 505.8L183 502.7" stroke="rgb(236,22,126)" stroke-width="2.9"/><path d="M145.4 505.8L183 502.7" stroke="#ff7ab8" stroke-width="1" stroke-opacity=".3"/>
<path d="M255.5 623.8L264.8 623.6" stroke="#6a6a6a" stroke-width="0.6"/>
<circle cx="125.2" cy="341.5" r="9.9" fill="url(#gEr)"/>
<path d="M246.2 624L255.5 623.8" stroke="#6a6a6a" stroke-width="0.6"/>
<path d="M218.3 624.6L214.4 668.4" stroke="rgb(236,22,126)" stroke-width="2.9"/><path d="M218.3 624.6L214.4 668.4" stroke="#ff7ab8" stroke-width="1" stroke-opacity=".3"/>
<path d="M222.4 577.8L175.9 557L185.7 502.4Z" fill="rgb(49,84,128)" fill-opacity="0.3"/>
<path d="M236.9 624.2L246.2 624" stroke="#6a6a6a" stroke-width="0.6"/>
<circle cx="214.1" cy="671.4" r="5" fill="url(#gO)"/>
<path d="M227.6 624.4L236.9 624.2" stroke="#6a6a6a" stroke-width="0.6"/>
<path d="M137.9 400.4L138.7 403.9" stroke="#6a6a6a" stroke-width="0.6"/>
<path d="M289.9 411.3L242.5 410.5" stroke="rgb(24,120,220)" stroke-width="2.9"/><path d="M289.9 411.3L242.5 410.5" stroke="#6ab8ff" stroke-width="1" stroke-opacity=".3"/>
<path d="M218.3 624.6L227.6 624.4" stroke="#6a6a6a" stroke-width="0.6"/>
<path d="M209 624.8L218.3 624.6" stroke="#6a6a6a" stroke-width="0.6"/>
<path d="M288.3 404.2L289.1 407.7" stroke="#6a6a6a" stroke-width="0.6"/>
<path d="M292.9 611.5L293.1 600" stroke="#6a6a6a" stroke-width="0.6"/>
<circle cx="112.1" cy="607.3" r="5" fill="url(#gO)"/>
<path d="M199.7 625L209 624.8" stroke="#6a6a6a" stroke-width="0.6"/>
<path d="M145.9 470.3L91.1 413.7L115.9 423.7Z" fill="rgb(49,84,128)" fill-opacity="0.3"/>
<path d="M140.2 501.2L145.5 472.5" stroke="rgb(236,22,126)" stroke-width="2.9"/><path d="M140.2 501.2L145.5 472.5" stroke="#ff7ab8" stroke-width="1" stroke-opacity=".3"/>
<path d="M141.1 414.5L165 405.7" stroke="rgb(20,103,190)" stroke-width="2.9"/><path d="M141.1 414.5L165 405.7" stroke="#6ab8ff" stroke-width="1" stroke-opacity=".3"/>
<path d="M190.4 625.2L199.7 625" stroke="#6a6a6a" stroke-width="0.6"/>
<path d="M217.8 487.8L264.4 508.5L185.7 502.4Z" fill="rgb(82,121,166)" fill-opacity="0.3"/>
<circle cx="91.1" cy="413.7" r="5" fill="url(#gO)"/>
<path d="M181.1 625.4L190.4 625.2" stroke="#6a6a6a" stroke-width="0.6"/>
<path d="M143.1 622.7L143.9 626.2" stroke="#6a6a6a" stroke-width="0.6"/>
<path d="M222.4 577.8L264.4 508.5L254.5 563.1Z" fill="rgb(49,84,128)" fill-opacity="0.3"/>
<path d="M218.9 618L222.2 580.8" stroke="rgb(236,22,126)" stroke-width="2.9"/><path d="M218.9 618L222.2 580.8" stroke="#ff7ab8" stroke-width="1" stroke-opacity=".3"/>
<path d="M171.8 625.6L181.1 625.4" stroke="#6a6a6a" stroke-width="0.6"/>
<path d="M162.5 625.8L171.8 625.6" stroke="#6a6a6a" stroke-width="0.6"/>
<path d="M153.2 626L162.5 625.8" stroke="#6a6a6a" stroke-width="0.6"/>
<circle cx="294.7" cy="467" r="5" fill="url(#gO)"/>
<path d="M293.1 600L293.4 588.6" stroke="#6a6a6a" stroke-width="0.6"/>
<path d="M294.7 467L339.9 412L264.7 420.5Z" fill="rgb(49,84,128)" fill-opacity="0.3"/>
<path d="M143.9 626.2L153.2 626" stroke="#6a6a6a" stroke-width="0.6"/>
<circle cx="203.8" cy="457.9" r="9.9" fill="url(#gEr)"/>
<path d="M138.7 403.9L139.5 407.4" stroke="#6a6a6a" stroke-width="0.6"/>
<path d="M289.9 411.3L294.4 464.1" stroke="rgb(24,120,220)" stroke-width="2.9"/><path d="M289.9 411.3L294.4 464.1" stroke="#6ab8ff" stroke-width="1" stroke-opacity=".3"/>
<circle cx="218.3" cy="624.6" r="7.9" fill="url(#gCo)"/>
<path d="M136 507L117 511.4" stroke="rgb(230,21,123)" stroke-width="2.9"/><path d="M136 507L117 511.4" stroke="#ff7ab8" stroke-width="1" stroke-opacity=".3"/>
<path d="M289.1 407.7L289.9 411.3" stroke="#6a6a6a" stroke-width="0.6"/>
<path d="M136.3 358.7L91.1 413.7L115.9 423.7Z" fill="rgb(82,121,166)" fill-opacity="0.3"/>
<circle cx="185.7" cy="502.4" r="5" fill="url(#gO)"/>
<path d="M212.6 627.3L178.1 643.9" stroke="rgb(236,22,126)" stroke-width="2.9"/><path d="M212.6 627.3L178.1 643.9" stroke="#ff7ab8" stroke-width="1" stroke-opacity=".3"/>
<path d="M143.9 626.2L144.1 614.7" stroke="#6a6a6a" stroke-width="0.6"/>
<circle cx="222.4" cy="577.8" r="5" fill="url(#gO)"/>
<path d="M293.4 588.6L293.6 577.1" stroke="#6a6a6a" stroke-width="0.6"/>
<path d="M141.1 414.5L93.7 413.7" stroke="rgb(24,120,220)" stroke-width="2.9"/><path d="M141.1 414.5L93.7 413.7" stroke="#6ab8ff" stroke-width="1" stroke-opacity=".3"/>
<path d="M285.1 355.5L339.9 412L264.7 420.5Z" fill="rgb(82,121,166)" fill-opacity="0.3"/>
<path d="M139.5 407.4L140.3 411" stroke="#6a6a6a" stroke-width="0.6"/>
<path d="M144.1 614.7L144.3 603.3" stroke="#6a6a6a" stroke-width="0.6"/>
<path d="M222.5 628.2L247.2 648.7" stroke="rgb(236,22,126)" stroke-width="2.9"/><path d="M222.5 628.2L247.2 648.7" stroke="#ff7ab8" stroke-width="1" stroke-opacity=".3"/>
<path d="M293.6 577.1L293.8 565.6" stroke="#6a6a6a" stroke-width="0.6"/>
<path d="M289.9 411.3L290.7 414.8" stroke="#6a6a6a" stroke-width="0.6"/>
<circle cx="264.4" cy="508.5" r="5" fill="url(#gO)"/>
<path d="M289.4 405.1L285.3 358.4" stroke="rgb(24,120,220)" stroke-width="2.9"/><path d="M289.4 405.1L285.3 358.4" stroke="#6ab8ff" stroke-width="1" stroke-opacity=".3"/>
<circle cx="289.9" cy="411.3" r="7.4" fill="url(#gMn)"/>
<circle cx="145.9" cy="470.3" r="5" fill="url(#gO)"/>
<path d="M144.3 603.3L144.6 591.8" stroke="#6a6a6a" stroke-width="0.6"/>
<path d="M145.9 470.3L191.1 415.3L115.9 423.7Z" fill="rgb(49,84,128)" fill-opacity="0.3"/>
<path d="M217.8 487.8L175.9 557L185.7 502.4Z" fill="rgb(82,121,166)" fill-opacity="0.3"/>
<path d="M141.1 414.5L145.6 467.3" stroke="rgb(24,120,220)" stroke-width="2.9"/><path d="M141.1 414.5L145.6 467.3" stroke="#6ab8ff" stroke-width="1" stroke-opacity=".3"/>
<path d="M293.8 565.6L294.1 554.1" stroke="#6a6a6a" stroke-width="0.6"/>
<path d="M222.4 577.8L175.9 557L254.5 563.1Z" fill="rgb(49,84,128)" fill-opacity="0.3"/>
<circle cx="175.6" cy="645.1" r="5" fill="url(#gO)"/>
<path d="M140.3 411L141.1 414.5" stroke="#6a6a6a" stroke-width="0.6"/>
<path d="M220.1 532.8L187.5 504" stroke="rgb(24,120,220)" stroke-width="2.9"/><path d="M220.1 532.8L187.5 504" stroke="#6ab8ff" stroke-width="1" stroke-opacity=".3"/>
<path d="M290.7 414.8L291.5 418.3" stroke="#6a6a6a" stroke-width="0.6"/>
<path d="M220.1 532.8L222.3 575.4" stroke="rgb(24,120,220)" stroke-width="2.9"/><path d="M220.1 532.8L222.3 575.4" stroke="#6ab8ff" stroke-width="1" stroke-opacity=".3"/>
<path d="M144.6 591.8L144.8 580.3" stroke="#6a6a6a" stroke-width="0.6"/>
<circle cx="283.3" cy="578.1" r="9.9" fill="url(#gEr)"/>
<path d="M294.1 554.1L294.3 542.7" stroke="#6a6a6a" stroke-width="0.6"/>
<path d="M217.8 487.8L264.4 508.5L254.5 563.1Z" fill="rgb(72,110,155)" fill-opacity="0.3"/>
<path d="M295.4 411.3L337.3 412" stroke="rgb(24,120,220)" stroke-width="2.9"/><path d="M295.4 411.3L337.3 412" stroke="#6ab8ff" stroke-width="1" stroke-opacity=".3"/>
<path d="M136.3 358.7L191.1 415.3L115.9 423.7Z" fill="rgb(82,121,166)" fill-opacity="0.3"/>
<circle cx="285.1" cy="355.5" r="5" fill="url(#gO)"/>
<path d="M220.1 532.8L262 509.8" stroke="rgb(24,120,220)" stroke-width="2.9"/><path d="M220.1 532.8L262 509.8" stroke="#6ab8ff" stroke-width="1" stroke-opacity=".3"/>
<path d="M144.8 580.3L145 568.8" stroke="#6a6a6a" stroke-width="0.6"/>
<path d="M141.1 414.5L141.9 418" stroke="#6a6a6a" stroke-width="0.6"/>
<path d="M294.3 542.7L294.5 531.2" stroke="#6a6a6a" stroke-width="0.6"/>
<path d="M291.5 418.3L292.3 421.8" stroke="#6a6a6a" stroke-width="0.6"/>
<circle cx="115.6" cy="511.8" r="5" fill="url(#gO)"/>
<circle cx="249.2" cy="650.3" r="5" fill="url(#gO)"/>
<path d="M140.6 408.3L136.5 361.6" stroke="rgb(24,120,220)" stroke-width="2.9"/><path d="M140.6 408.3L136.5 361.6" stroke="#6ab8ff" stroke-width="1" stroke-opacity=".3"/>
<circle cx="141.1" cy="414.5" r="7.4" fill="url(#gMn)"/>
<path d="M145 568.8L145.3 557.4" stroke="#6a6a6a" stroke-width="0.6"/>
<path d="M217.8 487.8L191.1 415.3L264.7 420.5Z" fill="rgb(118,52,95)" fill-opacity="0.3"/>
<path d="M294.5 531.2L294.8 519.7" stroke="#6a6a6a" stroke-width="0.6"/>
<path d="M141.9 418L142.7 421.5" stroke="#6a6a6a" stroke-width="0.6"/>
<circle cx="134.5" cy="581.3" r="9.9" fill="url(#gEr)"/>
<path d="M292.3 421.8L293.1 425.3" stroke="#6a6a6a" stroke-width="0.6"/>
<path d="M287.2 412.3L265.9 420" stroke="rgb(20,103,190)" stroke-width="2.9"/><path d="M287.2 412.3L265.9 420" stroke="#6ab8ff" stroke-width="1" stroke-opacity=".3"/>
<path d="M226.2 394.2L191.1 415.3L264.7 420.5Z" fill="rgb(200,90,148)" fill-opacity="0.3"/>
<path d="M145.3 557.4L145.5 545.9" stroke="#6a6a6a" stroke-width="0.6"/>
<path d="M146.6 414.6L188.5 415.2" stroke="rgb(24,120,220)" stroke-width="2.9"/><path d="M146.6 414.6L188.5 415.2" stroke="#6ab8ff" stroke-width="1" stroke-opacity=".3"/>
<path d="M294.8 519.7L295 508.2" stroke="#6a6a6a" stroke-width="0.6"/>
<circle cx="136.3" cy="358.7" r="5" fill="url(#gO)"/>
<path d="M217.8 487.8L175.9 557L254.5 563.1Z" fill="rgb(70,108,153)" fill-opacity="0.3"/>
<circle cx="339.9" cy="412" r="5" fill="url(#gO)"/>
<path d="M145.5 545.9L145.7 534.4" stroke="#6a6a6a" stroke-width="0.6"/>
<path d="M142.7 421.5L143.5 425" stroke="#6a6a6a" stroke-width="0.6"/>
<path d="M295 508.2L295.2 496.8" stroke="#6a6a6a" stroke-width="0.6"/>
<path d="M293.1 425.3L293.9 428.8" stroke="#6a6a6a" stroke-width="0.6"/>
<path d="M217.8 487.8L191.1 415.3L179.3 461.5Z" fill="rgb(118,52,95)" fill-opacity="0.3"/>
<circle cx="220.1" cy="532.8" r="7.4" fill="url(#gMn)"/>
<circle cx="227.2" cy="367.8" r="9.9" fill="url(#gEr)"/>
<path d="M145.7 534.4L146 522.9" stroke="#6a6a6a" stroke-width="0.6"/>
<path d="M226.2 394.2L191.1 415.3L179.3 461.5Z" fill="rgb(212,96,156)" fill-opacity="0.3"/>
<path d="M295.2 496.8L295.5 485.3" stroke="#6a6a6a" stroke-width="0.6"/>
<path d="M143.5 425L144.3 428.5" stroke="#6a6a6a" stroke-width="0.6"/>
<path d="M138.4 415.5L117.2 423.2" stroke="rgb(20,103,190)" stroke-width="2.9"/><path d="M138.4 415.5L117.2 423.2" stroke="#6ab8ff" stroke-width="1" stroke-opacity=".3"/>
<path d="M217.8 487.8L252.9 466.7L264.7 420.5Z" fill="rgb(118,52,95)" fill-opacity="0.3"/>
<path d="M293.9 428.8L294.8 432.3" stroke="#6a6a6a" stroke-width="0.6"/>
<path d="M215.3 535.4L178.2 555.8" stroke="rgb(24,120,220)" stroke-width="2.9"/><path d="M215.3 535.4L178.2 555.8" stroke="#6ab8ff" stroke-width="1" stroke-opacity=".3"/>
<path d="M146 522.9L146.2 511.4" stroke="#6a6a6a" stroke-width="0.6"/>
<path d="M295.5 485.3L295.7 473.8" stroke="#6a6a6a" stroke-width="0.6"/>
<path d="M226.2 394.2L252.9 466.7L264.7 420.5Z" fill="rgb(195,88,145)" fill-opacity="0.3"/>
<circle cx="191.1" cy="415.3" r="5" fill="url(#gO)"/>
<path d="M219.9 527.8L217.9 490.1" stroke="rgb(24,120,220)" stroke-width="2.9"/><path d="M219.9 527.8L217.9 490.1" stroke="#6ab8ff" stroke-width="1" stroke-opacity=".3"/>
<path d="M223.8 536.1L252.7 561.6" stroke="rgb(24,120,220)" stroke-width="2.9"/><path d="M223.8 536.1L252.7 561.6" stroke="#6ab8ff" stroke-width="1" stroke-opacity=".3"/>
<circle cx="305.8" cy="484.2" r="9.9" fill="url(#gEr)"/>
<path d="M146.2 511.4L146.4 500" stroke="#6a6a6a" stroke-width="0.6"/>
<path d="M144.3 428.5L145.2 432" stroke="#6a6a6a" stroke-width="0.6"/>
<path d="M295.7 473.8L295.9 462.3" stroke="#6a6a6a" stroke-width="0.6"/>
<path d="M294.8 432.3L295.6 435.9" stroke="#6a6a6a" stroke-width="0.6"/>
<path d="M146.4 500L146.7 488.5" stroke="#6a6a6a" stroke-width="0.6"/>
<path d="M217.8 487.8L252.9 466.7L179.3 461.5Z" fill="rgb(118,52,95)" fill-opacity="0.3"/>
<path d="M295.9 462.3L296.1 450.8" stroke="#6a6a6a" stroke-width="0.6"/>
<circle cx="264.7" cy="420.5" r="5" fill="url(#gO)"/>
<path d="M222 441L193 416.8" stroke="rgb(236,22,126)" stroke-width="2.9"/><path d="M222 441L193 416.8" stroke="#ff7ab8" stroke-width="1" stroke-opacity=".3"/>
<path d="M145.2 432L146 435.6" stroke="#6a6a6a" stroke-width="0.6"/>
<path d="M226.2 394.2L252.9 466.7L179.3 461.5Z" fill="rgb(206,93,152)" fill-opacity="0.3"/>
<path d="M146.7 488.5L146.9 477" stroke="#6a6a6a" stroke-width="0.6"/>
<path d="M295.6 435.9L296.4 439.4" stroke="#6a6a6a" stroke-width="0.6"/>
<path d="M296.1 450.8L296.4 439.4" stroke="#6a6a6a" stroke-width="0.6"/>
<circle cx="175.9" cy="557" r="5" fill="url(#gO)"/>
<path d="M222 441L262.1 421.7" stroke="rgb(236,22,126)" stroke-width="2.9"/><path d="M222 441L262.1 421.7" stroke="#ff7ab8" stroke-width="1" stroke-opacity=".3"/>
<circle cx="157" cy="487.5" r="9.9" fill="url(#gEr)"/>
<path d="M287.1 439.6L296.4 439.4" stroke="#6a6a6a" stroke-width="0.6"/>
<path d="M146.9 477L147.1 465.5" stroke="#6a6a6a" stroke-width="0.6"/>
<path d="M277.8 439.8L287.1 439.6" stroke="#6a6a6a" stroke-width="0.6"/>
<path d="M268.5 440L277.8 439.8" stroke="#6a6a6a" stroke-width="0.6"/>
<path d="M146 435.6L146.8 439.1" stroke="#6a6a6a" stroke-width="0.6"/>
<path d="M259.2 440.2L268.5 440" stroke="#6a6a6a" stroke-width="0.6"/>
<path d="M249.9 440.4L259.2 440.2" stroke="#6a6a6a" stroke-width="0.6"/>
<path d="M222 441L218.1 484.8" stroke="rgb(236,22,126)" stroke-width="2.9"/><path d="M222 441L218.1 484.8" stroke="#ff7ab8" stroke-width="1" stroke-opacity=".3"/>
<path d="M240.6 440.6L249.9 440.4" stroke="#6a6a6a" stroke-width="0.6"/>
<circle cx="217.8" cy="487.8" r="5" fill="url(#gO)"/>
<path d="M231.3 440.8L240.6 440.6" stroke="#6a6a6a" stroke-width="0.6"/>
<path d="M147.1 465.5L147.4 454.1" stroke="#6a6a6a" stroke-width="0.6"/>
<path d="M222 441L231.3 440.8" stroke="#6a6a6a" stroke-width="0.6"/>
<circle cx="254.5" cy="563.1" r="5" fill="url(#gO)"/>
<path d="M212.7 441.2L222 441" stroke="#6a6a6a" stroke-width="0.6"/>
<circle cx="115.9" cy="423.7" r="5" fill="url(#gO)"/>
<path d="M203.4 441.4L212.7 441.2" stroke="#6a6a6a" stroke-width="0.6"/>
<path d="M194.1 441.6L203.4 441.4" stroke="#6a6a6a" stroke-width="0.6"/>
<path d="M184.8 441.8L194.1 441.6" stroke="#6a6a6a" stroke-width="0.6"/>
<path d="M146.8 439.1L147.6 442.6" stroke="#6a6a6a" stroke-width="0.6"/>
<path d="M222.6 434.3L225.9 397.2" stroke="rgb(236,22,126)" stroke-width="2.9"/><path d="M222.6 434.3L225.9 397.2" stroke="#ff7ab8" stroke-width="1" stroke-opacity=".3"/>
<path d="M175.5 442L184.8 441.8" stroke="#6a6a6a" stroke-width="0.6"/>
<path d="M147.4 454.1L147.6 442.6" stroke="#6a6a6a" stroke-width="0.6"/>
<path d="M166.2 442.2L175.5 442" stroke="#6a6a6a" stroke-width="0.6"/>
<path d="M156.9 442.4L166.2 442.2" stroke="#6a6a6a" stroke-width="0.6"/>
<path d="M147.6 442.6L156.9 442.4" stroke="#6a6a6a" stroke-width="0.6"/>
<circle cx="222" cy="441" r="7.9" fill="url(#gCo)"/>
<path d="M216.3 443.7L181.9 460.2" stroke="rgb(236,22,126)" stroke-width="2.9"/><path d="M216.3 443.7L181.9 460.2" stroke="#ff7ab8" stroke-width="1" stroke-opacity=".3"/>
<circle cx="226.2" cy="394.2" r="5" fill="url(#gO)"/>
<path d="M226.2 444.5L251 465.1" stroke="rgb(236,22,126)" stroke-width="2.9"/><path d="M226.2 444.5L251 465.1" stroke="#ff7ab8" stroke-width="1" stroke-opacity=".3"/>
<circle cx="179.3" cy="461.5" r="5" fill="url(#gO)"/>
<circle cx="287" cy="394.5" r="9.9" fill="url(#gEr)"/>
<circle cx="252.9" cy="466.7" r="5" fill="url(#gO)"/>
<circle cx="138.2" cy="397.7" r="9.9" fill="url(#gEr)"/></g>
<g id="pc" fill="none" stroke="none"><path d="M562 578.6L515.9 632.8L496.9 552Z" fill="rgb(40,72,123)" fill-opacity="0.27"/>
<path d="M561.7 422.3L515.5 476.5L496.6 395.7Z" fill="rgb(40,72,123)" fill-opacity="0.27"/>
<path d="M489.2 510.2L515.5 476.5L496.9 552Z" fill="rgb(92,38,82)" fill-opacity="0.27"/>
<path d="M634.6 509.9L660.9 476.3L642.2 551.8Z" fill="rgb(92,38,82)" fill-opacity="0.27"/>
<circle cx="562" cy="578.6" r="5.2" fill="url(#gO)"/>
<circle cx="561.7" cy="422.3" r="5.2" fill="url(#gO)"/>
<path d="M562 578.6L580.4 534.2L496.9 552Z" fill="rgb(52,85,139)" fill-opacity="0.27"/>
<path d="M561.7 422.3L580.1 377.9L496.6 395.7Z" fill="rgb(52,85,139)" fill-opacity="0.27"/>
<path d="M562 578.6L515.9 632.8L599.4 615Z" fill="rgb(40,72,122)" fill-opacity="0.27"/>
<path d="M561.7 422.3L515.5 476.5L599.1 458.7Z" fill="rgb(40,72,122)" fill-opacity="0.27"/>
<path d="M489.2 510.2L435 534.5L496.9 552Z" fill="rgb(92,38,82)" fill-opacity="0.27"/>
<path d="M634.6 509.9L580.4 534.2L642.2 551.8Z" fill="rgb(92,38,82)" fill-opacity="0.27"/>
<path d="M489.2 510.2L515.5 476.5L453.7 459Z" fill="rgb(105,33,87)" fill-opacity="0.27"/>
<path d="M634.6 509.9L660.9 476.3L599.1 458.7Z" fill="rgb(105,33,87)" fill-opacity="0.27"/>
<circle cx="472.9" cy="572.5" r="10.3" fill="url(#gEr)"/>
<circle cx="472.6" cy="416.2" r="10.3" fill="url(#gEr)"/>
<circle cx="618.3" cy="572.2" r="10.3" fill="url(#gEr)"/>
<circle cx="618" cy="415.9" r="10.3" fill="url(#gEr)"/>
<circle cx="545.5" cy="516.3" r="10.3" fill="url(#gEr)"/>
<circle cx="489.2" cy="510.2" r="5.2" fill="url(#gO)"/>
<circle cx="634.6" cy="509.9" r="5.2" fill="url(#gO)"/>
<path d="M562 578.6L580.4 534.2L599.4 615Z" fill="rgb(40,72,122)" fill-opacity="0.27"/>
<path d="M561.7 422.3L580.1 377.9L599.1 458.7Z" fill="rgb(40,72,122)" fill-opacity="0.27"/>
<path d="M489.2 510.2L435 534.5L453.7 459Z" fill="rgb(108,32,88)" fill-opacity="0.27"/>
<path d="M634.6 509.9L580.4 534.2L599.1 458.7Z" fill="rgb(108,32,88)" fill-opacity="0.27"/>
<path d="M548.1 583.5L561.3 578.8" stroke="rgb(7,37,69)" stroke-width="2.9"/>
<path d="M547.8 427.2L561 422.5" stroke="rgb(7,37,69)" stroke-width="2.9"/>
<path d="M461.4 500.8L515.5 476.5L496.9 552Z" fill="rgb(98,35,84)" fill-opacity="0.27"/>
<path d="M606.7 500.6L660.9 476.3L642.2 551.8Z" fill="rgb(98,35,84)" fill-opacity="0.27"/>
<path d="M475.3 505.5L488.4 509.9" stroke="rgb(98,9,52)" stroke-width="2.9"/>
<path d="M620.6 505.3L633.7 509.7" stroke="rgb(98,9,52)" stroke-width="2.9"/>
<path d="M534.2 588.5L515.9 632.8L496.9 552Z" fill="rgb(61,95,152)" fill-opacity="0.27"/>
<path d="M533.9 432.2L515.5 476.5L496.6 395.7Z" fill="rgb(61,95,152)" fill-opacity="0.27"/>
<path d="M461.4 500.8L435 534.5L496.9 552Z" fill="rgb(101,34,85)" fill-opacity="0.27"/>
<path d="M606.7 500.6L580.4 534.2L642.2 551.8Z" fill="rgb(101,34,85)" fill-opacity="0.27"/>
<path d="M461.4 500.8L515.5 476.5L453.7 459Z" fill="rgb(124,26,95)" fill-opacity="0.27"/>
<path d="M606.7 500.6L660.9 476.3L599.1 458.7Z" fill="rgb(124,26,95)" fill-opacity="0.27"/>
<path d="M534.2 588.5L580.4 534.2L496.9 552Z" fill="rgb(71,107,167)" fill-opacity="0.27"/>
<path d="M533.9 432.2L580.1 377.9L496.6 395.7Z" fill="rgb(71,107,167)" fill-opacity="0.27"/>
<path d="M534.2 588.5L515.9 632.8L599.4 615Z" fill="rgb(42,75,125)" fill-opacity="0.27"/>
<path d="M533.9 432.2L515.5 476.5L599.1 458.7Z" fill="rgb(42,75,125)" fill-opacity="0.27"/>
<circle cx="496.9" cy="552" r="5.2" fill="url(#gO)"/>
<circle cx="496.6" cy="395.7" r="5.2" fill="url(#gO)"/>
<circle cx="642.2" cy="551.8" r="5.2" fill="url(#gO)"/>
<circle cx="515.9" cy="632.8" r="5.2" fill="url(#gO)"/>
<circle cx="515.5" cy="476.5" r="5.2" fill="url(#gO)"/>
<circle cx="660.9" cy="476.3" r="5.2" fill="url(#gO)"/>
<path d="M461.4 500.8L435 534.5L453.7 459Z" fill="rgb(135,22,99)" fill-opacity="0.27"/>
<path d="M606.7 500.6L580.4 534.2L599.1 458.7Z" fill="rgb(135,22,99)" fill-opacity="0.27"/>
<path d="M548.1 583.5L499.4 553.6" stroke="rgb(24,120,220)" stroke-width="2.9"/><path d="M548.1 583.5L499.4 553.6" stroke="#6ab8ff" stroke-width="1" stroke-opacity=".3"/>
<path d="M547.8 427.2L499 397.3" stroke="rgb(24,120,220)" stroke-width="2.9"/><path d="M547.8 427.2L499 397.3" stroke="#6ab8ff" stroke-width="1" stroke-opacity=".3"/>
<path d="M475.3 505.5L495.7 549.4" stroke="rgb(236,22,126)" stroke-width="2.9"/><path d="M475.3 505.5L495.7 549.4" stroke="#ff7ab8" stroke-width="1" stroke-opacity=".3"/>
<path d="M620.6 505.3L641 549.2" stroke="rgb(236,22,126)" stroke-width="2.9"/><path d="M620.6 505.3L641 549.2" stroke="#ff7ab8" stroke-width="1" stroke-opacity=".3"/>
<path d="M548.1 583.5L517.5 630.4" stroke="rgb(24,120,220)" stroke-width="2.9"/><path d="M548.1 583.5L517.5 630.4" stroke="#6ab8ff" stroke-width="1" stroke-opacity=".3"/>
<path d="M547.8 427.2L517.1 474.1" stroke="rgb(24,120,220)" stroke-width="2.9"/><path d="M547.8 427.2L517.1 474.1" stroke="#6ab8ff" stroke-width="1" stroke-opacity=".3"/>
<path d="M475.3 505.5L513.2 478.2" stroke="rgb(236,22,126)" stroke-width="2.9"/><path d="M475.3 505.5L513.2 478.2" stroke="#ff7ab8" stroke-width="1" stroke-opacity=".3"/>
<path d="M620.6 505.3L658.5 478" stroke="rgb(236,22,126)" stroke-width="2.9"/><path d="M620.6 505.3L658.5 478" stroke="#ff7ab8" stroke-width="1" stroke-opacity=".3"/>
<path d="M534.2 588.5L580.4 534.2L599.4 615Z" fill="rgb(54,87,142)" fill-opacity="0.27"/>
<path d="M533.9 432.2L580.1 377.9L599.1 458.7Z" fill="rgb(54,87,142)" fill-opacity="0.27"/>
<path d="M551.5 578.4L578.8 536.7" stroke="rgb(24,120,220)" stroke-width="2.9"/><path d="M551.5 578.4L578.8 536.7" stroke="#6ab8ff" stroke-width="1" stroke-opacity=".3"/>
<path d="M551.2 422.1L578.5 380.4" stroke="rgb(24,120,220)" stroke-width="2.9"/><path d="M551.2 422.1L578.5 380.4" stroke="#6ab8ff" stroke-width="1" stroke-opacity=".3"/>
<path d="M470 509.3L437.4 532.8" stroke="rgb(236,22,126)" stroke-width="2.9"/><path d="M470 509.3L437.4 532.8" stroke="#ff7ab8" stroke-width="1" stroke-opacity=".3"/>
<path d="M615.4 509.1L582.7 532.5" stroke="rgb(236,22,126)" stroke-width="2.9"/><path d="M615.4 509.1L582.7 532.5" stroke="#ff7ab8" stroke-width="1" stroke-opacity=".3"/>
<path d="M553.4 586.7L596.9 613.5" stroke="rgb(24,120,220)" stroke-width="2.9"/><path d="M553.4 586.7L596.9 613.5" stroke="#6ab8ff" stroke-width="1" stroke-opacity=".3"/>
<path d="M553 430.4L596.6 457.2" stroke="rgb(24,120,220)" stroke-width="2.9"/><path d="M553 430.4L596.6 457.2" stroke="#6ab8ff" stroke-width="1" stroke-opacity=".3"/>
<path d="M472.6 499.6L454.9 461.6" stroke="rgb(236,22,126)" stroke-width="2.9"/><path d="M472.6 499.6L454.9 461.6" stroke="#ff7ab8" stroke-width="1" stroke-opacity=".3"/>
<path d="M617.9 499.4L600.3 461.3" stroke="rgb(236,22,126)" stroke-width="2.9"/><path d="M617.9 499.4L600.3 461.3" stroke="#ff7ab8" stroke-width="1" stroke-opacity=".3"/>
<circle cx="548.1" cy="583.5" r="7.7" fill="url(#gMn)"/>
<circle cx="547.8" cy="427.2" r="7.7" fill="url(#gMn)"/>
<circle cx="475.3" cy="505.5" r="8.2" fill="url(#gCo)"/>
<circle cx="620.6" cy="505.3" r="8.2" fill="url(#gCo)"/>
<circle cx="580.4" cy="534.2" r="5.2" fill="url(#gO)"/>
<circle cx="435" cy="534.5" r="5.2" fill="url(#gO)"/>
<circle cx="580.1" cy="377.9" r="5.2" fill="url(#gO)"/>
<circle cx="599.4" cy="615" r="5.2" fill="url(#gO)"/>
<circle cx="453.7" cy="459" r="5.2" fill="url(#gO)"/>
<circle cx="599.1" cy="458.7" r="5.2" fill="url(#gO)"/>
<path d="M473.4 504.9L462.2 501.1" stroke="rgb(98,9,52)" stroke-width="2.9"/>
<path d="M618.8 504.6L607.6 500.9" stroke="rgb(98,9,52)" stroke-width="2.9"/>
<path d="M546.7 584L534.9 588.2" stroke="rgb(7,37,69)" stroke-width="2.9"/>
<path d="M546.3 427.8L534.6 432" stroke="rgb(7,37,69)" stroke-width="2.9"/>
<path d="M461.4 500.8L507.8 554.9L526.4 474.1Z" fill="rgb(40,72,122)" fill-opacity="0.27"/>
<path d="M606.7 500.6L653.1 554.7L671.8 473.8Z" fill="rgb(40,72,122)" fill-opacity="0.27"/>
<path d="M534.2 588.5L507.8 554.9L526.7 630.4Z" fill="rgb(104,33,87)" fill-opacity="0.27"/>
<path d="M533.9 432.2L507.4 398.6L526.4 474.1Z" fill="rgb(104,33,87)" fill-opacity="0.27"/>
<circle cx="461.4" cy="500.8" r="5.2" fill="url(#gO)"/>
<circle cx="606.7" cy="500.6" r="5.2" fill="url(#gO)"/>
<path d="M461.4 500.8L442.8 456.6L526.4 474.1Z" fill="rgb(51,84,138)" fill-opacity="0.27"/>
<path d="M606.7 500.6L588.2 456.3L671.8 473.8Z" fill="rgb(51,84,138)" fill-opacity="0.27"/>
<path d="M461.4 500.8L507.8 554.9L424.2 537.4Z" fill="rgb(40,72,122)" fill-opacity="0.27"/>
<path d="M606.7 500.6L653.1 554.7L569.5 537.2Z" fill="rgb(40,72,122)" fill-opacity="0.27"/>
<path d="M534.2 588.5L588.5 612.6L526.7 630.4Z" fill="rgb(92,38,82)" fill-opacity="0.27"/>
<path d="M533.9 432.2L588.2 456.3L526.4 474.1Z" fill="rgb(92,38,82)" fill-opacity="0.27"/>
<path d="M534.2 588.5L507.8 554.9L569.5 537.2Z" fill="rgb(103,33,86)" fill-opacity="0.27"/>
<path d="M533.9 432.2L507.4 398.6L569.2 380.9Z" fill="rgb(103,33,86)" fill-opacity="0.27"/>
<circle cx="550.4" cy="494.4" r="10.3" fill="url(#gEr)"/>
<circle cx="478" cy="594.8" r="10.3" fill="url(#gEr)"/>
<circle cx="477.6" cy="438.5" r="10.3" fill="url(#gEr)"/>
<circle cx="623.3" cy="594.6" r="10.3" fill="url(#gEr)"/>
<circle cx="623" cy="438.3" r="10.3" fill="url(#gEr)"/>
<circle cx="534.2" cy="588.5" r="5.2" fill="url(#gO)"/>
<circle cx="533.9" cy="432.2" r="5.2" fill="url(#gO)"/>
<path d="M461.4 500.8L442.8 456.6L424.2 537.4Z" fill="rgb(56,90,145)" fill-opacity="0.27"/>
<path d="M606.7 500.6L588.2 456.3L569.5 537.2Z" fill="rgb(56,90,145)" fill-opacity="0.27"/>
<path d="M534.2 588.5L588.5 612.6L569.5 537.2Z" fill="rgb(92,38,82)" fill-opacity="0.27"/>
<path d="M533.9 432.2L588.2 456.3L569.2 380.9Z" fill="rgb(92,38,82)" fill-opacity="0.27"/>
<path d="M475.3 505.7L462.1 501.1" stroke="rgb(7,37,69)" stroke-width="2.9"/>
<path d="M620.6 505.5L607.4 500.8" stroke="rgb(7,37,69)" stroke-width="2.9"/>
<path d="M562 579L507.8 554.9L526.7 630.4Z" fill="rgb(128,24,96)" fill-opacity="0.27"/>
<path d="M561.7 422.8L507.4 398.6L526.4 474.1Z" fill="rgb(128,24,96)" fill-opacity="0.27"/>
<path d="M548.1 583.8L535.1 588.2" stroke="rgb(98,9,52)" stroke-width="2.9"/>
<path d="M547.8 427.5L534.7 431.9" stroke="rgb(98,9,52)" stroke-width="2.9"/>
<path d="M489.2 510.7L507.8 554.9L526.4 474.1Z" fill="rgb(40,72,122)" fill-opacity="0.27"/>
<path d="M634.5 510.4L653.1 554.7L671.8 473.8Z" fill="rgb(40,72,122)" fill-opacity="0.27"/>
<path d="M562 579L588.5 612.6L526.7 630.4Z" fill="rgb(103,33,86)" fill-opacity="0.27"/>
<path d="M561.7 422.8L588.2 456.3L526.4 474.1Z" fill="rgb(103,33,86)" fill-opacity="0.27"/>
<path d="M562 579L507.8 554.9L569.5 537.2Z" fill="rgb(141,20,101)" fill-opacity="0.27"/>
<path d="M561.7 422.8L507.4 398.6L569.2 380.9Z" fill="rgb(141,20,101)" fill-opacity="0.27"/>
<path d="M489.2 510.7L442.8 456.6L526.4 474.1Z" fill="rgb(63,98,155)" fill-opacity="0.27"/>
<path d="M634.5 510.4L588.2 456.3L671.8 473.8Z" fill="rgb(63,98,155)" fill-opacity="0.27"/>
<path d="M489.2 510.7L507.8 554.9L424.2 537.4Z" fill="rgb(43,75,126)" fill-opacity="0.27"/>
<path d="M634.5 510.4L653.1 554.7L569.5 537.2Z" fill="rgb(43,75,126)" fill-opacity="0.27"/>
<circle cx="526.4" cy="474.1" r="5.2" fill="url(#gO)"/>
<circle cx="526.7" cy="630.4" r="5.2" fill="url(#gO)"/>
<circle cx="671.8" cy="473.8" r="5.2" fill="url(#gO)"/>
<circle cx="507.8" cy="554.9" r="5.2" fill="url(#gO)"/>
<circle cx="507.4" cy="398.6" r="5.2" fill="url(#gO)"/>
<circle cx="653.1" cy="554.7" r="5.2" fill="url(#gO)"/>
<path d="M562 579L588.5 612.6L569.5 537.2Z" fill="rgb(102,34,86)" fill-opacity="0.27"/>
<path d="M561.7 422.8L588.2 456.3L569.2 380.9Z" fill="rgb(102,34,86)" fill-opacity="0.27"/>
<path d="M475.3 505.7L523.9 475.6" stroke="rgb(24,120,220)" stroke-width="2.9"/><path d="M475.3 505.7L523.9 475.6" stroke="#6ab8ff" stroke-width="1" stroke-opacity=".3"/>
<path d="M620.6 505.5L669.3 475.4" stroke="rgb(24,120,220)" stroke-width="2.9"/><path d="M620.6 505.5L669.3 475.4" stroke="#6ab8ff" stroke-width="1" stroke-opacity=".3"/>
<path d="M548.1 583.8L527.9 627.7" stroke="rgb(236,22,126)" stroke-width="2.9"/><path d="M548.1 583.8L527.9 627.7" stroke="#ff7ab8" stroke-width="1" stroke-opacity=".3"/>
<path d="M547.8 427.5L527.6 471.5" stroke="rgb(236,22,126)" stroke-width="2.9"/><path d="M547.8 427.5L527.6 471.5" stroke="#ff7ab8" stroke-width="1" stroke-opacity=".3"/>
<path d="M475.3 505.7L506.1 552.5" stroke="rgb(24,120,220)" stroke-width="2.9"/><path d="M475.3 505.7L506.1 552.5" stroke="#6ab8ff" stroke-width="1" stroke-opacity=".3"/>
<path d="M620.6 505.5L651.5 552.2" stroke="rgb(24,120,220)" stroke-width="2.9"/><path d="M620.6 505.5L651.5 552.2" stroke="#6ab8ff" stroke-width="1" stroke-opacity=".3"/>
<path d="M548.1 583.8L510.1 556.6" stroke="rgb(236,22,126)" stroke-width="2.9"/><path d="M548.1 583.8L510.1 556.6" stroke="#ff7ab8" stroke-width="1" stroke-opacity=".3"/>
<path d="M547.8 427.5L509.8 400.3" stroke="rgb(236,22,126)" stroke-width="2.9"/><path d="M547.8 427.5L509.8 400.3" stroke="#ff7ab8" stroke-width="1" stroke-opacity=".3"/>
<path d="M489.2 510.7L442.8 456.6L424.2 537.4Z" fill="rgb(68,104,163)" fill-opacity="0.27"/>
<path d="M634.5 510.4L588.2 456.3L569.5 537.2Z" fill="rgb(68,104,163)" fill-opacity="0.27"/>
<path d="M471.9 500.6L444.4 459" stroke="rgb(24,120,220)" stroke-width="2.9"/><path d="M471.9 500.6L444.4 459" stroke="#6ab8ff" stroke-width="1" stroke-opacity=".3"/>
<path d="M617.3 500.4L589.8 458.8" stroke="rgb(24,120,220)" stroke-width="2.9"/><path d="M617.3 500.4L589.8 458.8" stroke="#6ab8ff" stroke-width="1" stroke-opacity=".3"/>
<path d="M553.4 587.6L586.1 610.9" stroke="rgb(236,22,126)" stroke-width="2.9"/><path d="M553.4 587.6L586.1 610.9" stroke="#ff7ab8" stroke-width="1" stroke-opacity=".3"/>
<path d="M553.1 431.3L585.8 454.6" stroke="rgb(236,22,126)" stroke-width="2.9"/><path d="M553.1 431.3L585.8 454.6" stroke="#ff7ab8" stroke-width="1" stroke-opacity=".3"/>
<path d="M470.1 509L426.7 535.9" stroke="rgb(24,120,220)" stroke-width="2.9"/><path d="M470.1 509L426.7 535.9" stroke="#6ab8ff" stroke-width="1" stroke-opacity=".3"/>
<path d="M615.4 508.7L572 535.6" stroke="rgb(24,120,220)" stroke-width="2.9"/><path d="M615.4 508.7L572 535.6" stroke="#6ab8ff" stroke-width="1" stroke-opacity=".3"/>
<path d="M550.8 577.9L568.3 539.8" stroke="rgb(236,22,126)" stroke-width="2.9"/><path d="M550.8 577.9L568.3 539.8" stroke="#ff7ab8" stroke-width="1" stroke-opacity=".3"/>
<path d="M550.5 421.6L568 383.5" stroke="rgb(236,22,126)" stroke-width="2.9"/><path d="M550.5 421.6L568 383.5" stroke="#ff7ab8" stroke-width="1" stroke-opacity=".3"/>
<circle cx="475.3" cy="505.7" r="7.7" fill="url(#gMn)"/>
<circle cx="620.6" cy="505.5" r="7.7" fill="url(#gMn)"/>
<circle cx="548.1" cy="583.8" r="8.2" fill="url(#gCo)"/>
<circle cx="547.8" cy="427.5" r="8.2" fill="url(#gCo)"/>
<circle cx="442.8" cy="456.6" r="5.2" fill="url(#gO)"/>
<circle cx="588.5" cy="612.6" r="5.2" fill="url(#gO)"/>
<circle cx="588.2" cy="456.3" r="5.2" fill="url(#gO)"/>
<circle cx="424.2" cy="537.4" r="5.2" fill="url(#gO)"/>
<circle cx="569.5" cy="537.2" r="5.2" fill="url(#gO)"/>
<circle cx="569.2" cy="380.9" r="5.2" fill="url(#gO)"/>
<path d="M550 583.1L561.2 579.3" stroke="rgb(98,9,52)" stroke-width="2.9"/>
<path d="M549.7 426.8L560.9 423" stroke="rgb(98,9,52)" stroke-width="2.9"/>
<path d="M476.7 506.3L488.5 510.4" stroke="rgb(7,37,69)" stroke-width="2.9"/>
<path d="M622.1 506L633.9 510.2" stroke="rgb(7,37,69)" stroke-width="2.9"/>
<path d="M562 579L515.9 633.3L496.9 552.5Z" fill="rgb(40,72,123)" fill-opacity="0.27"/>
<path d="M561.7 422.8L515.5 477L496.5 396.2Z" fill="rgb(40,72,123)" fill-opacity="0.27"/>
<path d="M489.2 510.7L515.5 477L496.9 552.5Z" fill="rgb(92,38,82)" fill-opacity="0.27"/>
<path d="M634.5 510.4L660.9 476.8L642.2 552.3Z" fill="rgb(92,38,82)" fill-opacity="0.27"/>
<circle cx="562" cy="579" r="5.2" fill="url(#gO)"/>
<circle cx="561.7" cy="422.8" r="5.2" fill="url(#gO)"/>
<path d="M562 579L580.4 534.7L496.9 552.5Z" fill="rgb(52,85,139)" fill-opacity="0.27"/>
<path d="M561.7 422.8L580.1 378.4L496.5 396.2Z" fill="rgb(52,85,139)" fill-opacity="0.27"/>
<path d="M562 579L515.9 633.3L599.4 615.5Z" fill="rgb(40,72,122)" fill-opacity="0.27"/>
<path d="M561.7 422.8L515.5 477L599 459.2Z" fill="rgb(40,72,122)" fill-opacity="0.27"/>
<path d="M489.2 510.7L435 535L496.9 552.5Z" fill="rgb(92,38,82)" fill-opacity="0.27"/>
<path d="M634.5 510.4L580.4 534.7L642.2 552.3Z" fill="rgb(92,38,82)" fill-opacity="0.27"/>
<path d="M489.2 510.7L515.5 477L453.7 459.5Z" fill="rgb(105,33,87)" fill-opacity="0.27"/>
<path d="M634.5 510.4L660.9 476.8L599 459.2Z" fill="rgb(105,33,87)" fill-opacity="0.27"/>
<circle cx="472.9" cy="573" r="10.3" fill="url(#gEr)"/>
<circle cx="472.6" cy="416.7" r="10.3" fill="url(#gEr)"/>
<circle cx="618.3" cy="572.7" r="10.3" fill="url(#gEr)"/>
<circle cx="618" cy="416.4" r="10.3" fill="url(#gEr)"/>
<circle cx="545.5" cy="516.8" r="10.3" fill="url(#gEr)"/>
<circle cx="489.2" cy="510.7" r="5.2" fill="url(#gO)"/>
<circle cx="634.5" cy="510.4" r="5.2" fill="url(#gO)"/>
<path d="M562 579L580.4 534.7L599.4 615.5Z" fill="rgb(40,72,122)" fill-opacity="0.27"/>
<path d="M561.7 422.8L580.1 378.4L599 459.2Z" fill="rgb(40,72,122)" fill-opacity="0.27"/>
<path d="M489.2 510.7L435 535L453.7 459.5Z" fill="rgb(108,32,88)" fill-opacity="0.27"/>
<path d="M634.5 510.4L580.4 534.7L599 459.2Z" fill="rgb(108,32,88)" fill-opacity="0.27"/>
<path d="M548.1 584L561.3 579.3" stroke="rgb(7,37,69)" stroke-width="2.9"/>
<path d="M547.8 427.7L561 423" stroke="rgb(7,37,69)" stroke-width="2.9"/>
<path d="M461.4 501.3L515.5 477L496.9 552.5Z" fill="rgb(98,35,84)" fill-opacity="0.27"/>
<path d="M606.7 501.1L660.9 476.8L642.2 552.3Z" fill="rgb(98,35,84)" fill-opacity="0.27"/>
<path d="M475.3 506L488.4 510.4" stroke="rgb(98,9,52)" stroke-width="2.9"/>
<path d="M620.6 505.8L633.7 510.2" stroke="rgb(98,9,52)" stroke-width="2.9"/>
<path d="M534.2 589L515.9 633.3L496.9 552.5Z" fill="rgb(61,95,152)" fill-opacity="0.27"/>
<path d="M533.9 432.7L515.5 477L496.5 396.2Z" fill="rgb(61,95,152)" fill-opacity="0.27"/>
<path d="M461.4 501.3L435 535L496.9 552.5Z" fill="rgb(101,34,85)" fill-opacity="0.27"/>
<path d="M606.7 501.1L580.4 534.7L642.2 552.3Z" fill="rgb(101,34,85)" fill-opacity="0.27"/>
<path d="M461.4 501.3L515.5 477L453.7 459.5Z" fill="rgb(124,26,95)" fill-opacity="0.27"/>
<path d="M606.7 501.1L660.9 476.8L599 459.2Z" fill="rgb(124,26,95)" fill-opacity="0.27"/>
<path d="M534.2 589L580.4 534.7L496.9 552.5Z" fill="rgb(71,107,167)" fill-opacity="0.27"/>
<path d="M533.9 432.7L580.1 378.4L496.5 396.2Z" fill="rgb(71,107,167)" fill-opacity="0.27"/>
<path d="M534.2 589L515.9 633.3L599.4 615.5Z" fill="rgb(42,75,125)" fill-opacity="0.27"/>
<path d="M533.9 432.7L515.5 477L599 459.2Z" fill="rgb(42,75,125)" fill-opacity="0.27"/>
<circle cx="496.9" cy="552.5" r="5.2" fill="url(#gO)"/>
<circle cx="496.5" cy="396.2" r="5.2" fill="url(#gO)"/>
<circle cx="642.2" cy="552.3" r="5.2" fill="url(#gO)"/>
<circle cx="515.9" cy="633.3" r="5.2" fill="url(#gO)"/>
<circle cx="515.5" cy="477" r="5.2" fill="url(#gO)"/>
<circle cx="660.9" cy="476.8" r="5.2" fill="url(#gO)"/>
<path d="M461.4 501.3L435 535L453.7 459.5Z" fill="rgb(135,22,99)" fill-opacity="0.27"/>
<path d="M606.7 501.1L580.4 534.7L599 459.2Z" fill="rgb(135,22,99)" fill-opacity="0.27"/>
<path d="M548.1 584L499.4 554.1" stroke="rgb(24,120,220)" stroke-width="2.9"/><path d="M548.1 584L499.4 554.1" stroke="#6ab8ff" stroke-width="1" stroke-opacity=".3"/>
<path d="M547.8 427.7L499 397.8" stroke="rgb(24,120,220)" stroke-width="2.9"/><path d="M547.8 427.7L499 397.8" stroke="#6ab8ff" stroke-width="1" stroke-opacity=".3"/>
<path d="M475.3 506L495.7 549.9" stroke="rgb(236,22,126)" stroke-width="2.9"/><path d="M475.3 506L495.7 549.9" stroke="#ff7ab8" stroke-width="1" stroke-opacity=".3"/>
<path d="M620.6 505.8L641 549.7" stroke="rgb(236,22,126)" stroke-width="2.9"/><path d="M620.6 505.8L641 549.7" stroke="#ff7ab8" stroke-width="1" stroke-opacity=".3"/>
<path d="M548.1 584L517.5 630.9" stroke="rgb(24,120,220)" stroke-width="2.9"/><path d="M548.1 584L517.5 630.9" stroke="#6ab8ff" stroke-width="1" stroke-opacity=".3"/>
<path d="M547.8 427.7L517.1 474.6" stroke="rgb(24,120,220)" stroke-width="2.9"/><path d="M547.8 427.7L517.1 474.6" stroke="#6ab8ff" stroke-width="1" stroke-opacity=".3"/>
<path d="M475.3 506L513.2 478.7" stroke="rgb(236,22,126)" stroke-width="2.9"/><path d="M475.3 506L513.2 478.7" stroke="#ff7ab8" stroke-width="1" stroke-opacity=".3"/>
<path d="M620.6 505.8L658.5 478.5" stroke="rgb(236,22,126)" stroke-width="2.9"/><path d="M620.6 505.8L658.5 478.5" stroke="#ff7ab8" stroke-width="1" stroke-opacity=".3"/>
<path d="M534.2 589L580.4 534.7L599.4 615.5Z" fill="rgb(54,87,142)" fill-opacity="0.27"/>
<path d="M533.9 432.7L580.1 378.4L599 459.2Z" fill="rgb(54,87,142)" fill-opacity="0.27"/>
<path d="M475.4 584.1L475.4 574.4" stroke="#3a3a3a" stroke-width="1.0"/>
<path d="M475.4 574.4L475.4 564.6" stroke="#3a3a3a" stroke-width="1.0"/>
<path d="M475.4 564.6L475.4 554.8" stroke="#3a3a3a" stroke-width="1.0"/>
<path d="M475.4 554.8L475.4 545.1" stroke="#3a3a3a" stroke-width="1.0"/>
<path d="M475.4 545.1L475.3 535.3" stroke="#3a3a3a" stroke-width="1.0"/>
<path d="M475.3 535.3L475.3 525.5" stroke="#3a3a3a" stroke-width="1.0"/>
<path d="M475.3 525.5L475.3 515.8" stroke="#3a3a3a" stroke-width="1.0"/>
<path d="M475.3 515.8L475.3 506" stroke="#3a3a3a" stroke-width="1.0"/>
<path d="M475.3 506L475.3 496.2" stroke="#3a3a3a" stroke-width="1.0"/>
<path d="M475.3 496.2L475.2 486.5" stroke="#3a3a3a" stroke-width="1.0"/>
<path d="M475.2 486.5L475.2 476.7" stroke="#3a3a3a" stroke-width="1.0"/>
<path d="M475.2 476.7L475.2 466.9" stroke="#3a3a3a" stroke-width="1.0"/>
<path d="M475.2 466.9L475.2 457.1" stroke="#3a3a3a" stroke-width="1.0"/>
<path d="M475.2 457.1L475.2 447.4" stroke="#3a3a3a" stroke-width="1.0"/>
<path d="M475.2 447.4L475.1 437.6" stroke="#3a3a3a" stroke-width="1.0"/>
<path d="M475.1 437.6L475.1 427.8" stroke="#3a3a3a" stroke-width="1.0"/>
<path d="M475.4 584.1L484.5 584.1" stroke="#3a3a3a" stroke-width="1.0"/>
<path d="M484.5 584.1L493.6 584.1" stroke="#3a3a3a" stroke-width="1.0"/>
<path d="M493.6 584.1L502.7 584.1" stroke="#3a3a3a" stroke-width="1.0"/>
<path d="M502.7 584.1L511.8 584.1" stroke="#3a3a3a" stroke-width="1.0"/>
<path d="M511.8 584.1L520.9 584.1" stroke="#3a3a3a" stroke-width="1.0"/>
<path d="M520.9 584.1L530 584" stroke="#3a3a3a" stroke-width="1.0"/>
<path d="M530 584L539 584" stroke="#3a3a3a" stroke-width="1.0"/>
<path d="M539 584L548.1 584" stroke="#3a3a3a" stroke-width="1.0"/>
<path d="M548.1 584L557.2 584" stroke="#3a3a3a" stroke-width="1.0"/>
<path d="M557.2 584L566.3 584" stroke="#3a3a3a" stroke-width="1.0"/>
<path d="M566.3 584L575.4 584" stroke="#3a3a3a" stroke-width="1.0"/>
<path d="M575.4 584L584.5 584" stroke="#3a3a3a" stroke-width="1.0"/>
<path d="M584.5 584L593.5 583.9" stroke="#3a3a3a" stroke-width="1.0"/>
<path d="M593.5 583.9L602.6 583.9" stroke="#3a3a3a" stroke-width="1.0"/>
<path d="M602.6 583.9L611.7 583.9" stroke="#3a3a3a" stroke-width="1.0"/>
<path d="M611.7 583.9L620.8 583.9" stroke="#3a3a3a" stroke-width="1.0"/>
<path d="M475.1 427.8L484.2 427.8" stroke="#3a3a3a" stroke-width="1.0"/>
<path d="M484.2 427.8L493.3 427.8" stroke="#3a3a3a" stroke-width="1.0"/>
<path d="M493.3 427.8L502.4 427.8" stroke="#3a3a3a" stroke-width="1.0"/>
<path d="M502.4 427.8L511.5 427.8" stroke="#3a3a3a" stroke-width="1.0"/>
<path d="M511.5 427.8L520.5 427.8" stroke="#3a3a3a" stroke-width="1.0"/>
<path d="M520.5 427.8L529.6 427.8" stroke="#3a3a3a" stroke-width="1.0"/>
<path d="M529.6 427.8L538.7 427.7" stroke="#3a3a3a" stroke-width="1.0"/>
<path d="M538.7 427.7L547.8 427.7" stroke="#3a3a3a" stroke-width="1.0"/>
<path d="M547.8 427.7L556.9 427.7" stroke="#3a3a3a" stroke-width="1.0"/>
<path d="M556.9 427.7L566 427.7" stroke="#3a3a3a" stroke-width="1.0"/>
<path d="M566 427.7L575 427.7" stroke="#3a3a3a" stroke-width="1.0"/>
<path d="M575 427.7L584.1 427.7" stroke="#3a3a3a" stroke-width="1.0"/>
<path d="M584.1 427.7L593.2 427.6" stroke="#3a3a3a" stroke-width="1.0"/>
<path d="M593.2 427.6L602.3 427.6" stroke="#3a3a3a" stroke-width="1.0"/>
<path d="M602.3 427.6L611.4 427.6" stroke="#3a3a3a" stroke-width="1.0"/>
<path d="M611.4 427.6L620.5 427.6" stroke="#3a3a3a" stroke-width="1.0"/>
<path d="M620.8 583.9L620.8 574.1" stroke="#3a3a3a" stroke-width="1.0"/>
<path d="M620.8 574.1L620.8 564.4" stroke="#3a3a3a" stroke-width="1.0"/>
<path d="M620.8 564.4L620.7 554.6" stroke="#3a3a3a" stroke-width="1.0"/>
<path d="M620.7 554.6L620.7 544.8" stroke="#3a3a3a" stroke-width="1.0"/>
<path d="M620.7 544.8L620.7 535.1" stroke="#3a3a3a" stroke-width="1.0"/>
<path d="M620.7 535.1L620.7 525.3" stroke="#3a3a3a" stroke-width="1.0"/>
<path d="M620.7 525.3L620.7 515.5" stroke="#3a3a3a" stroke-width="1.0"/>
<path d="M620.7 515.5L620.6 505.8" stroke="#3a3a3a" stroke-width="1.0"/>
<path d="M620.6 505.8L620.6 496" stroke="#3a3a3a" stroke-width="1.0"/>
<path d="M620.6 496L620.6 486.2" stroke="#3a3a3a" stroke-width="1.0"/>
<path d="M620.6 486.2L620.6 476.4" stroke="#3a3a3a" stroke-width="1.0"/>
<path d="M620.6 476.4L620.6 466.7" stroke="#3a3a3a" stroke-width="1.0"/>
<path d="M620.6 466.7L620.5 456.9" stroke="#3a3a3a" stroke-width="1.0"/>
<path d="M620.5 456.9L620.5 447.1" stroke="#3a3a3a" stroke-width="1.0"/>
<path d="M620.5 447.1L620.5 437.4" stroke="#3a3a3a" stroke-width="1.0"/>
<path d="M620.5 437.4L620.5 427.6" stroke="#3a3a3a" stroke-width="1.0"/>
<path d="M551.5 578.9L578.8 537.2" stroke="rgb(24,120,220)" stroke-width="2.9"/><path d="M551.5 578.9L578.8 537.2" stroke="#6ab8ff" stroke-width="1" stroke-opacity=".3"/>
<path d="M551.1 422.6L578.5 380.9" stroke="rgb(24,120,220)" stroke-width="2.9"/><path d="M551.1 422.6L578.5 380.9" stroke="#6ab8ff" stroke-width="1" stroke-opacity=".3"/>
<path d="M470 509.8L437.4 533.3" stroke="rgb(236,22,126)" stroke-width="2.9"/><path d="M470 509.8L437.4 533.3" stroke="#ff7ab8" stroke-width="1" stroke-opacity=".3"/>
<path d="M615.4 509.6L582.7 533" stroke="rgb(236,22,126)" stroke-width="2.9"/><path d="M615.4 509.6L582.7 533" stroke="#ff7ab8" stroke-width="1" stroke-opacity=".3"/>
<path d="M553.4 587.2L596.9 614" stroke="rgb(24,120,220)" stroke-width="2.9"/><path d="M553.4 587.2L596.9 614" stroke="#6ab8ff" stroke-width="1" stroke-opacity=".3"/>
<path d="M553 430.9L596.5 457.7" stroke="rgb(24,120,220)" stroke-width="2.9"/><path d="M553 430.9L596.5 457.7" stroke="#6ab8ff" stroke-width="1" stroke-opacity=".3"/>
<path d="M472.6 500.1L454.9 462.1" stroke="rgb(236,22,126)" stroke-width="2.9"/><path d="M472.6 500.1L454.9 462.1" stroke="#ff7ab8" stroke-width="1" stroke-opacity=".3"/>
<path d="M617.9 499.9L600.3 461.8" stroke="rgb(236,22,126)" stroke-width="2.9"/><path d="M617.9 499.9L600.3 461.8" stroke="#ff7ab8" stroke-width="1" stroke-opacity=".3"/>
<circle cx="548.1" cy="584" r="7.7" fill="url(#gMn)"/>
<circle cx="547.8" cy="427.7" r="7.7" fill="url(#gMn)"/>
<circle cx="475.3" cy="506" r="8.2" fill="url(#gCo)"/>
<circle cx="620.6" cy="505.8" r="8.2" fill="url(#gCo)"/>
<circle cx="580.4" cy="534.7" r="5.2" fill="url(#gO)"/>
<circle cx="435" cy="535" r="5.2" fill="url(#gO)"/>
<circle cx="580.1" cy="378.4" r="5.2" fill="url(#gO)"/>
<circle cx="599.4" cy="615.5" r="5.2" fill="url(#gO)"/>
<circle cx="453.7" cy="459.5" r="5.2" fill="url(#gO)"/>
<circle cx="599" cy="459.2" r="5.2" fill="url(#gO)"/>
<path d="M473.4 505.4L462.2 501.6" stroke="rgb(98,9,52)" stroke-width="2.9"/>
<path d="M618.8 505.1L607.6 501.4" stroke="rgb(98,9,52)" stroke-width="2.9"/>
<path d="M546.7 584.5L534.9 588.7" stroke="rgb(7,37,69)" stroke-width="2.9"/>
<path d="M546.3 428.2L534.6 432.4" stroke="rgb(7,37,69)" stroke-width="2.9"/>
<circle cx="461.4" cy="501.3" r="5.2" fill="url(#gO)"/>
<circle cx="606.7" cy="501.1" r="5.2" fill="url(#gO)"/>
<circle cx="550.4" cy="494.9" r="10.3" fill="url(#gEr)"/>
<circle cx="478" cy="595.3" r="10.3" fill="url(#gEr)"/>
<circle cx="477.6" cy="439" r="10.3" fill="url(#gEr)"/>
<circle cx="623.3" cy="595.1" r="10.3" fill="url(#gEr)"/>
<circle cx="623" cy="438.8" r="10.3" fill="url(#gEr)"/>
<circle cx="534.2" cy="589" r="5.2" fill="url(#gO)"/>
<circle cx="533.9" cy="432.7" r="5.2" fill="url(#gO)"/></g>
<text x="44.9" y="349" font-size="30.3" font-weight="bold">(b)</text>
<text x="387.3" y="395" font-size="30.6" font-weight="bold">(c)</text>
<g font-size="28" font-weight="bold">
<text x="313.9" y="451.7" fill="#1470c4">Mn<tspan font-size="18" dy="-7.6">4+</tspan></text>
<text x="308.4" y="540.6" fill="#d00a8c">Co<tspan font-size="18" dy="-7.6">2+</tspan></text>
<text x="335.3" y="584.8" fill="#a6cc10">O<tspan font-size="18" dy="-7.5" dx="-1.6">2-</tspan></text>
<text x="326.5" y="665.5" fill="#550fb0">Er<tspan font-size="18" dy="-7.6">3+</tspan></text>
</g>
<path d="M22.4 572.1L22.4 544.6" stroke="#000" stroke-width="2.9" stroke-linecap="square"/><path d="M22.4 535.1L27.8 544.6L17.0 544.6Z" fill="#000"/>
<path d="M22.4 572.1L47.5 572.5" stroke="#000" stroke-width="2.9" stroke-linecap="square"/><path d="M57.0 572.7L47.4 577.9L47.6 567.1Z" fill="#000"/>
<path d="M22.4 572.1L28.2 597.0" stroke="#000" stroke-width="2.9" stroke-linecap="square"/><path d="M30.4 606.3L23.0 598.3L33.5 595.8Z" fill="#000"/>
<g font-size="29" font-weight="bold" font-style="italic">
<text x="16" y="528.1">c</text><text x="60.8" y="583.5">b</text><text x="36" y="616.8">a</text>
<text x="409" y="587.1">b</text><text x="458.1" y="636.1">a</text>
</g>
<path d="M414.2 631.7L414.2 605.9" stroke="#000" stroke-width="3.2" stroke-linecap="square"/><path d="M414.2 595.9L419.7 605.9L408.7 605.9Z" fill="#000"/>
<path d="M414.2 631.7L442.2 631.7" stroke="#000" stroke-width="3.2" stroke-linecap="square"/><path d="M452.2 631.7L442.2 637.2L442.2 626.2Z" fill="#000"/>
</svg></body></html>
